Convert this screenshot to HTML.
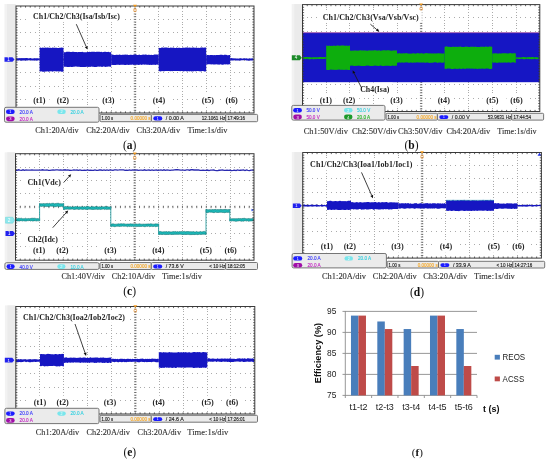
<!DOCTYPE html>
<html><head><meta charset="utf-8"><title>Figure</title>
<style>html,body{margin:0;padding:0;background:#fff;}svg{display:block;}</style></head>
<body><svg width="550" height="461" viewBox="0 0 550 461">
<defs><filter id="soft" x="0" y="0" width="550" height="461" filterUnits="userSpaceOnUse"><feGaussianBlur stdDeviation="0.35"/></filter></defs>
<rect width="550" height="461" fill="#fff"/>
<g filter="url(#soft)">
<rect width="550" height="461" fill="#fff"/>
<rect x="4.5" y="4" width="11.5" height="103.3" fill="#f2f2f2" />
<rect x="7" y="4" width="8.5" height="103.3" fill="#ebebeb" />
<rect x="16" y="6" width="238" height="107" fill="#ffffff" />
<path d="M39 8h1v1h-1zM39 11h1v1h-1zM39 14h1v1h-1zM39 16h1v1h-1zM39 19h1v1h-1zM39 22h1v1h-1zM39 24h1v1h-1zM39 27h1v1h-1zM39 30h1v1h-1zM39 32h1v1h-1zM39 35h1v1h-1zM39 38h1v1h-1zM39 40h1v1h-1zM39 43h1v1h-1zM39 46h1v1h-1zM39 48h1v1h-1zM39 51h1v1h-1zM39 54h1v1h-1zM39 56h1v1h-1zM39 59h1v1h-1zM39 62h1v1h-1zM39 64h1v1h-1zM39 67h1v1h-1zM39 70h1v1h-1zM39 72h1v1h-1zM39 75h1v1h-1zM39 78h1v1h-1zM39 80h1v1h-1zM39 83h1v1h-1zM39 86h1v1h-1zM39 88h1v1h-1zM39 91h1v1h-1zM39 94h1v1h-1zM39 96h1v1h-1zM39 99h1v1h-1zM39 102h1v1h-1zM39 104h1v1h-1zM39 107h1v1h-1zM39 110h1v1h-1zM63 8h1v1h-1zM63 11h1v1h-1zM63 14h1v1h-1zM63 16h1v1h-1zM63 19h1v1h-1zM63 22h1v1h-1zM63 24h1v1h-1zM63 27h1v1h-1zM63 30h1v1h-1zM63 32h1v1h-1zM63 35h1v1h-1zM63 38h1v1h-1zM63 40h1v1h-1zM63 43h1v1h-1zM63 46h1v1h-1zM63 48h1v1h-1zM63 51h1v1h-1zM63 54h1v1h-1zM63 56h1v1h-1zM63 59h1v1h-1zM63 62h1v1h-1zM63 64h1v1h-1zM63 67h1v1h-1zM63 70h1v1h-1zM63 72h1v1h-1zM63 75h1v1h-1zM63 78h1v1h-1zM63 80h1v1h-1zM63 83h1v1h-1zM63 86h1v1h-1zM63 88h1v1h-1zM63 91h1v1h-1zM63 94h1v1h-1zM63 96h1v1h-1zM63 99h1v1h-1zM63 102h1v1h-1zM63 104h1v1h-1zM63 107h1v1h-1zM63 110h1v1h-1zM87 8h1v1h-1zM87 11h1v1h-1zM87 14h1v1h-1zM87 16h1v1h-1zM87 19h1v1h-1zM87 22h1v1h-1zM87 24h1v1h-1zM87 27h1v1h-1zM87 30h1v1h-1zM87 32h1v1h-1zM87 35h1v1h-1zM87 38h1v1h-1zM87 40h1v1h-1zM87 43h1v1h-1zM87 46h1v1h-1zM87 48h1v1h-1zM87 51h1v1h-1zM87 54h1v1h-1zM87 56h1v1h-1zM87 59h1v1h-1zM87 62h1v1h-1zM87 64h1v1h-1zM87 67h1v1h-1zM87 70h1v1h-1zM87 72h1v1h-1zM87 75h1v1h-1zM87 78h1v1h-1zM87 80h1v1h-1zM87 83h1v1h-1zM87 86h1v1h-1zM87 88h1v1h-1zM87 91h1v1h-1zM87 94h1v1h-1zM87 96h1v1h-1zM87 99h1v1h-1zM87 102h1v1h-1zM87 104h1v1h-1zM87 107h1v1h-1zM87 110h1v1h-1zM111 8h1v1h-1zM111 11h1v1h-1zM111 14h1v1h-1zM111 16h1v1h-1zM111 19h1v1h-1zM111 22h1v1h-1zM111 24h1v1h-1zM111 27h1v1h-1zM111 30h1v1h-1zM111 32h1v1h-1zM111 35h1v1h-1zM111 38h1v1h-1zM111 40h1v1h-1zM111 43h1v1h-1zM111 46h1v1h-1zM111 48h1v1h-1zM111 51h1v1h-1zM111 54h1v1h-1zM111 56h1v1h-1zM111 59h1v1h-1zM111 62h1v1h-1zM111 64h1v1h-1zM111 67h1v1h-1zM111 70h1v1h-1zM111 72h1v1h-1zM111 75h1v1h-1zM111 78h1v1h-1zM111 80h1v1h-1zM111 83h1v1h-1zM111 86h1v1h-1zM111 88h1v1h-1zM111 91h1v1h-1zM111 94h1v1h-1zM111 96h1v1h-1zM111 99h1v1h-1zM111 102h1v1h-1zM111 104h1v1h-1zM111 107h1v1h-1zM111 110h1v1h-1zM135 8h1v1h-1zM135 11h1v1h-1zM135 14h1v1h-1zM135 16h1v1h-1zM135 19h1v1h-1zM135 22h1v1h-1zM135 24h1v1h-1zM135 27h1v1h-1zM135 30h1v1h-1zM135 32h1v1h-1zM135 35h1v1h-1zM135 38h1v1h-1zM135 40h1v1h-1zM135 43h1v1h-1zM135 46h1v1h-1zM135 48h1v1h-1zM135 51h1v1h-1zM135 54h1v1h-1zM135 56h1v1h-1zM135 59h1v1h-1zM135 62h1v1h-1zM135 64h1v1h-1zM135 67h1v1h-1zM135 70h1v1h-1zM135 72h1v1h-1zM135 75h1v1h-1zM135 78h1v1h-1zM135 80h1v1h-1zM135 83h1v1h-1zM135 86h1v1h-1zM135 88h1v1h-1zM135 91h1v1h-1zM135 94h1v1h-1zM135 96h1v1h-1zM135 99h1v1h-1zM135 102h1v1h-1zM135 104h1v1h-1zM135 107h1v1h-1zM135 110h1v1h-1zM158 8h1v1h-1zM158 11h1v1h-1zM158 14h1v1h-1zM158 16h1v1h-1zM158 19h1v1h-1zM158 22h1v1h-1zM158 24h1v1h-1zM158 27h1v1h-1zM158 30h1v1h-1zM158 32h1v1h-1zM158 35h1v1h-1zM158 38h1v1h-1zM158 40h1v1h-1zM158 43h1v1h-1zM158 46h1v1h-1zM158 48h1v1h-1zM158 51h1v1h-1zM158 54h1v1h-1zM158 56h1v1h-1zM158 59h1v1h-1zM158 62h1v1h-1zM158 64h1v1h-1zM158 67h1v1h-1zM158 70h1v1h-1zM158 72h1v1h-1zM158 75h1v1h-1zM158 78h1v1h-1zM158 80h1v1h-1zM158 83h1v1h-1zM158 86h1v1h-1zM158 88h1v1h-1zM158 91h1v1h-1zM158 94h1v1h-1zM158 96h1v1h-1zM158 99h1v1h-1zM158 102h1v1h-1zM158 104h1v1h-1zM158 107h1v1h-1zM158 110h1v1h-1zM182 8h1v1h-1zM182 11h1v1h-1zM182 14h1v1h-1zM182 16h1v1h-1zM182 19h1v1h-1zM182 22h1v1h-1zM182 24h1v1h-1zM182 27h1v1h-1zM182 30h1v1h-1zM182 32h1v1h-1zM182 35h1v1h-1zM182 38h1v1h-1zM182 40h1v1h-1zM182 43h1v1h-1zM182 46h1v1h-1zM182 48h1v1h-1zM182 51h1v1h-1zM182 54h1v1h-1zM182 56h1v1h-1zM182 59h1v1h-1zM182 62h1v1h-1zM182 64h1v1h-1zM182 67h1v1h-1zM182 70h1v1h-1zM182 72h1v1h-1zM182 75h1v1h-1zM182 78h1v1h-1zM182 80h1v1h-1zM182 83h1v1h-1zM182 86h1v1h-1zM182 88h1v1h-1zM182 91h1v1h-1zM182 94h1v1h-1zM182 96h1v1h-1zM182 99h1v1h-1zM182 102h1v1h-1zM182 104h1v1h-1zM182 107h1v1h-1zM182 110h1v1h-1zM206 8h1v1h-1zM206 11h1v1h-1zM206 14h1v1h-1zM206 16h1v1h-1zM206 19h1v1h-1zM206 22h1v1h-1zM206 24h1v1h-1zM206 27h1v1h-1zM206 30h1v1h-1zM206 32h1v1h-1zM206 35h1v1h-1zM206 38h1v1h-1zM206 40h1v1h-1zM206 43h1v1h-1zM206 46h1v1h-1zM206 48h1v1h-1zM206 51h1v1h-1zM206 54h1v1h-1zM206 56h1v1h-1zM206 59h1v1h-1zM206 62h1v1h-1zM206 64h1v1h-1zM206 67h1v1h-1zM206 70h1v1h-1zM206 72h1v1h-1zM206 75h1v1h-1zM206 78h1v1h-1zM206 80h1v1h-1zM206 83h1v1h-1zM206 86h1v1h-1zM206 88h1v1h-1zM206 91h1v1h-1zM206 94h1v1h-1zM206 96h1v1h-1zM206 99h1v1h-1zM206 102h1v1h-1zM206 104h1v1h-1zM206 107h1v1h-1zM206 110h1v1h-1zM230 8h1v1h-1zM230 11h1v1h-1zM230 14h1v1h-1zM230 16h1v1h-1zM230 19h1v1h-1zM230 22h1v1h-1zM230 24h1v1h-1zM230 27h1v1h-1zM230 30h1v1h-1zM230 32h1v1h-1zM230 35h1v1h-1zM230 38h1v1h-1zM230 40h1v1h-1zM230 43h1v1h-1zM230 46h1v1h-1zM230 48h1v1h-1zM230 51h1v1h-1zM230 54h1v1h-1zM230 56h1v1h-1zM230 59h1v1h-1zM230 62h1v1h-1zM230 64h1v1h-1zM230 67h1v1h-1zM230 70h1v1h-1zM230 72h1v1h-1zM230 75h1v1h-1zM230 78h1v1h-1zM230 80h1v1h-1zM230 83h1v1h-1zM230 86h1v1h-1zM230 88h1v1h-1zM230 91h1v1h-1zM230 94h1v1h-1zM230 96h1v1h-1zM230 99h1v1h-1zM230 102h1v1h-1zM230 104h1v1h-1zM230 107h1v1h-1zM230 110h1v1h-1zM20 19h1v1h-1zM25 19h1v1h-1zM30 19h1v1h-1zM35 19h1v1h-1zM39 19h1v1h-1zM44 19h1v1h-1zM49 19h1v1h-1zM54 19h1v1h-1zM58 19h1v1h-1zM63 19h1v1h-1zM68 19h1v1h-1zM73 19h1v1h-1zM77 19h1v1h-1zM82 19h1v1h-1zM87 19h1v1h-1zM92 19h1v1h-1zM96 19h1v1h-1zM101 19h1v1h-1zM106 19h1v1h-1zM111 19h1v1h-1zM115 19h1v1h-1zM120 19h1v1h-1zM125 19h1v1h-1zM130 19h1v1h-1zM135 19h1v1h-1zM139 19h1v1h-1zM144 19h1v1h-1zM149 19h1v1h-1zM154 19h1v1h-1zM158 19h1v1h-1zM163 19h1v1h-1zM168 19h1v1h-1zM173 19h1v1h-1zM177 19h1v1h-1zM182 19h1v1h-1zM187 19h1v1h-1zM192 19h1v1h-1zM196 19h1v1h-1zM201 19h1v1h-1zM206 19h1v1h-1zM211 19h1v1h-1zM215 19h1v1h-1zM220 19h1v1h-1zM225 19h1v1h-1zM230 19h1v1h-1zM234 19h1v1h-1zM239 19h1v1h-1zM244 19h1v1h-1zM249 19h1v1h-1zM20 32h1v1h-1zM25 32h1v1h-1zM30 32h1v1h-1zM35 32h1v1h-1zM39 32h1v1h-1zM44 32h1v1h-1zM49 32h1v1h-1zM54 32h1v1h-1zM58 32h1v1h-1zM63 32h1v1h-1zM68 32h1v1h-1zM73 32h1v1h-1zM77 32h1v1h-1zM82 32h1v1h-1zM87 32h1v1h-1zM92 32h1v1h-1zM96 32h1v1h-1zM101 32h1v1h-1zM106 32h1v1h-1zM111 32h1v1h-1zM115 32h1v1h-1zM120 32h1v1h-1zM125 32h1v1h-1zM130 32h1v1h-1zM135 32h1v1h-1zM139 32h1v1h-1zM144 32h1v1h-1zM149 32h1v1h-1zM154 32h1v1h-1zM158 32h1v1h-1zM163 32h1v1h-1zM168 32h1v1h-1zM173 32h1v1h-1zM177 32h1v1h-1zM182 32h1v1h-1zM187 32h1v1h-1zM192 32h1v1h-1zM196 32h1v1h-1zM201 32h1v1h-1zM206 32h1v1h-1zM211 32h1v1h-1zM215 32h1v1h-1zM220 32h1v1h-1zM225 32h1v1h-1zM230 32h1v1h-1zM234 32h1v1h-1zM239 32h1v1h-1zM244 32h1v1h-1zM249 32h1v1h-1zM20 46h1v1h-1zM25 46h1v1h-1zM30 46h1v1h-1zM35 46h1v1h-1zM39 46h1v1h-1zM44 46h1v1h-1zM49 46h1v1h-1zM54 46h1v1h-1zM58 46h1v1h-1zM63 46h1v1h-1zM68 46h1v1h-1zM73 46h1v1h-1zM77 46h1v1h-1zM82 46h1v1h-1zM87 46h1v1h-1zM92 46h1v1h-1zM96 46h1v1h-1zM101 46h1v1h-1zM106 46h1v1h-1zM111 46h1v1h-1zM115 46h1v1h-1zM120 46h1v1h-1zM125 46h1v1h-1zM130 46h1v1h-1zM135 46h1v1h-1zM139 46h1v1h-1zM144 46h1v1h-1zM149 46h1v1h-1zM154 46h1v1h-1zM158 46h1v1h-1zM163 46h1v1h-1zM168 46h1v1h-1zM173 46h1v1h-1zM177 46h1v1h-1zM182 46h1v1h-1zM187 46h1v1h-1zM192 46h1v1h-1zM196 46h1v1h-1zM201 46h1v1h-1zM206 46h1v1h-1zM211 46h1v1h-1zM215 46h1v1h-1zM220 46h1v1h-1zM225 46h1v1h-1zM230 46h1v1h-1zM234 46h1v1h-1zM239 46h1v1h-1zM244 46h1v1h-1zM249 46h1v1h-1zM20 59h1v1h-1zM25 59h1v1h-1zM30 59h1v1h-1zM35 59h1v1h-1zM39 59h1v1h-1zM44 59h1v1h-1zM49 59h1v1h-1zM54 59h1v1h-1zM58 59h1v1h-1zM63 59h1v1h-1zM68 59h1v1h-1zM73 59h1v1h-1zM77 59h1v1h-1zM82 59h1v1h-1zM87 59h1v1h-1zM92 59h1v1h-1zM96 59h1v1h-1zM101 59h1v1h-1zM106 59h1v1h-1zM111 59h1v1h-1zM115 59h1v1h-1zM120 59h1v1h-1zM125 59h1v1h-1zM130 59h1v1h-1zM135 59h1v1h-1zM139 59h1v1h-1zM144 59h1v1h-1zM149 59h1v1h-1zM154 59h1v1h-1zM158 59h1v1h-1zM163 59h1v1h-1zM168 59h1v1h-1zM173 59h1v1h-1zM177 59h1v1h-1zM182 59h1v1h-1zM187 59h1v1h-1zM192 59h1v1h-1zM196 59h1v1h-1zM201 59h1v1h-1zM206 59h1v1h-1zM211 59h1v1h-1zM215 59h1v1h-1zM220 59h1v1h-1zM225 59h1v1h-1zM230 59h1v1h-1zM234 59h1v1h-1zM239 59h1v1h-1zM244 59h1v1h-1zM249 59h1v1h-1zM20 72h1v1h-1zM25 72h1v1h-1zM30 72h1v1h-1zM35 72h1v1h-1zM39 72h1v1h-1zM44 72h1v1h-1zM49 72h1v1h-1zM54 72h1v1h-1zM58 72h1v1h-1zM63 72h1v1h-1zM68 72h1v1h-1zM73 72h1v1h-1zM77 72h1v1h-1zM82 72h1v1h-1zM87 72h1v1h-1zM92 72h1v1h-1zM96 72h1v1h-1zM101 72h1v1h-1zM106 72h1v1h-1zM111 72h1v1h-1zM115 72h1v1h-1zM120 72h1v1h-1zM125 72h1v1h-1zM130 72h1v1h-1zM135 72h1v1h-1zM139 72h1v1h-1zM144 72h1v1h-1zM149 72h1v1h-1zM154 72h1v1h-1zM158 72h1v1h-1zM163 72h1v1h-1zM168 72h1v1h-1zM173 72h1v1h-1zM177 72h1v1h-1zM182 72h1v1h-1zM187 72h1v1h-1zM192 72h1v1h-1zM196 72h1v1h-1zM201 72h1v1h-1zM206 72h1v1h-1zM211 72h1v1h-1zM215 72h1v1h-1zM220 72h1v1h-1zM225 72h1v1h-1zM230 72h1v1h-1zM234 72h1v1h-1zM239 72h1v1h-1zM244 72h1v1h-1zM249 72h1v1h-1zM20 86h1v1h-1zM25 86h1v1h-1zM30 86h1v1h-1zM35 86h1v1h-1zM39 86h1v1h-1zM44 86h1v1h-1zM49 86h1v1h-1zM54 86h1v1h-1zM58 86h1v1h-1zM63 86h1v1h-1zM68 86h1v1h-1zM73 86h1v1h-1zM77 86h1v1h-1zM82 86h1v1h-1zM87 86h1v1h-1zM92 86h1v1h-1zM96 86h1v1h-1zM101 86h1v1h-1zM106 86h1v1h-1zM111 86h1v1h-1zM115 86h1v1h-1zM120 86h1v1h-1zM125 86h1v1h-1zM130 86h1v1h-1zM135 86h1v1h-1zM139 86h1v1h-1zM144 86h1v1h-1zM149 86h1v1h-1zM154 86h1v1h-1zM158 86h1v1h-1zM163 86h1v1h-1zM168 86h1v1h-1zM173 86h1v1h-1zM177 86h1v1h-1zM182 86h1v1h-1zM187 86h1v1h-1zM192 86h1v1h-1zM196 86h1v1h-1zM201 86h1v1h-1zM206 86h1v1h-1zM211 86h1v1h-1zM215 86h1v1h-1zM220 86h1v1h-1zM225 86h1v1h-1zM230 86h1v1h-1zM234 86h1v1h-1zM239 86h1v1h-1zM244 86h1v1h-1zM249 86h1v1h-1zM20 99h1v1h-1zM25 99h1v1h-1zM30 99h1v1h-1zM35 99h1v1h-1zM39 99h1v1h-1zM44 99h1v1h-1zM49 99h1v1h-1zM54 99h1v1h-1zM58 99h1v1h-1zM63 99h1v1h-1zM68 99h1v1h-1zM73 99h1v1h-1zM77 99h1v1h-1zM82 99h1v1h-1zM87 99h1v1h-1zM92 99h1v1h-1zM96 99h1v1h-1zM101 99h1v1h-1zM106 99h1v1h-1zM111 99h1v1h-1zM115 99h1v1h-1zM120 99h1v1h-1zM125 99h1v1h-1zM130 99h1v1h-1zM135 99h1v1h-1zM139 99h1v1h-1zM144 99h1v1h-1zM149 99h1v1h-1zM154 99h1v1h-1zM158 99h1v1h-1zM163 99h1v1h-1zM168 99h1v1h-1zM173 99h1v1h-1zM177 99h1v1h-1zM182 99h1v1h-1zM187 99h1v1h-1zM192 99h1v1h-1zM196 99h1v1h-1zM201 99h1v1h-1zM206 99h1v1h-1zM211 99h1v1h-1zM215 99h1v1h-1zM220 99h1v1h-1zM225 99h1v1h-1zM230 99h1v1h-1zM234 99h1v1h-1zM239 99h1v1h-1zM244 99h1v1h-1zM249 99h1v1h-1z" fill="#ababab"/>
<path d="M20.76 58.3v2.4M25.52 58.3v2.4M30.28 58.3v2.4M35.04 58.3v2.4M39.8 58.3v2.4M44.56 58.3v2.4M49.32 58.3v2.4M54.08 58.3v2.4M58.84 58.3v2.4M63.6 58.3v2.4M68.36 58.3v2.4M73.12 58.3v2.4M77.88 58.3v2.4M82.64 58.3v2.4M87.4 58.3v2.4M92.16 58.3v2.4M96.92 58.3v2.4M101.68 58.3v2.4M106.44 58.3v2.4M111.2 58.3v2.4M115.96 58.3v2.4M120.72 58.3v2.4M125.48 58.3v2.4M130.24 58.3v2.4M135 58.3v2.4M139.76 58.3v2.4M144.52 58.3v2.4M149.28 58.3v2.4M154.04 58.3v2.4M158.8 58.3v2.4M163.56 58.3v2.4M168.32 58.3v2.4M173.08 58.3v2.4M177.84 58.3v2.4M182.6 58.3v2.4M187.36 58.3v2.4M192.12 58.3v2.4M196.88 58.3v2.4M201.64 58.3v2.4M206.4 58.3v2.4M211.16 58.3v2.4M215.92 58.3v2.4M220.68 58.3v2.4M225.44 58.3v2.4M230.2 58.3v2.4M234.96 58.3v2.4M239.72 58.3v2.4M244.48 58.3v2.4M249.24 58.3v2.4M133.8 8.68h2.4M133.8 11.35h2.4M133.8 14.03h2.4M133.8 16.7h2.4M133.8 19.38h2.4M133.8 22.05h2.4M133.8 24.73h2.4M133.8 27.4h2.4M133.8 30.07h2.4M133.8 32.75h2.4M133.8 35.42h2.4M133.8 38.1h2.4M133.8 40.77h2.4M133.8 43.45h2.4M133.8 46.12h2.4M133.8 48.8h2.4M133.8 51.48h2.4M133.8 54.15h2.4M133.8 56.83h2.4M133.8 59.5h2.4M133.8 62.17h2.4M133.8 64.85h2.4M133.8 67.53h2.4M133.8 70.2h2.4M133.8 72.88h2.4M133.8 75.55h2.4M133.8 78.22h2.4M133.8 80.9h2.4M133.8 83.58h2.4M133.8 86.25h2.4M133.8 88.92h2.4M133.8 91.6h2.4M133.8 94.28h2.4M133.8 96.95h2.4M133.8 99.62h2.4M133.8 102.3h2.4M133.8 104.97h2.4M133.8 107.65h2.4M133.8 110.33h2.4" stroke="#666" stroke-width="0.9" fill="none"/>
<path d="M16 58.19 L17 58.09 L18 58.39 L19 58.04 L20 58.32 L21 58.22 L22 58.03 L23 58.3 L24 58.02 L25 58.26 L26 58.04 L27 58.05 L28 58.25 L29 58.5 L30 58.07 L31 58.13 L32 58.38 L33 58.57 L34 58.35 L35 58.24 L36 58.59 L37 58.03 L38 58.52 L39 58.17 L39.6 58.3 L39.6 60.29 L38.6 60.27 L37.6 60.39 L36.6 60.69 L35.6 60.31 L34.6 60.55 L33.6 60.58 L32.6 60.42 L31.6 60.53 L30.6 60.24 L29.6 60.24 L28.6 60.32 L27.6 60.61 L26.6 60.46 L25.6 60.39 L24.6 60.55 L23.6 60.47 L22.6 60.38 L21.6 60.68 L20.6 60.62 L19.6 60.35 L18.6 60.54 L17.6 60.52 L16.6 60.73 L16 60.5Z" fill="#1414c2"/>
<path d="M39.6 47.84 L40.6 47.57 L41.6 47.99 L42.6 47.47 L43.6 47.65 L44.6 47.85 L45.6 47.49 L46.6 47.69 L47.6 47.42 L48.6 47.8 L49.6 47.86 L50.6 47.74 L51.6 47.93 L52.6 47.59 L53.6 47.82 L54.6 47.76 L55.6 47.75 L56.6 47.67 L57.6 47.9 L58.6 47.97 L59.6 47.68 L60.6 47.8 L61.6 47.44 L62.6 47.82 L63.5 47.7 L63.5 71.59 L62.5 71.8 L61.5 71.69 L60.5 71.37 L59.5 71.43 L58.5 71.6 L57.5 71.21 L56.5 71.48 L55.5 71.3 L54.5 71.27 L53.5 71.24 L52.5 71.66 L51.5 71.28 L50.5 71.35 L49.5 71.43 L48.5 71.72 L47.5 71.25 L46.5 71.47 L45.5 71.53 L44.5 71.73 L43.5 71.69 L42.5 71.72 L41.5 71.37 L40.5 71.45 L39.6 71.5Z" fill="#1414c2"/>
<path d="M63.5 51.92 L64.5 52.23 L65.5 52.27 L66.5 51.79 L67.5 51.81 L68.5 51.84 L69.5 51.84 L70.5 51.99 L71.5 52.05 L72.5 51.86 L73.5 51.7 L74.5 51.95 L75.5 51.92 L76.5 52.04 L77.5 52.27 L78.5 52.11 L79.5 52.01 L80.5 52.07 L81.5 52.11 L82.5 51.73 L83.5 52.24 L84.5 52.17 L85.5 52.22 L86.5 52.18 L87.5 51.94 L88.5 51.94 L89.5 51.76 L90.5 52.08 L91.5 51.74 L92.5 51.74 L93.5 51.83 L94.5 51.8 L95.5 51.9 L96.5 51.73 L97.5 51.7 L98.5 51.79 L99.5 51.76 L100.5 51.92 L101.5 51.72 L102.5 52.22 L103.5 52.07 L104.5 51.79 L105.5 51.85 L106.5 51.91 L107.5 51.92 L108.5 51.77 L109.5 52.21 L110.5 52.3 L111.2 52 L111.2 66.78 L110.2 66.79 L109.2 66.55 L108.2 66.56 L107.2 66.71 L106.2 66.66 L105.2 67 L104.2 66.6 L103.2 66.51 L102.2 67.07 L101.2 66.82 L100.2 66.59 L99.2 66.83 L98.2 66.52 L97.2 66.82 L96.2 67.09 L95.2 67.02 L94.2 66.92 L93.2 66.66 L92.2 66.72 L91.2 66.6 L90.2 66.96 L89.2 66.82 L88.2 66.97 L87.2 66.7 L86.2 66.63 L85.2 66.99 L84.2 67.09 L83.2 67.01 L82.2 66.98 L81.2 66.99 L80.2 66.94 L79.2 66.64 L78.2 66.81 L77.2 66.71 L76.2 66.52 L75.2 66.52 L74.2 66.67 L73.2 66.66 L72.2 66.92 L71.2 67.07 L70.2 66.77 L69.2 67.06 L68.2 67.09 L67.2 67.07 L66.2 66.72 L65.2 66.63 L64.2 66.64 L63.5 66.8Z" fill="#1414c2"/>
<path d="M111.2 54.52 L112.2 54.52 L113.2 54.77 L114.2 54.94 L115.2 54.9 L116.2 54.69 L117.2 54.79 L118.2 54.88 L119.2 54.45 L120.2 54.8 L121.2 54.95 L122.2 54.87 L123.2 54.85 L124.2 54.69 L125.2 54.51 L126.2 54.87 L127.2 54.6 L128.2 54.88 L129.2 54.98 L130.2 54.64 L131.2 54.64 L132.2 54.97 L133.2 54.83 L134.2 54.5 L135.2 54.48 L136.2 54.49 L137.2 54.94 L138.2 54.88 L139.2 54.49 L140.2 54.9 L141.2 54.99 L142.2 54.79 L143.2 54.61 L144.2 54.73 L145.2 54.48 L146.2 54.41 L147.2 54.98 L148.2 54.79 L149.2 54.72 L150.2 54.96 L151.2 54.66 L152.2 54.92 L153.2 54.9 L154.2 54.53 L155.2 54.55 L156.2 54.58 L157.2 54.54 L158.2 54.75 L158.7 54.7 L158.7 64.66 L157.7 64.75 L156.7 64.58 L155.7 65.05 L154.7 64.71 L153.7 64.77 L152.7 64.85 L151.7 65.04 L150.7 64.75 L149.7 65.05 L148.7 64.8 L147.7 64.82 L146.7 64.81 L145.7 64.51 L144.7 64.76 L143.7 64.61 L142.7 64.5 L141.7 64.98 L140.7 64.6 L139.7 64.78 L138.7 64.94 L137.7 64.83 L136.7 64.7 L135.7 64.81 L134.7 64.83 L133.7 64.97 L132.7 64.56 L131.7 64.84 L130.7 64.65 L129.7 64.67 L128.7 64.96 L127.7 64.8 L126.7 64.84 L125.7 64.96 L124.7 65.05 L123.7 64.77 L122.7 64.87 L121.7 64.8 L120.7 64.81 L119.7 64.92 L118.7 64.77 L117.7 64.82 L116.7 64.79 L115.7 65.06 L114.7 64.92 L113.7 65.03 L112.7 65.07 L111.7 64.66 L111.2 64.8Z" fill="#1414c2"/>
<path d="M158.7 47.74 L159.7 47.97 L160.7 47.9 L161.7 47.48 L162.7 47.47 L163.7 47.67 L164.7 47.44 L165.7 47.54 L166.7 47.44 L167.7 47.8 L168.7 47.87 L169.7 47.94 L170.7 47.49 L171.7 47.83 L172.7 47.8 L173.7 47.49 L174.7 47.93 L175.7 47.98 L176.7 47.53 L177.7 47.97 L178.7 47.64 L179.7 47.69 L180.7 47.99 L181.7 47.9 L182.7 47.5 L183.7 47.66 L184.7 47.71 L185.7 47.6 L186.7 47.52 L187.7 47.59 L188.7 47.83 L189.7 47.41 L190.7 47.73 L191.7 47.66 L192.7 47.41 L193.7 47.6 L194.7 47.77 L195.7 47.71 L196.7 47.44 L197.7 47.99 L198.7 47.87 L199.7 47.98 L200.7 47.46 L201.7 47.56 L202.7 47.42 L203.7 47.87 L204.7 47.56 L205.7 47.48 L206.2 47.7 L206.2 71.15 L205.2 71.45 L204.2 71.39 L203.2 71.06 L202.2 70.99 L201.2 71.45 L200.2 71.24 L199.2 71.32 L198.2 70.95 L197.2 70.93 L196.2 71.31 L195.2 71.16 L194.2 70.94 L193.2 71.46 L192.2 71.28 L191.2 71.38 L190.2 70.95 L189.2 71.41 L188.2 70.94 L187.2 71.42 L186.2 71.17 L185.2 71.1 L184.2 71.23 L183.2 71.46 L182.2 71.06 L181.2 70.98 L180.2 71.22 L179.2 71.04 L178.2 70.97 L177.2 71 L176.2 70.93 L175.2 71.02 L174.2 71.09 L173.2 71.08 L172.2 71.36 L171.2 71.07 L170.2 71.2 L169.2 71.01 L168.2 71.11 L167.2 70.91 L166.2 71.05 L165.2 70.91 L164.2 71.34 L163.2 71.23 L162.2 71.01 L161.2 71.18 L160.2 71.46 L159.2 70.96 L158.7 71.2Z" fill="#1414c2"/>
<path d="M206.2 55.19 L207.2 54.96 L208.2 55 L209.2 55.2 L210.2 54.94 L211.2 55 L212.2 55.11 L213.2 55.29 L214.2 54.91 L215.2 55.2 L216.2 55.12 L217.2 55.08 L218.2 54.94 L219.2 54.91 L220.2 54.73 L221.2 54.78 L222.2 54.74 L223.2 55.14 L224.2 54.85 L225.2 54.8 L226.2 54.75 L227.2 55.2 L228.2 55.22 L229.2 55.1 L230.2 55 L230.2 64.37 L229.2 64.35 L228.2 64.38 L227.2 64.48 L226.2 64.29 L225.2 64.47 L224.2 64.36 L223.2 64.78 L222.2 64.78 L221.2 64.53 L220.2 64.35 L219.2 64.78 L218.2 64.39 L217.2 64.41 L216.2 64.2 L215.2 64.43 L214.2 64.48 L213.2 64.5 L212.2 64.32 L211.2 64.5 L210.2 64.2 L209.2 64.36 L208.2 64.25 L207.2 64.44 L206.2 64.5Z" fill="#1414c2"/>
<path d="M230.2 58.13 L231.2 58.11 L232.2 58.28 L233.2 58.24 L234.2 58.45 L235.2 58.42 L236.2 58.55 L237.2 58.49 L238.2 58.53 L239.2 58.63 L240.2 58.33 L241.2 58.3 L242.2 58.69 L243.2 58.19 L244.2 58.53 L245.2 58.49 L246.2 58.13 L247.2 58.6 L248.2 58.64 L249.2 58.48 L250.2 58.54 L251.2 58.59 L252.2 58.18 L253.2 58.41 L253.5 58.4 L253.5 60.4 L252.5 60.6 L251.5 60.58 L250.5 60.6 L249.5 60.45 L248.5 60.64 L247.5 60.51 L246.5 60.52 L245.5 60.24 L244.5 60.12 L243.5 60.18 L242.5 60.32 L241.5 60.16 L240.5 60.6 L239.5 60.44 L238.5 60.48 L237.5 60.48 L236.5 60.51 L235.5 60.39 L234.5 60.1 L233.5 60.58 L232.5 60.55 L231.5 60.4 L230.5 60.42 L230.2 60.4Z" fill="#1414c2"/>
<path d="M4.5 57.3h8l2 2.2-2 2.2h-8z" fill="#2222ee"/>
<text x="8.5" y="61.3" font-family="'Liberation Sans', sans-serif" font-size="4.5" fill="#fff" text-anchor="middle" >1</text>
<rect x="16" y="6" width="238" height="107" fill="none" stroke="#3a3a3a" stroke-width="1"/>
<path d="M20.76 6v1.6M20.76 113v-1.6M25.52 6v1.6M25.52 113v-1.6M30.28 6v1.6M30.28 113v-1.6M35.04 6v1.6M35.04 113v-1.6M39.8 6v1.6M39.8 113v-1.6M44.56 6v1.6M44.56 113v-1.6M49.32 6v1.6M49.32 113v-1.6M54.08 6v1.6M54.08 113v-1.6M58.84 6v1.6M58.84 113v-1.6M63.6 6v1.6M63.6 113v-1.6M68.36 6v1.6M68.36 113v-1.6M73.12 6v1.6M73.12 113v-1.6M77.88 6v1.6M77.88 113v-1.6M82.64 6v1.6M82.64 113v-1.6M87.4 6v1.6M87.4 113v-1.6M92.16 6v1.6M92.16 113v-1.6M96.92 6v1.6M96.92 113v-1.6M101.68 6v1.6M101.68 113v-1.6M106.44 6v1.6M106.44 113v-1.6M111.2 6v1.6M111.2 113v-1.6M115.96 6v1.6M115.96 113v-1.6M120.72 6v1.6M120.72 113v-1.6M125.48 6v1.6M125.48 113v-1.6M130.24 6v1.6M130.24 113v-1.6M135 6v1.6M135 113v-1.6M139.76 6v1.6M139.76 113v-1.6M144.52 6v1.6M144.52 113v-1.6M149.28 6v1.6M149.28 113v-1.6M154.04 6v1.6M154.04 113v-1.6M158.8 6v1.6M158.8 113v-1.6M163.56 6v1.6M163.56 113v-1.6M168.32 6v1.6M168.32 113v-1.6M173.08 6v1.6M173.08 113v-1.6M177.84 6v1.6M177.84 113v-1.6M182.6 6v1.6M182.6 113v-1.6M187.36 6v1.6M187.36 113v-1.6M192.12 6v1.6M192.12 113v-1.6M196.88 6v1.6M196.88 113v-1.6M201.64 6v1.6M201.64 113v-1.6M206.4 6v1.6M206.4 113v-1.6M211.16 6v1.6M211.16 113v-1.6M215.92 6v1.6M215.92 113v-1.6M220.68 6v1.6M220.68 113v-1.6M225.44 6v1.6M225.44 113v-1.6M230.2 6v1.6M230.2 113v-1.6M234.96 6v1.6M234.96 113v-1.6M239.72 6v1.6M239.72 113v-1.6M244.48 6v1.6M244.48 113v-1.6M249.24 6v1.6M249.24 113v-1.6M16 8.68h1.6M254 8.68h-1.6M16 11.35h1.6M254 11.35h-1.6M16 14.03h1.6M254 14.03h-1.6M16 16.7h1.6M254 16.7h-1.6M16 19.38h1.6M254 19.38h-1.6M16 22.05h1.6M254 22.05h-1.6M16 24.73h1.6M254 24.73h-1.6M16 27.4h1.6M254 27.4h-1.6M16 30.07h1.6M254 30.07h-1.6M16 32.75h1.6M254 32.75h-1.6M16 35.42h1.6M254 35.42h-1.6M16 38.1h1.6M254 38.1h-1.6M16 40.77h1.6M254 40.77h-1.6M16 43.45h1.6M254 43.45h-1.6M16 46.12h1.6M254 46.12h-1.6M16 48.8h1.6M254 48.8h-1.6M16 51.48h1.6M254 51.48h-1.6M16 54.15h1.6M254 54.15h-1.6M16 56.83h1.6M254 56.83h-1.6M16 59.5h1.6M254 59.5h-1.6M16 62.17h1.6M254 62.17h-1.6M16 64.85h1.6M254 64.85h-1.6M16 67.53h1.6M254 67.53h-1.6M16 70.2h1.6M254 70.2h-1.6M16 72.88h1.6M254 72.88h-1.6M16 75.55h1.6M254 75.55h-1.6M16 78.22h1.6M254 78.22h-1.6M16 80.9h1.6M254 80.9h-1.6M16 83.58h1.6M254 83.58h-1.6M16 86.25h1.6M254 86.25h-1.6M16 88.92h1.6M254 88.92h-1.6M16 91.6h1.6M254 91.6h-1.6M16 94.28h1.6M254 94.28h-1.6M16 96.95h1.6M254 96.95h-1.6M16 99.62h1.6M254 99.62h-1.6M16 102.3h1.6M254 102.3h-1.6M16 104.97h1.6M254 104.97h-1.6M16 107.65h1.6M254 107.65h-1.6M16 110.33h1.6M254 110.33h-1.6" stroke="#333" stroke-width="0.75" fill="none"/>
<path d="M133 4.8h4l-2 2.4z" fill="#f39a1e"/>
<ellipse cx="135" cy="10.2" rx="1.3" ry="1.6" fill="none" stroke="#f5a040" stroke-width="0.8"/>
<rect x="29.4" y="93.7" width="20" height="13" fill="#fff" />
<rect x="52.9" y="93.7" width="20" height="13" fill="#fff" />
<rect x="98.4" y="93.7" width="20" height="13" fill="#fff" />
<rect x="149" y="93.7" width="20" height="13" fill="#fff" />
<rect x="197.9" y="93.7" width="20" height="13" fill="#fff" />
<rect x="221.6" y="93.7" width="20" height="13" fill="#fff" />
<text x="39.4" y="103.2" font-family="'Liberation Serif', serif" font-size="8.2" fill="#262626" font-weight="bold" text-anchor="middle" textLength="12.3" lengthAdjust="spacingAndGlyphs" >(t1)</text>
<text x="62.9" y="103.2" font-family="'Liberation Serif', serif" font-size="8.2" fill="#262626" font-weight="bold" text-anchor="middle" textLength="12.3" lengthAdjust="spacingAndGlyphs" >(t2)</text>
<text x="108.4" y="103.2" font-family="'Liberation Serif', serif" font-size="8.2" fill="#262626" font-weight="bold" text-anchor="middle" textLength="12.3" lengthAdjust="spacingAndGlyphs" >(t3)</text>
<text x="159" y="103.2" font-family="'Liberation Serif', serif" font-size="8.2" fill="#262626" font-weight="bold" text-anchor="middle" textLength="12.3" lengthAdjust="spacingAndGlyphs" >(t4)</text>
<text x="207.9" y="103.2" font-family="'Liberation Serif', serif" font-size="8.2" fill="#262626" font-weight="bold" text-anchor="middle" textLength="12.3" lengthAdjust="spacingAndGlyphs" >(t5)</text>
<text x="231.6" y="103.2" font-family="'Liberation Serif', serif" font-size="8.2" fill="#262626" font-weight="bold" text-anchor="middle" textLength="12.3" lengthAdjust="spacingAndGlyphs" >(t6)</text>
<rect x="30" y="10.2" width="93" height="12" fill="#fff" />
<text x="33" y="19.2" font-family="'Liberation Serif', serif" font-size="8.5" fill="#262626" font-weight="bold" textLength="87" lengthAdjust="spacingAndGlyphs" >Ch1/Ch2/Ch3(Isa/Isb/Isc)</text>
<line x1="76.3" y1="24.2" x2="86.21" y2="46.67" stroke="#111" stroke-width="0.8" />
<polygon points="87.5,49.6 84.84,47.28 87.58,46.07" fill="#111"/>
<rect x="4.5" y="107.3" width="94.5" height="14.9" rx="1.5" fill="#ebebeb" stroke="#666" stroke-width="0.9"/>
<rect x="6" y="109.6" width="8.7" height="4.5" rx="2.25" fill="#1a1aff"/>
<text x="10.35" y="113.2" font-family="'Liberation Sans', sans-serif" font-size="3.82" fill="#fff" text-anchor="middle" >1</text>
<text x="19.6" y="113.7" font-family="'Liberation Sans', sans-serif" font-size="5.9" fill="#3434ff" stroke="#3434ff" stroke-width="0.15" textLength="13.2" lengthAdjust="spacingAndGlyphs" >20.0 A</text>
<rect x="6" y="116.4" width="8.7" height="4.8" rx="2.4" fill="#a010a8"/>
<text x="10.35" y="120.3" font-family="'Liberation Sans', sans-serif" font-size="4.08" fill="#fff" text-anchor="middle" >3</text>
<text x="19.6" y="120.8" font-family="'Liberation Sans', sans-serif" font-size="5.9" fill="#c020c0" stroke="#c020c0" stroke-width="0.15" textLength="13.2" lengthAdjust="spacingAndGlyphs" >20.0 A</text>
<rect x="57.3" y="109.6" width="8.5" height="4.5" rx="2.25" fill="#7ae6ec"/>
<text x="61.55" y="113.2" font-family="'Liberation Sans', sans-serif" font-size="3.82" fill="#fff" text-anchor="middle" >2</text>
<text x="70.5" y="113.7" font-family="'Liberation Sans', sans-serif" font-size="5.9" fill="#30d0e0" stroke="#30d0e0" stroke-width="0.15" textLength="13.2" lengthAdjust="spacingAndGlyphs" >20.0 A</text>
<rect x="100.1" y="114.4" width="51.3" height="7.3" rx="1" fill="#ebebeb" stroke="#666" stroke-width="0.9"/>
<rect x="151.4" y="114.4" width="74.3" height="7.3" rx="1" fill="#ebebeb" stroke="#666" stroke-width="0.9"/>
<rect x="225.7" y="114.4" width="31.9" height="7.3" rx="1" fill="#ebebeb" stroke="#666" stroke-width="0.9"/>
<text x="101.5" y="120.4" font-family="'Liberation Sans', sans-serif" font-size="6" fill="#1a1a1a" stroke="#1a1a1a" stroke-width="0.15" textLength="11.7" lengthAdjust="spacingAndGlyphs" >1.00 s</text>
<text x="150.6" y="120.4" font-family="'Liberation Sans', sans-serif" font-size="6" fill="#f5a623" stroke="#f5a623" stroke-width="0.15" text-anchor="end" textLength="20" lengthAdjust="spacingAndGlyphs" >0.00000 s</text>
<text x="165.8" y="120.4" font-family="'Liberation Sans', sans-serif" font-size="6" fill="#1a1a1a" stroke="#1a1a1a" stroke-width="0.15" textLength="18" lengthAdjust="spacingAndGlyphs" >/ 0.00 A</text>
<text x="225.3" y="120.4" font-family="'Liberation Sans', sans-serif" font-size="6" fill="#1a1a1a" stroke="#1a1a1a" stroke-width="0.15" text-anchor="end" textLength="23.5" lengthAdjust="spacingAndGlyphs" >12.1061 Hz</text>
<text x="227.5" y="120.4" font-family="'Liberation Sans', sans-serif" font-size="6" fill="#1a1a1a" stroke="#1a1a1a" stroke-width="0.15" textLength="17.6" lengthAdjust="spacingAndGlyphs" >17:49:16</text>
<rect x="153.3" y="116.3" width="9" height="4.3" rx="2.15" fill="#1a1aff"/>
<text x="157.8" y="119.7" font-family="'Liberation Sans', sans-serif" font-size="3.65" fill="#fff" text-anchor="middle" >1</text>
<text x="35.2" y="133" font-family="'Liberation Serif', serif" font-size="8.4" fill="#333" stroke="#333" stroke-width="0.12" textLength="43.5" lengthAdjust="spacingAndGlyphs" >Ch1:20A/div</text>
<text x="86.3" y="133" font-family="'Liberation Serif', serif" font-size="8.4" fill="#333" stroke="#333" stroke-width="0.12" textLength="43.5" lengthAdjust="spacingAndGlyphs" >Ch2:20A/div</text>
<text x="136.6" y="133" font-family="'Liberation Serif', serif" font-size="8.4" fill="#333" stroke="#333" stroke-width="0.12" textLength="43.5" lengthAdjust="spacingAndGlyphs" >Ch3:20A/div</text>
<text x="187.5" y="133" font-family="'Liberation Serif', serif" font-size="8.4" fill="#333" stroke="#333" stroke-width="0.12" textLength="40" lengthAdjust="spacingAndGlyphs" >Time:1s/div</text>
<text x="129.6" y="149" font-family="'Liberation Serif', serif" font-size="11.5" fill="#111" text-anchor="middle">(<tspan font-weight="bold">a</tspan>)</text>
<rect x="291.7" y="4" width="10.8" height="101.4" fill="#f2f2f2" />
<rect x="294.2" y="4" width="7.8" height="101.4" fill="#ebebeb" />
<rect x="302.5" y="4.6" width="237.3" height="106.9" fill="#ffffff" />
<path d="M326 7h1v1h-1zM326 9h1v1h-1zM326 12h1v1h-1zM326 15h1v1h-1zM326 17h1v1h-1zM326 20h1v1h-1zM326 23h1v1h-1zM326 25h1v1h-1zM326 28h1v1h-1zM326 31h1v1h-1zM326 33h1v1h-1zM326 36h1v1h-1zM326 39h1v1h-1zM326 42h1v1h-1zM326 44h1v1h-1zM326 47h1v1h-1zM326 50h1v1h-1zM326 52h1v1h-1zM326 55h1v1h-1zM326 58h1v1h-1zM326 60h1v1h-1zM326 63h1v1h-1zM326 66h1v1h-1zM326 68h1v1h-1zM326 71h1v1h-1zM326 74h1v1h-1zM326 76h1v1h-1zM326 79h1v1h-1zM326 82h1v1h-1zM326 84h1v1h-1zM326 87h1v1h-1zM326 90h1v1h-1zM326 92h1v1h-1zM326 95h1v1h-1zM326 98h1v1h-1zM326 100h1v1h-1zM326 103h1v1h-1zM326 106h1v1h-1zM326 108h1v1h-1zM349 7h1v1h-1zM349 9h1v1h-1zM349 12h1v1h-1zM349 15h1v1h-1zM349 17h1v1h-1zM349 20h1v1h-1zM349 23h1v1h-1zM349 25h1v1h-1zM349 28h1v1h-1zM349 31h1v1h-1zM349 33h1v1h-1zM349 36h1v1h-1zM349 39h1v1h-1zM349 42h1v1h-1zM349 44h1v1h-1zM349 47h1v1h-1zM349 50h1v1h-1zM349 52h1v1h-1zM349 55h1v1h-1zM349 58h1v1h-1zM349 60h1v1h-1zM349 63h1v1h-1zM349 66h1v1h-1zM349 68h1v1h-1zM349 71h1v1h-1zM349 74h1v1h-1zM349 76h1v1h-1zM349 79h1v1h-1zM349 82h1v1h-1zM349 84h1v1h-1zM349 87h1v1h-1zM349 90h1v1h-1zM349 92h1v1h-1zM349 95h1v1h-1zM349 98h1v1h-1zM349 100h1v1h-1zM349 103h1v1h-1zM349 106h1v1h-1zM349 108h1v1h-1zM373 7h1v1h-1zM373 9h1v1h-1zM373 12h1v1h-1zM373 15h1v1h-1zM373 17h1v1h-1zM373 20h1v1h-1zM373 23h1v1h-1zM373 25h1v1h-1zM373 28h1v1h-1zM373 31h1v1h-1zM373 33h1v1h-1zM373 36h1v1h-1zM373 39h1v1h-1zM373 42h1v1h-1zM373 44h1v1h-1zM373 47h1v1h-1zM373 50h1v1h-1zM373 52h1v1h-1zM373 55h1v1h-1zM373 58h1v1h-1zM373 60h1v1h-1zM373 63h1v1h-1zM373 66h1v1h-1zM373 68h1v1h-1zM373 71h1v1h-1zM373 74h1v1h-1zM373 76h1v1h-1zM373 79h1v1h-1zM373 82h1v1h-1zM373 84h1v1h-1zM373 87h1v1h-1zM373 90h1v1h-1zM373 92h1v1h-1zM373 95h1v1h-1zM373 98h1v1h-1zM373 100h1v1h-1zM373 103h1v1h-1zM373 106h1v1h-1zM373 108h1v1h-1zM397 7h1v1h-1zM397 9h1v1h-1zM397 12h1v1h-1zM397 15h1v1h-1zM397 17h1v1h-1zM397 20h1v1h-1zM397 23h1v1h-1zM397 25h1v1h-1zM397 28h1v1h-1zM397 31h1v1h-1zM397 33h1v1h-1zM397 36h1v1h-1zM397 39h1v1h-1zM397 42h1v1h-1zM397 44h1v1h-1zM397 47h1v1h-1zM397 50h1v1h-1zM397 52h1v1h-1zM397 55h1v1h-1zM397 58h1v1h-1zM397 60h1v1h-1zM397 63h1v1h-1zM397 66h1v1h-1zM397 68h1v1h-1zM397 71h1v1h-1zM397 74h1v1h-1zM397 76h1v1h-1zM397 79h1v1h-1zM397 82h1v1h-1zM397 84h1v1h-1zM397 87h1v1h-1zM397 90h1v1h-1zM397 92h1v1h-1zM397 95h1v1h-1zM397 98h1v1h-1zM397 100h1v1h-1zM397 103h1v1h-1zM397 106h1v1h-1zM397 108h1v1h-1zM421 7h1v1h-1zM421 9h1v1h-1zM421 12h1v1h-1zM421 15h1v1h-1zM421 17h1v1h-1zM421 20h1v1h-1zM421 23h1v1h-1zM421 25h1v1h-1zM421 28h1v1h-1zM421 31h1v1h-1zM421 33h1v1h-1zM421 36h1v1h-1zM421 39h1v1h-1zM421 42h1v1h-1zM421 44h1v1h-1zM421 47h1v1h-1zM421 50h1v1h-1zM421 52h1v1h-1zM421 55h1v1h-1zM421 58h1v1h-1zM421 60h1v1h-1zM421 63h1v1h-1zM421 66h1v1h-1zM421 68h1v1h-1zM421 71h1v1h-1zM421 74h1v1h-1zM421 76h1v1h-1zM421 79h1v1h-1zM421 82h1v1h-1zM421 84h1v1h-1zM421 87h1v1h-1zM421 90h1v1h-1zM421 92h1v1h-1zM421 95h1v1h-1zM421 98h1v1h-1zM421 100h1v1h-1zM421 103h1v1h-1zM421 106h1v1h-1zM421 108h1v1h-1zM444 7h1v1h-1zM444 9h1v1h-1zM444 12h1v1h-1zM444 15h1v1h-1zM444 17h1v1h-1zM444 20h1v1h-1zM444 23h1v1h-1zM444 25h1v1h-1zM444 28h1v1h-1zM444 31h1v1h-1zM444 33h1v1h-1zM444 36h1v1h-1zM444 39h1v1h-1zM444 42h1v1h-1zM444 44h1v1h-1zM444 47h1v1h-1zM444 50h1v1h-1zM444 52h1v1h-1zM444 55h1v1h-1zM444 58h1v1h-1zM444 60h1v1h-1zM444 63h1v1h-1zM444 66h1v1h-1zM444 68h1v1h-1zM444 71h1v1h-1zM444 74h1v1h-1zM444 76h1v1h-1zM444 79h1v1h-1zM444 82h1v1h-1zM444 84h1v1h-1zM444 87h1v1h-1zM444 90h1v1h-1zM444 92h1v1h-1zM444 95h1v1h-1zM444 98h1v1h-1zM444 100h1v1h-1zM444 103h1v1h-1zM444 106h1v1h-1zM444 108h1v1h-1zM468 7h1v1h-1zM468 9h1v1h-1zM468 12h1v1h-1zM468 15h1v1h-1zM468 17h1v1h-1zM468 20h1v1h-1zM468 23h1v1h-1zM468 25h1v1h-1zM468 28h1v1h-1zM468 31h1v1h-1zM468 33h1v1h-1zM468 36h1v1h-1zM468 39h1v1h-1zM468 42h1v1h-1zM468 44h1v1h-1zM468 47h1v1h-1zM468 50h1v1h-1zM468 52h1v1h-1zM468 55h1v1h-1zM468 58h1v1h-1zM468 60h1v1h-1zM468 63h1v1h-1zM468 66h1v1h-1zM468 68h1v1h-1zM468 71h1v1h-1zM468 74h1v1h-1zM468 76h1v1h-1zM468 79h1v1h-1zM468 82h1v1h-1zM468 84h1v1h-1zM468 87h1v1h-1zM468 90h1v1h-1zM468 92h1v1h-1zM468 95h1v1h-1zM468 98h1v1h-1zM468 100h1v1h-1zM468 103h1v1h-1zM468 106h1v1h-1zM468 108h1v1h-1zM492 7h1v1h-1zM492 9h1v1h-1zM492 12h1v1h-1zM492 15h1v1h-1zM492 17h1v1h-1zM492 20h1v1h-1zM492 23h1v1h-1zM492 25h1v1h-1zM492 28h1v1h-1zM492 31h1v1h-1zM492 33h1v1h-1zM492 36h1v1h-1zM492 39h1v1h-1zM492 42h1v1h-1zM492 44h1v1h-1zM492 47h1v1h-1zM492 50h1v1h-1zM492 52h1v1h-1zM492 55h1v1h-1zM492 58h1v1h-1zM492 60h1v1h-1zM492 63h1v1h-1zM492 66h1v1h-1zM492 68h1v1h-1zM492 71h1v1h-1zM492 74h1v1h-1zM492 76h1v1h-1zM492 79h1v1h-1zM492 82h1v1h-1zM492 84h1v1h-1zM492 87h1v1h-1zM492 90h1v1h-1zM492 92h1v1h-1zM492 95h1v1h-1zM492 98h1v1h-1zM492 100h1v1h-1zM492 103h1v1h-1zM492 106h1v1h-1zM492 108h1v1h-1zM516 7h1v1h-1zM516 9h1v1h-1zM516 12h1v1h-1zM516 15h1v1h-1zM516 17h1v1h-1zM516 20h1v1h-1zM516 23h1v1h-1zM516 25h1v1h-1zM516 28h1v1h-1zM516 31h1v1h-1zM516 33h1v1h-1zM516 36h1v1h-1zM516 39h1v1h-1zM516 42h1v1h-1zM516 44h1v1h-1zM516 47h1v1h-1zM516 50h1v1h-1zM516 52h1v1h-1zM516 55h1v1h-1zM516 58h1v1h-1zM516 60h1v1h-1zM516 63h1v1h-1zM516 66h1v1h-1zM516 68h1v1h-1zM516 71h1v1h-1zM516 74h1v1h-1zM516 76h1v1h-1zM516 79h1v1h-1zM516 82h1v1h-1zM516 84h1v1h-1zM516 87h1v1h-1zM516 90h1v1h-1zM516 92h1v1h-1zM516 95h1v1h-1zM516 98h1v1h-1zM516 100h1v1h-1zM516 103h1v1h-1zM516 106h1v1h-1zM516 108h1v1h-1zM307 17h1v1h-1zM311 17h1v1h-1zM316 17h1v1h-1zM321 17h1v1h-1zM326 17h1v1h-1zM330 17h1v1h-1zM335 17h1v1h-1zM340 17h1v1h-1zM345 17h1v1h-1zM349 17h1v1h-1zM354 17h1v1h-1zM359 17h1v1h-1zM364 17h1v1h-1zM368 17h1v1h-1zM373 17h1v1h-1zM378 17h1v1h-1zM383 17h1v1h-1zM387 17h1v1h-1zM392 17h1v1h-1zM397 17h1v1h-1zM402 17h1v1h-1zM406 17h1v1h-1zM411 17h1v1h-1zM416 17h1v1h-1zM421 17h1v1h-1zM425 17h1v1h-1zM430 17h1v1h-1zM435 17h1v1h-1zM440 17h1v1h-1zM444 17h1v1h-1zM449 17h1v1h-1zM454 17h1v1h-1zM459 17h1v1h-1zM463 17h1v1h-1zM468 17h1v1h-1zM473 17h1v1h-1zM478 17h1v1h-1zM482 17h1v1h-1zM487 17h1v1h-1zM492 17h1v1h-1zM497 17h1v1h-1zM501 17h1v1h-1zM506 17h1v1h-1zM511 17h1v1h-1zM516 17h1v1h-1zM520 17h1v1h-1zM525 17h1v1h-1zM530 17h1v1h-1zM535 17h1v1h-1zM307 31h1v1h-1zM311 31h1v1h-1zM316 31h1v1h-1zM321 31h1v1h-1zM326 31h1v1h-1zM330 31h1v1h-1zM335 31h1v1h-1zM340 31h1v1h-1zM345 31h1v1h-1zM349 31h1v1h-1zM354 31h1v1h-1zM359 31h1v1h-1zM364 31h1v1h-1zM368 31h1v1h-1zM373 31h1v1h-1zM378 31h1v1h-1zM383 31h1v1h-1zM387 31h1v1h-1zM392 31h1v1h-1zM397 31h1v1h-1zM402 31h1v1h-1zM406 31h1v1h-1zM411 31h1v1h-1zM416 31h1v1h-1zM421 31h1v1h-1zM425 31h1v1h-1zM430 31h1v1h-1zM435 31h1v1h-1zM440 31h1v1h-1zM444 31h1v1h-1zM449 31h1v1h-1zM454 31h1v1h-1zM459 31h1v1h-1zM463 31h1v1h-1zM468 31h1v1h-1zM473 31h1v1h-1zM478 31h1v1h-1zM482 31h1v1h-1zM487 31h1v1h-1zM492 31h1v1h-1zM497 31h1v1h-1zM501 31h1v1h-1zM506 31h1v1h-1zM511 31h1v1h-1zM516 31h1v1h-1zM520 31h1v1h-1zM525 31h1v1h-1zM530 31h1v1h-1zM535 31h1v1h-1zM307 44h1v1h-1zM311 44h1v1h-1zM316 44h1v1h-1zM321 44h1v1h-1zM326 44h1v1h-1zM330 44h1v1h-1zM335 44h1v1h-1zM340 44h1v1h-1zM345 44h1v1h-1zM349 44h1v1h-1zM354 44h1v1h-1zM359 44h1v1h-1zM364 44h1v1h-1zM368 44h1v1h-1zM373 44h1v1h-1zM378 44h1v1h-1zM383 44h1v1h-1zM387 44h1v1h-1zM392 44h1v1h-1zM397 44h1v1h-1zM402 44h1v1h-1zM406 44h1v1h-1zM411 44h1v1h-1zM416 44h1v1h-1zM421 44h1v1h-1zM425 44h1v1h-1zM430 44h1v1h-1zM435 44h1v1h-1zM440 44h1v1h-1zM444 44h1v1h-1zM449 44h1v1h-1zM454 44h1v1h-1zM459 44h1v1h-1zM463 44h1v1h-1zM468 44h1v1h-1zM473 44h1v1h-1zM478 44h1v1h-1zM482 44h1v1h-1zM487 44h1v1h-1zM492 44h1v1h-1zM497 44h1v1h-1zM501 44h1v1h-1zM506 44h1v1h-1zM511 44h1v1h-1zM516 44h1v1h-1zM520 44h1v1h-1zM525 44h1v1h-1zM530 44h1v1h-1zM535 44h1v1h-1zM307 58h1v1h-1zM311 58h1v1h-1zM316 58h1v1h-1zM321 58h1v1h-1zM326 58h1v1h-1zM330 58h1v1h-1zM335 58h1v1h-1zM340 58h1v1h-1zM345 58h1v1h-1zM349 58h1v1h-1zM354 58h1v1h-1zM359 58h1v1h-1zM364 58h1v1h-1zM368 58h1v1h-1zM373 58h1v1h-1zM378 58h1v1h-1zM383 58h1v1h-1zM387 58h1v1h-1zM392 58h1v1h-1zM397 58h1v1h-1zM402 58h1v1h-1zM406 58h1v1h-1zM411 58h1v1h-1zM416 58h1v1h-1zM421 58h1v1h-1zM425 58h1v1h-1zM430 58h1v1h-1zM435 58h1v1h-1zM440 58h1v1h-1zM444 58h1v1h-1zM449 58h1v1h-1zM454 58h1v1h-1zM459 58h1v1h-1zM463 58h1v1h-1zM468 58h1v1h-1zM473 58h1v1h-1zM478 58h1v1h-1zM482 58h1v1h-1zM487 58h1v1h-1zM492 58h1v1h-1zM497 58h1v1h-1zM501 58h1v1h-1zM506 58h1v1h-1zM511 58h1v1h-1zM516 58h1v1h-1zM520 58h1v1h-1zM525 58h1v1h-1zM530 58h1v1h-1zM535 58h1v1h-1zM307 71h1v1h-1zM311 71h1v1h-1zM316 71h1v1h-1zM321 71h1v1h-1zM326 71h1v1h-1zM330 71h1v1h-1zM335 71h1v1h-1zM340 71h1v1h-1zM345 71h1v1h-1zM349 71h1v1h-1zM354 71h1v1h-1zM359 71h1v1h-1zM364 71h1v1h-1zM368 71h1v1h-1zM373 71h1v1h-1zM378 71h1v1h-1zM383 71h1v1h-1zM387 71h1v1h-1zM392 71h1v1h-1zM397 71h1v1h-1zM402 71h1v1h-1zM406 71h1v1h-1zM411 71h1v1h-1zM416 71h1v1h-1zM421 71h1v1h-1zM425 71h1v1h-1zM430 71h1v1h-1zM435 71h1v1h-1zM440 71h1v1h-1zM444 71h1v1h-1zM449 71h1v1h-1zM454 71h1v1h-1zM459 71h1v1h-1zM463 71h1v1h-1zM468 71h1v1h-1zM473 71h1v1h-1zM478 71h1v1h-1zM482 71h1v1h-1zM487 71h1v1h-1zM492 71h1v1h-1zM497 71h1v1h-1zM501 71h1v1h-1zM506 71h1v1h-1zM511 71h1v1h-1zM516 71h1v1h-1zM520 71h1v1h-1zM525 71h1v1h-1zM530 71h1v1h-1zM535 71h1v1h-1zM307 84h1v1h-1zM311 84h1v1h-1zM316 84h1v1h-1zM321 84h1v1h-1zM326 84h1v1h-1zM330 84h1v1h-1zM335 84h1v1h-1zM340 84h1v1h-1zM345 84h1v1h-1zM349 84h1v1h-1zM354 84h1v1h-1zM359 84h1v1h-1zM364 84h1v1h-1zM368 84h1v1h-1zM373 84h1v1h-1zM378 84h1v1h-1zM383 84h1v1h-1zM387 84h1v1h-1zM392 84h1v1h-1zM397 84h1v1h-1zM402 84h1v1h-1zM406 84h1v1h-1zM411 84h1v1h-1zM416 84h1v1h-1zM421 84h1v1h-1zM425 84h1v1h-1zM430 84h1v1h-1zM435 84h1v1h-1zM440 84h1v1h-1zM444 84h1v1h-1zM449 84h1v1h-1zM454 84h1v1h-1zM459 84h1v1h-1zM463 84h1v1h-1zM468 84h1v1h-1zM473 84h1v1h-1zM478 84h1v1h-1zM482 84h1v1h-1zM487 84h1v1h-1zM492 84h1v1h-1zM497 84h1v1h-1zM501 84h1v1h-1zM506 84h1v1h-1zM511 84h1v1h-1zM516 84h1v1h-1zM520 84h1v1h-1zM525 84h1v1h-1zM530 84h1v1h-1zM535 84h1v1h-1zM307 98h1v1h-1zM311 98h1v1h-1zM316 98h1v1h-1zM321 98h1v1h-1zM326 98h1v1h-1zM330 98h1v1h-1zM335 98h1v1h-1zM340 98h1v1h-1zM345 98h1v1h-1zM349 98h1v1h-1zM354 98h1v1h-1zM359 98h1v1h-1zM364 98h1v1h-1zM368 98h1v1h-1zM373 98h1v1h-1zM378 98h1v1h-1zM383 98h1v1h-1zM387 98h1v1h-1zM392 98h1v1h-1zM397 98h1v1h-1zM402 98h1v1h-1zM406 98h1v1h-1zM411 98h1v1h-1zM416 98h1v1h-1zM421 98h1v1h-1zM425 98h1v1h-1zM430 98h1v1h-1zM435 98h1v1h-1zM440 98h1v1h-1zM444 98h1v1h-1zM449 98h1v1h-1zM454 98h1v1h-1zM459 98h1v1h-1zM463 98h1v1h-1zM468 98h1v1h-1zM473 98h1v1h-1zM478 98h1v1h-1zM482 98h1v1h-1zM487 98h1v1h-1zM492 98h1v1h-1zM497 98h1v1h-1zM501 98h1v1h-1zM506 98h1v1h-1zM511 98h1v1h-1zM516 98h1v1h-1zM520 98h1v1h-1zM525 98h1v1h-1zM530 98h1v1h-1zM535 98h1v1h-1z" fill="#ababab"/>
<path d="M307.25 56.85v2.4M311.99 56.85v2.4M316.74 56.85v2.4M321.48 56.85v2.4M326.23 56.85v2.4M330.98 56.85v2.4M335.72 56.85v2.4M340.47 56.85v2.4M345.21 56.85v2.4M349.96 56.85v2.4M354.71 56.85v2.4M359.45 56.85v2.4M364.2 56.85v2.4M368.94 56.85v2.4M373.69 56.85v2.4M378.44 56.85v2.4M383.18 56.85v2.4M387.93 56.85v2.4M392.67 56.85v2.4M397.42 56.85v2.4M402.17 56.85v2.4M406.91 56.85v2.4M411.66 56.85v2.4M416.4 56.85v2.4M421.15 56.85v2.4M425.9 56.85v2.4M430.64 56.85v2.4M435.39 56.85v2.4M440.13 56.85v2.4M444.88 56.85v2.4M449.63 56.85v2.4M454.37 56.85v2.4M459.12 56.85v2.4M463.86 56.85v2.4M468.61 56.85v2.4M473.36 56.85v2.4M478.1 56.85v2.4M482.85 56.85v2.4M487.59 56.85v2.4M492.34 56.85v2.4M497.09 56.85v2.4M501.83 56.85v2.4M506.58 56.85v2.4M511.32 56.85v2.4M516.07 56.85v2.4M520.82 56.85v2.4M525.56 56.85v2.4M530.31 56.85v2.4M535.05 56.85v2.4M419.95 7.27h2.4M419.95 9.95h2.4M419.95 12.62h2.4M419.95 15.29h2.4M419.95 17.96h2.4M419.95 20.64h2.4M419.95 23.31h2.4M419.95 25.98h2.4M419.95 28.65h2.4M419.95 31.33h2.4M419.95 34h2.4M419.95 36.67h2.4M419.95 39.34h2.4M419.95 42.02h2.4M419.95 44.69h2.4M419.95 47.36h2.4M419.95 50.03h2.4M419.95 52.71h2.4M419.95 55.38h2.4M419.95 58.05h2.4M419.95 60.72h2.4M419.95 63.4h2.4M419.95 66.07h2.4M419.95 68.74h2.4M419.95 71.41h2.4M419.95 74.08h2.4M419.95 76.76h2.4M419.95 79.43h2.4M419.95 82.1h2.4M419.95 84.77h2.4M419.95 87.45h2.4M419.95 90.12h2.4M419.95 92.79h2.4M419.95 95.47h2.4M419.95 98.14h2.4M419.95 100.81h2.4M419.95 103.48h2.4M419.95 106.16h2.4M419.95 108.83h2.4" stroke="#666" stroke-width="0.9" fill="none"/>
<rect x="302.5" y="32.6" width="237.2" height="49.6" fill="#1818c4" />
<line x1="302.5" y1="32.7" x2="539.7" y2="32.7" stroke="#b04090" stroke-width="0.6" />
<path d="M302.5 57.3 L303.5 56.94 L304.5 57.34 L305.5 57.05 L306.5 56.94 L307.5 57.06 L308.5 57.34 L309.5 57.02 L310.5 57.34 L311.5 57.49 L312.5 57.2 L313.5 57.13 L314.5 57.19 L315.5 57.31 L316.5 57.36 L317.5 57.27 L318.5 57.29 L319.5 56.95 L320.5 56.99 L321.5 57.05 L322.5 57.35 L323.5 57.08 L324.5 57.24 L325.5 56.91 L326.2 57.2 L326.2 58.74 L325.2 58.86 L324.2 59.1 L323.2 59.12 L322.2 59.11 L321.2 58.87 L320.2 59.01 L319.2 58.98 L318.2 58.98 L317.2 58.77 L316.2 59.24 L315.2 58.82 L314.2 59.29 L313.2 59.26 L312.2 58.71 L311.2 58.98 L310.2 59.19 L309.2 59.28 L308.2 58.97 L307.2 58.86 L306.2 58.83 L305.2 59.27 L304.2 58.83 L303.2 59.05 L302.5 59Z" fill="#0cae0c"/>
<path d="M326.2 45.49 L327.2 45.71 L328.2 45.97 L329.2 45.48 L330.2 45.89 L331.2 45.71 L332.2 45.93 L333.2 45.82 L334.2 45.54 L335.2 45.94 L336.2 45.69 L337.2 45.41 L338.2 45.4 L339.2 45.7 L340.2 45.67 L341.2 45.58 L342.2 45.48 L343.2 45.61 L344.2 45.59 L345.2 45.9 L346.2 45.4 L347.2 45.85 L348.2 45.9 L349.2 45.47 L350 45.7 L350 70.06 L349 69.93 L348 70.04 L347 69.67 L346 69.72 L345 69.74 L344 70.1 L343 69.85 L342 69.72 L341 69.76 L340 69.67 L339 69.53 L338 69.56 L337 70 L336 69.67 L335 70.06 L334 69.65 L333 69.66 L332 69.81 L331 69.61 L330 69.72 L329 70.07 L328 70.03 L327 69.99 L326.2 69.8Z" fill="#0cae0c"/>
<path d="M350 50.58 L351 50.75 L352 50.76 L353 50.53 L354 50.63 L355 50.23 L356 50.64 L357 50.47 L358 50.65 L359 50.59 L360 50.37 L361 50.23 L362 50.76 L363 50.28 L364 50.48 L365 50.41 L366 50.38 L367 50.64 L368 50.79 L369 50.36 L370 50.59 L371 50.38 L372 50.53 L373 50.44 L374 50.3 L375 50.3 L376 50.32 L377 50.74 L378 50.5 L379 50.33 L380 50.74 L381 50.8 L382 50.47 L383 50.28 L384 50.32 L385 50.25 L386 50.41 L387 50.25 L388 50.34 L389 50.36 L390 50.54 L391 50.73 L392 50.65 L393 50.45 L394 50.45 L395 50.51 L396 50.43 L397 50.5 L397 65.7 L396 65.54 L395 65.67 L394 66.08 L393 65.58 L392 65.8 L391 65.88 L390 66.02 L389 65.63 L388 65.66 L387 65.65 L386 65.74 L385 65.77 L384 66.07 L383 66.01 L382 66.02 L381 65.51 L380 65.52 L379 65.93 L378 66.04 L377 65.78 L376 65.85 L375 65.5 L374 65.73 L373 66.06 L372 66 L371 66.01 L370 66.08 L369 65.65 L368 65.57 L367 65.59 L366 65.81 L365 65.91 L364 66.06 L363 65.93 L362 65.89 L361 65.96 L360 65.77 L359 65.83 L358 65.52 L357 65.97 L356 65.64 L355 66.05 L354 65.89 L353 65.68 L352 65.58 L351 65.65 L350 65.8Z" fill="#0cae0c"/>
<path d="M397 53.48 L398 53.52 L399 53.17 L400 53.14 L401 53.41 L402 53.45 L403 53.33 L404 53.23 L405 53.46 L406 53.11 L407 53.28 L408 53.38 L409 53.68 L410 53.49 L411 53.63 L412 53.39 L413 53.24 L414 53.25 L415 53.68 L416 53.52 L417 53.28 L418 53.11 L419 53.4 L420 53.5 L421 53.35 L422 53.25 L423 53.5 L424 53.66 L425 53.24 L426 53.12 L427 53.3 L428 53.35 L429 53.51 L430 53.22 L431 53.58 L432 53.54 L433 53.4 L434 53.22 L435 53.68 L436 53.29 L437 53.59 L438 53.24 L439 53.23 L440 53.56 L441 53.28 L442 53.67 L443 53.4 L444 53.21 L444.6 53.4 L444.6 62.43 L443.6 62.55 L442.6 62.7 L441.6 62.87 L440.6 62.39 L439.6 62.54 L438.6 62.43 L437.6 62.88 L436.6 62.39 L435.6 62.33 L434.6 62.34 L433.6 62.54 L432.6 62.84 L431.6 62.83 L430.6 62.74 L429.6 62.9 L428.6 62.86 L427.6 62.5 L426.6 62.41 L425.6 62.86 L424.6 62.75 L423.6 62.32 L422.6 62.7 L421.6 62.53 L420.6 62.52 L419.6 62.5 L418.6 62.4 L417.6 62.3 L416.6 62.47 L415.6 62.51 L414.6 62.87 L413.6 62.37 L412.6 62.88 L411.6 62.42 L410.6 62.51 L409.6 62.79 L408.6 62.79 L407.6 62.56 L406.6 62.33 L405.6 62.58 L404.6 62.52 L403.6 62.85 L402.6 62.42 L401.6 62.52 L400.6 62.84 L399.6 62.32 L398.6 62.55 L397.6 62.79 L397 62.6Z" fill="#0cae0c"/>
<path d="M444.6 46.96 L445.6 46.52 L446.6 46.52 L447.6 46.54 L448.6 47.05 L449.6 46.65 L450.6 46.95 L451.6 47.04 L452.6 46.7 L453.6 46.66 L454.6 47.07 L455.6 46.87 L456.6 46.66 L457.6 46.93 L458.6 46.69 L459.6 46.67 L460.6 46.5 L461.6 46.95 L462.6 47.05 L463.6 46.88 L464.6 47.07 L465.6 46.51 L466.6 46.64 L467.6 46.79 L468.6 47.07 L469.6 47.07 L470.6 46.73 L471.6 46.65 L472.6 46.76 L473.6 46.8 L474.6 47.06 L475.6 46.61 L476.6 46.98 L477.6 46.94 L478.6 46.99 L479.6 46.96 L480.6 46.86 L481.6 46.7 L482.6 46.69 L483.6 46.72 L484.6 46.97 L485.6 46.55 L486.6 46.62 L487.6 46.95 L488.6 46.65 L489.6 46.54 L490.6 46.52 L491.6 46.83 L492.2 46.8 L492.2 68.6 L491.2 68.99 L490.2 68.93 L489.2 68.99 L488.2 68.56 L487.2 68.45 L486.2 68.46 L485.2 68.7 L484.2 68.83 L483.2 68.67 L482.2 68.54 L481.2 68.65 L480.2 68.77 L479.2 68.8 L478.2 68.85 L477.2 68.91 L476.2 68.8 L475.2 68.47 L474.2 68.9 L473.2 68.58 L472.2 68.74 L471.2 68.62 L470.2 68.84 L469.2 68.52 L468.2 68.55 L467.2 68.55 L466.2 68.49 L465.2 68.93 L464.2 68.75 L463.2 68.6 L462.2 68.64 L461.2 69 L460.2 68.7 L459.2 68.54 L458.2 68.89 L457.2 68.79 L456.2 68.99 L455.2 68.46 L454.2 68.68 L453.2 68.89 L452.2 68.9 L451.2 68.95 L450.2 68.42 L449.2 68.58 L448.2 68.47 L447.2 68.51 L446.2 68.98 L445.2 68.75 L444.6 68.7Z" fill="#0cae0c"/>
<path d="M492.2 53.66 L493.2 53.32 L494.2 53.62 L495.2 53.37 L496.2 53.26 L497.2 53.57 L498.2 53.67 L499.2 53.16 L500.2 53.46 L501.2 53.47 L502.2 53.23 L503.2 53.32 L504.2 53.18 L505.2 53.22 L506.2 53.25 L507.2 53.46 L508.2 53.49 L509.2 53.22 L510.2 53.11 L511.2 53.3 L512.2 53.51 L513.2 53.21 L514.2 53.29 L515.2 53.22 L515.8 53.4 L515.8 62.78 L514.8 62.63 L513.8 62.34 L512.8 62.36 L511.8 62.54 L510.8 62.63 L509.8 62.68 L508.8 62.35 L507.8 62.4 L506.8 62.72 L505.8 62.55 L504.8 62.47 L503.8 62.48 L502.8 62.87 L501.8 62.49 L500.8 62.64 L499.8 62.51 L498.8 62.55 L497.8 62.82 L496.8 62.9 L495.8 62.52 L494.8 62.42 L493.8 62.74 L492.8 62.42 L492.2 62.6Z" fill="#0cae0c"/>
<path d="M515.8 56.9 L516.8 57.44 L517.8 57.15 L518.8 57.39 L519.8 57.14 L520.8 57.43 L521.8 57.18 L522.8 57 L523.8 56.91 L524.8 57.23 L525.8 57.28 L526.8 57.45 L527.8 56.95 L528.8 57.27 L529.8 57.12 L530.8 57.2 L531.8 56.99 L532.8 57.07 L533.8 57.21 L534.8 57.46 L535.8 56.97 L536.8 57.19 L537.8 57.38 L538.8 57.48 L539.5 57.2 L539.5 58.82 L538.5 58.78 L537.5 59.27 L536.5 59.29 L535.5 58.99 L534.5 58.73 L533.5 59.26 L532.5 58.93 L531.5 59.24 L530.5 59.07 L529.5 59.19 L528.5 58.8 L527.5 59.17 L526.5 58.83 L525.5 58.94 L524.5 59.21 L523.5 59.2 L522.5 58.81 L521.5 58.83 L520.5 58.94 L519.5 59.01 L518.5 58.93 L517.5 58.77 L516.5 58.85 L515.8 59Z" fill="#0cae0c"/>
<path d="M291.8 55.3h8l2 2.5-2 2.5h-8z" fill="#1d8a2a"/>
<text x="296" y="59.3" font-family="'Liberation Sans', sans-serif" font-size="4.5" fill="#fff" text-anchor="middle" >4</text>
<rect x="302.5" y="4.6" width="237.3" height="106.9" fill="none" stroke="#3a3a3a" stroke-width="1"/>
<path d="M307.25 4.6v1.6M307.25 111.5v-1.6M311.99 4.6v1.6M311.99 111.5v-1.6M316.74 4.6v1.6M316.74 111.5v-1.6M321.48 4.6v1.6M321.48 111.5v-1.6M326.23 4.6v1.6M326.23 111.5v-1.6M330.98 4.6v1.6M330.98 111.5v-1.6M335.72 4.6v1.6M335.72 111.5v-1.6M340.47 4.6v1.6M340.47 111.5v-1.6M345.21 4.6v1.6M345.21 111.5v-1.6M349.96 4.6v1.6M349.96 111.5v-1.6M354.71 4.6v1.6M354.71 111.5v-1.6M359.45 4.6v1.6M359.45 111.5v-1.6M364.2 4.6v1.6M364.2 111.5v-1.6M368.94 4.6v1.6M368.94 111.5v-1.6M373.69 4.6v1.6M373.69 111.5v-1.6M378.44 4.6v1.6M378.44 111.5v-1.6M383.18 4.6v1.6M383.18 111.5v-1.6M387.93 4.6v1.6M387.93 111.5v-1.6M392.67 4.6v1.6M392.67 111.5v-1.6M397.42 4.6v1.6M397.42 111.5v-1.6M402.17 4.6v1.6M402.17 111.5v-1.6M406.91 4.6v1.6M406.91 111.5v-1.6M411.66 4.6v1.6M411.66 111.5v-1.6M416.4 4.6v1.6M416.4 111.5v-1.6M421.15 4.6v1.6M421.15 111.5v-1.6M425.9 4.6v1.6M425.9 111.5v-1.6M430.64 4.6v1.6M430.64 111.5v-1.6M435.39 4.6v1.6M435.39 111.5v-1.6M440.13 4.6v1.6M440.13 111.5v-1.6M444.88 4.6v1.6M444.88 111.5v-1.6M449.63 4.6v1.6M449.63 111.5v-1.6M454.37 4.6v1.6M454.37 111.5v-1.6M459.12 4.6v1.6M459.12 111.5v-1.6M463.86 4.6v1.6M463.86 111.5v-1.6M468.61 4.6v1.6M468.61 111.5v-1.6M473.36 4.6v1.6M473.36 111.5v-1.6M478.1 4.6v1.6M478.1 111.5v-1.6M482.85 4.6v1.6M482.85 111.5v-1.6M487.59 4.6v1.6M487.59 111.5v-1.6M492.34 4.6v1.6M492.34 111.5v-1.6M497.09 4.6v1.6M497.09 111.5v-1.6M501.83 4.6v1.6M501.83 111.5v-1.6M506.58 4.6v1.6M506.58 111.5v-1.6M511.32 4.6v1.6M511.32 111.5v-1.6M516.07 4.6v1.6M516.07 111.5v-1.6M520.82 4.6v1.6M520.82 111.5v-1.6M525.56 4.6v1.6M525.56 111.5v-1.6M530.31 4.6v1.6M530.31 111.5v-1.6M535.05 4.6v1.6M535.05 111.5v-1.6M302.5 7.27h1.6M539.8 7.27h-1.6M302.5 9.95h1.6M539.8 9.95h-1.6M302.5 12.62h1.6M539.8 12.62h-1.6M302.5 15.29h1.6M539.8 15.29h-1.6M302.5 17.96h1.6M539.8 17.96h-1.6M302.5 20.64h1.6M539.8 20.64h-1.6M302.5 23.31h1.6M539.8 23.31h-1.6M302.5 25.98h1.6M539.8 25.98h-1.6M302.5 28.65h1.6M539.8 28.65h-1.6M302.5 31.33h1.6M539.8 31.33h-1.6M302.5 34h1.6M539.8 34h-1.6M302.5 36.67h1.6M539.8 36.67h-1.6M302.5 39.34h1.6M539.8 39.34h-1.6M302.5 42.02h1.6M539.8 42.02h-1.6M302.5 44.69h1.6M539.8 44.69h-1.6M302.5 47.36h1.6M539.8 47.36h-1.6M302.5 50.03h1.6M539.8 50.03h-1.6M302.5 52.71h1.6M539.8 52.71h-1.6M302.5 55.38h1.6M539.8 55.38h-1.6M302.5 58.05h1.6M539.8 58.05h-1.6M302.5 60.72h1.6M539.8 60.72h-1.6M302.5 63.4h1.6M539.8 63.4h-1.6M302.5 66.07h1.6M539.8 66.07h-1.6M302.5 68.74h1.6M539.8 68.74h-1.6M302.5 71.41h1.6M539.8 71.41h-1.6M302.5 74.08h1.6M539.8 74.08h-1.6M302.5 76.76h1.6M539.8 76.76h-1.6M302.5 79.43h1.6M539.8 79.43h-1.6M302.5 82.1h1.6M539.8 82.1h-1.6M302.5 84.77h1.6M539.8 84.77h-1.6M302.5 87.45h1.6M539.8 87.45h-1.6M302.5 90.12h1.6M539.8 90.12h-1.6M302.5 92.79h1.6M539.8 92.79h-1.6M302.5 95.47h1.6M539.8 95.47h-1.6M302.5 98.14h1.6M539.8 98.14h-1.6M302.5 100.81h1.6M539.8 100.81h-1.6M302.5 103.48h1.6M539.8 103.48h-1.6M302.5 106.16h1.6M539.8 106.16h-1.6M302.5 108.83h1.6M539.8 108.83h-1.6" stroke="#333" stroke-width="0.75" fill="none"/>
<path d="M419.15 3.4h4l-2 2.4z" fill="#f39a1e"/>
<ellipse cx="421.15" cy="8.8" rx="1.3" ry="1.6" fill="none" stroke="#f5a040" stroke-width="0.8"/>
<rect x="315.9" y="93.7" width="20" height="13" fill="#fff" />
<rect x="339.2" y="93.7" width="20" height="13" fill="#fff" />
<rect x="386.5" y="93.7" width="20" height="13" fill="#fff" />
<rect x="433.8" y="93.7" width="20" height="13" fill="#fff" />
<rect x="482.4" y="93.7" width="20" height="13" fill="#fff" />
<rect x="506.5" y="93.7" width="20" height="13" fill="#fff" />
<text x="325.9" y="103.2" font-family="'Liberation Serif', serif" font-size="8.2" fill="#262626" font-weight="bold" text-anchor="middle" textLength="12.3" lengthAdjust="spacingAndGlyphs" >(t1)</text>
<text x="349.2" y="103.2" font-family="'Liberation Serif', serif" font-size="8.2" fill="#262626" font-weight="bold" text-anchor="middle" textLength="12.3" lengthAdjust="spacingAndGlyphs" >(t2)</text>
<text x="396.5" y="103.2" font-family="'Liberation Serif', serif" font-size="8.2" fill="#262626" font-weight="bold" text-anchor="middle" textLength="12.3" lengthAdjust="spacingAndGlyphs" >(t3)</text>
<text x="443.8" y="103.2" font-family="'Liberation Serif', serif" font-size="8.2" fill="#262626" font-weight="bold" text-anchor="middle" textLength="12.3" lengthAdjust="spacingAndGlyphs" >(t4)</text>
<text x="492.4" y="103.2" font-family="'Liberation Serif', serif" font-size="8.2" fill="#262626" font-weight="bold" text-anchor="middle" textLength="12.3" lengthAdjust="spacingAndGlyphs" >(t5)</text>
<text x="516.5" y="103.2" font-family="'Liberation Serif', serif" font-size="8.2" fill="#262626" font-weight="bold" text-anchor="middle" textLength="12.3" lengthAdjust="spacingAndGlyphs" >(t6)</text>
<rect x="319.8" y="10.5" width="102" height="12" fill="#fff" />
<rect x="357.2" y="82.6" width="35.3" height="12" fill="#fff" />
<text x="322.8" y="19.5" font-family="'Liberation Serif', serif" font-size="8.5" fill="#262626" font-weight="bold" textLength="96" lengthAdjust="spacingAndGlyphs" >Ch1/Ch2/Ch3(Vsa/Vsb/Vsc)</text>
<text x="360.2" y="91.6" font-family="'Liberation Serif', serif" font-size="8.5" fill="#262626" font-weight="bold" textLength="29.3" lengthAdjust="spacingAndGlyphs" >Ch4(Isa)</text>
<line x1="370.4" y1="24.2" x2="376.87" y2="29.72" stroke="#111" stroke-width="0.8" />
<polygon points="379.3,31.8 375.89,30.86 377.84,28.58" fill="#111"/>
<line x1="361.5" y1="87.8" x2="354.04" y2="73.06" stroke="#111" stroke-width="0.8" />
<polygon points="352.6,70.2 355.38,72.38 352.71,73.73" fill="#111"/>
<rect x="291.8" y="105.4" width="93.2" height="14.7" rx="1.5" fill="#ebebeb" stroke="#666" stroke-width="0.9"/>
<rect x="293.2" y="108" width="8.7" height="4.4" rx="2.2" fill="#1a1aff"/>
<text x="297.55" y="111.5" font-family="'Liberation Sans', sans-serif" font-size="3.74" fill="#fff" text-anchor="middle" >1</text>
<text x="306.5" y="112" font-family="'Liberation Sans', sans-serif" font-size="5.9" fill="#3434ff" stroke="#3434ff" stroke-width="0.15" textLength="13.2" lengthAdjust="spacingAndGlyphs" >50.0 V</text>
<rect x="293.2" y="114.6" width="8.7" height="4.9" rx="2.45" fill="#a010a8"/>
<text x="297.55" y="118.6" font-family="'Liberation Sans', sans-serif" font-size="4.17" fill="#fff" text-anchor="middle" >3</text>
<text x="306.5" y="119.1" font-family="'Liberation Sans', sans-serif" font-size="5.9" fill="#c020c0" stroke="#c020c0" stroke-width="0.15" textLength="13.2" lengthAdjust="spacingAndGlyphs" >50.0 V</text>
<rect x="344" y="108" width="8.5" height="4.4" rx="2.2" fill="#7ae6ec"/>
<text x="348.25" y="111.5" font-family="'Liberation Sans', sans-serif" font-size="3.74" fill="#fff" text-anchor="middle" >2</text>
<text x="357" y="112" font-family="'Liberation Sans', sans-serif" font-size="5.9" fill="#30d0e0" stroke="#30d0e0" stroke-width="0.15" textLength="13.2" lengthAdjust="spacingAndGlyphs" >50.0 V</text>
<rect x="344" y="114.6" width="8.5" height="4.9" rx="2.45" fill="#1d9a2a"/>
<text x="348.25" y="118.6" font-family="'Liberation Sans', sans-serif" font-size="4.17" fill="#fff" text-anchor="middle" >4</text>
<text x="357" y="119.1" font-family="'Liberation Sans', sans-serif" font-size="5.9" fill="#20b020" stroke="#20b020" stroke-width="0.15" textLength="13.2" lengthAdjust="spacingAndGlyphs" >20.0 A</text>
<rect x="386.1" y="113.3" width="51.3" height="6.8" rx="1" fill="#ebebeb" stroke="#666" stroke-width="0.9"/>
<rect x="437.4" y="113.3" width="74.3" height="6.8" rx="1" fill="#ebebeb" stroke="#666" stroke-width="0.9"/>
<rect x="511.7" y="113.3" width="31.9" height="6.8" rx="1" fill="#ebebeb" stroke="#666" stroke-width="0.9"/>
<text x="387.5" y="118.8" font-family="'Liberation Sans', sans-serif" font-size="6" fill="#1a1a1a" stroke="#1a1a1a" stroke-width="0.15" textLength="11.7" lengthAdjust="spacingAndGlyphs" >1.00 s</text>
<text x="436.6" y="118.8" font-family="'Liberation Sans', sans-serif" font-size="6" fill="#f5a623" stroke="#f5a623" stroke-width="0.15" text-anchor="end" textLength="20" lengthAdjust="spacingAndGlyphs" >0.00000 s</text>
<text x="451.8" y="118.8" font-family="'Liberation Sans', sans-serif" font-size="6" fill="#1a1a1a" stroke="#1a1a1a" stroke-width="0.15" textLength="18" lengthAdjust="spacingAndGlyphs" >/ 0.00 V</text>
<text x="511.3" y="118.8" font-family="'Liberation Sans', sans-serif" font-size="6" fill="#1a1a1a" stroke="#1a1a1a" stroke-width="0.15" text-anchor="end" textLength="23.5" lengthAdjust="spacingAndGlyphs" >53.9631 Hz</text>
<text x="513.5" y="118.8" font-family="'Liberation Sans', sans-serif" font-size="6" fill="#1a1a1a" stroke="#1a1a1a" stroke-width="0.15" textLength="17.6" lengthAdjust="spacingAndGlyphs" >17:44:54</text>
<rect x="439.3" y="115.2" width="9" height="3.8" rx="1.9" fill="#1a1aff"/>
<text x="443.8" y="118.1" font-family="'Liberation Sans', sans-serif" font-size="3.23" fill="#fff" text-anchor="middle" >1</text>
<text x="303.7" y="133.8" font-family="'Liberation Serif', serif" font-size="8.4" fill="#333" stroke="#333" stroke-width="0.12" textLength="44.2" lengthAdjust="spacingAndGlyphs" >Ch1:50V/div</text>
<text x="352" y="133.8" font-family="'Liberation Serif', serif" font-size="8.4" fill="#333" stroke="#333" stroke-width="0.12" textLength="44.9" lengthAdjust="spacingAndGlyphs" >Ch2:50V/div</text>
<text x="398" y="133.8" font-family="'Liberation Serif', serif" font-size="8.4" fill="#333" stroke="#333" stroke-width="0.12" textLength="44.5" lengthAdjust="spacingAndGlyphs" >Ch3:50V/div</text>
<text x="446.4" y="133.8" font-family="'Liberation Serif', serif" font-size="8.4" fill="#333" stroke="#333" stroke-width="0.12" textLength="43.8" lengthAdjust="spacingAndGlyphs" >Ch4:20A/div</text>
<text x="497.3" y="133.8" font-family="'Liberation Serif', serif" font-size="8.4" fill="#333" stroke="#333" stroke-width="0.12" textLength="39.2" lengthAdjust="spacingAndGlyphs" >Time:1s/div</text>
<text x="411.5" y="149" font-family="'Liberation Serif', serif" font-size="11.5" fill="#111" text-anchor="middle">(<tspan font-weight="bold">b</tspan>)</text>
<rect x="4.7" y="152.3" width="10.8" height="109.5" fill="#f2f2f2" />
<rect x="7.2" y="152.3" width="7.8" height="109.5" fill="#ebebeb" />
<rect x="15.5" y="153.7" width="238.5" height="106.5" fill="#ffffff" />
<path d="M39 156h1v1h-1zM39 159h1v1h-1zM39 161h1v1h-1zM39 164h1v1h-1zM39 167h1v1h-1zM39 169h1v1h-1zM39 172h1v1h-1zM39 175h1v1h-1zM39 177h1v1h-1zM39 180h1v1h-1zM39 182h1v1h-1zM39 185h1v1h-1zM39 188h1v1h-1zM39 190h1v1h-1zM39 193h1v1h-1zM39 196h1v1h-1zM39 198h1v1h-1zM39 201h1v1h-1zM39 204h1v1h-1zM39 206h1v1h-1zM39 209h1v1h-1zM39 212h1v1h-1zM39 214h1v1h-1zM39 217h1v1h-1zM39 220h1v1h-1zM39 222h1v1h-1zM39 225h1v1h-1zM39 228h1v1h-1zM39 230h1v1h-1zM39 233h1v1h-1zM39 236h1v1h-1zM39 238h1v1h-1zM39 241h1v1h-1zM39 244h1v1h-1zM39 246h1v1h-1zM39 249h1v1h-1zM39 252h1v1h-1zM39 254h1v1h-1zM39 257h1v1h-1zM63 156h1v1h-1zM63 159h1v1h-1zM63 161h1v1h-1zM63 164h1v1h-1zM63 167h1v1h-1zM63 169h1v1h-1zM63 172h1v1h-1zM63 175h1v1h-1zM63 177h1v1h-1zM63 180h1v1h-1zM63 182h1v1h-1zM63 185h1v1h-1zM63 188h1v1h-1zM63 190h1v1h-1zM63 193h1v1h-1zM63 196h1v1h-1zM63 198h1v1h-1zM63 201h1v1h-1zM63 204h1v1h-1zM63 206h1v1h-1zM63 209h1v1h-1zM63 212h1v1h-1zM63 214h1v1h-1zM63 217h1v1h-1zM63 220h1v1h-1zM63 222h1v1h-1zM63 225h1v1h-1zM63 228h1v1h-1zM63 230h1v1h-1zM63 233h1v1h-1zM63 236h1v1h-1zM63 238h1v1h-1zM63 241h1v1h-1zM63 244h1v1h-1zM63 246h1v1h-1zM63 249h1v1h-1zM63 252h1v1h-1zM63 254h1v1h-1zM63 257h1v1h-1zM87 156h1v1h-1zM87 159h1v1h-1zM87 161h1v1h-1zM87 164h1v1h-1zM87 167h1v1h-1zM87 169h1v1h-1zM87 172h1v1h-1zM87 175h1v1h-1zM87 177h1v1h-1zM87 180h1v1h-1zM87 182h1v1h-1zM87 185h1v1h-1zM87 188h1v1h-1zM87 190h1v1h-1zM87 193h1v1h-1zM87 196h1v1h-1zM87 198h1v1h-1zM87 201h1v1h-1zM87 204h1v1h-1zM87 206h1v1h-1zM87 209h1v1h-1zM87 212h1v1h-1zM87 214h1v1h-1zM87 217h1v1h-1zM87 220h1v1h-1zM87 222h1v1h-1zM87 225h1v1h-1zM87 228h1v1h-1zM87 230h1v1h-1zM87 233h1v1h-1zM87 236h1v1h-1zM87 238h1v1h-1zM87 241h1v1h-1zM87 244h1v1h-1zM87 246h1v1h-1zM87 249h1v1h-1zM87 252h1v1h-1zM87 254h1v1h-1zM87 257h1v1h-1zM110 156h1v1h-1zM110 159h1v1h-1zM110 161h1v1h-1zM110 164h1v1h-1zM110 167h1v1h-1zM110 169h1v1h-1zM110 172h1v1h-1zM110 175h1v1h-1zM110 177h1v1h-1zM110 180h1v1h-1zM110 182h1v1h-1zM110 185h1v1h-1zM110 188h1v1h-1zM110 190h1v1h-1zM110 193h1v1h-1zM110 196h1v1h-1zM110 198h1v1h-1zM110 201h1v1h-1zM110 204h1v1h-1zM110 206h1v1h-1zM110 209h1v1h-1zM110 212h1v1h-1zM110 214h1v1h-1zM110 217h1v1h-1zM110 220h1v1h-1zM110 222h1v1h-1zM110 225h1v1h-1zM110 228h1v1h-1zM110 230h1v1h-1zM110 233h1v1h-1zM110 236h1v1h-1zM110 238h1v1h-1zM110 241h1v1h-1zM110 244h1v1h-1zM110 246h1v1h-1zM110 249h1v1h-1zM110 252h1v1h-1zM110 254h1v1h-1zM110 257h1v1h-1zM134 156h1v1h-1zM134 159h1v1h-1zM134 161h1v1h-1zM134 164h1v1h-1zM134 167h1v1h-1zM134 169h1v1h-1zM134 172h1v1h-1zM134 175h1v1h-1zM134 177h1v1h-1zM134 180h1v1h-1zM134 182h1v1h-1zM134 185h1v1h-1zM134 188h1v1h-1zM134 190h1v1h-1zM134 193h1v1h-1zM134 196h1v1h-1zM134 198h1v1h-1zM134 201h1v1h-1zM134 204h1v1h-1zM134 206h1v1h-1zM134 209h1v1h-1zM134 212h1v1h-1zM134 214h1v1h-1zM134 217h1v1h-1zM134 220h1v1h-1zM134 222h1v1h-1zM134 225h1v1h-1zM134 228h1v1h-1zM134 230h1v1h-1zM134 233h1v1h-1zM134 236h1v1h-1zM134 238h1v1h-1zM134 241h1v1h-1zM134 244h1v1h-1zM134 246h1v1h-1zM134 249h1v1h-1zM134 252h1v1h-1zM134 254h1v1h-1zM134 257h1v1h-1zM158 156h1v1h-1zM158 159h1v1h-1zM158 161h1v1h-1zM158 164h1v1h-1zM158 167h1v1h-1zM158 169h1v1h-1zM158 172h1v1h-1zM158 175h1v1h-1zM158 177h1v1h-1zM158 180h1v1h-1zM158 182h1v1h-1zM158 185h1v1h-1zM158 188h1v1h-1zM158 190h1v1h-1zM158 193h1v1h-1zM158 196h1v1h-1zM158 198h1v1h-1zM158 201h1v1h-1zM158 204h1v1h-1zM158 206h1v1h-1zM158 209h1v1h-1zM158 212h1v1h-1zM158 214h1v1h-1zM158 217h1v1h-1zM158 220h1v1h-1zM158 222h1v1h-1zM158 225h1v1h-1zM158 228h1v1h-1zM158 230h1v1h-1zM158 233h1v1h-1zM158 236h1v1h-1zM158 238h1v1h-1zM158 241h1v1h-1zM158 244h1v1h-1zM158 246h1v1h-1zM158 249h1v1h-1zM158 252h1v1h-1zM158 254h1v1h-1zM158 257h1v1h-1zM182 156h1v1h-1zM182 159h1v1h-1zM182 161h1v1h-1zM182 164h1v1h-1zM182 167h1v1h-1zM182 169h1v1h-1zM182 172h1v1h-1zM182 175h1v1h-1zM182 177h1v1h-1zM182 180h1v1h-1zM182 182h1v1h-1zM182 185h1v1h-1zM182 188h1v1h-1zM182 190h1v1h-1zM182 193h1v1h-1zM182 196h1v1h-1zM182 198h1v1h-1zM182 201h1v1h-1zM182 204h1v1h-1zM182 206h1v1h-1zM182 209h1v1h-1zM182 212h1v1h-1zM182 214h1v1h-1zM182 217h1v1h-1zM182 220h1v1h-1zM182 222h1v1h-1zM182 225h1v1h-1zM182 228h1v1h-1zM182 230h1v1h-1zM182 233h1v1h-1zM182 236h1v1h-1zM182 238h1v1h-1zM182 241h1v1h-1zM182 244h1v1h-1zM182 246h1v1h-1zM182 249h1v1h-1zM182 252h1v1h-1zM182 254h1v1h-1zM182 257h1v1h-1zM206 156h1v1h-1zM206 159h1v1h-1zM206 161h1v1h-1zM206 164h1v1h-1zM206 167h1v1h-1zM206 169h1v1h-1zM206 172h1v1h-1zM206 175h1v1h-1zM206 177h1v1h-1zM206 180h1v1h-1zM206 182h1v1h-1zM206 185h1v1h-1zM206 188h1v1h-1zM206 190h1v1h-1zM206 193h1v1h-1zM206 196h1v1h-1zM206 198h1v1h-1zM206 201h1v1h-1zM206 204h1v1h-1zM206 206h1v1h-1zM206 209h1v1h-1zM206 212h1v1h-1zM206 214h1v1h-1zM206 217h1v1h-1zM206 220h1v1h-1zM206 222h1v1h-1zM206 225h1v1h-1zM206 228h1v1h-1zM206 230h1v1h-1zM206 233h1v1h-1zM206 236h1v1h-1zM206 238h1v1h-1zM206 241h1v1h-1zM206 244h1v1h-1zM206 246h1v1h-1zM206 249h1v1h-1zM206 252h1v1h-1zM206 254h1v1h-1zM206 257h1v1h-1zM230 156h1v1h-1zM230 159h1v1h-1zM230 161h1v1h-1zM230 164h1v1h-1zM230 167h1v1h-1zM230 169h1v1h-1zM230 172h1v1h-1zM230 175h1v1h-1zM230 177h1v1h-1zM230 180h1v1h-1zM230 182h1v1h-1zM230 185h1v1h-1zM230 188h1v1h-1zM230 190h1v1h-1zM230 193h1v1h-1zM230 196h1v1h-1zM230 198h1v1h-1zM230 201h1v1h-1zM230 204h1v1h-1zM230 206h1v1h-1zM230 209h1v1h-1zM230 212h1v1h-1zM230 214h1v1h-1zM230 217h1v1h-1zM230 220h1v1h-1zM230 222h1v1h-1zM230 225h1v1h-1zM230 228h1v1h-1zM230 230h1v1h-1zM230 233h1v1h-1zM230 236h1v1h-1zM230 238h1v1h-1zM230 241h1v1h-1zM230 244h1v1h-1zM230 246h1v1h-1zM230 249h1v1h-1zM230 252h1v1h-1zM230 254h1v1h-1zM230 257h1v1h-1zM20 167h1v1h-1zM25 167h1v1h-1zM29 167h1v1h-1zM34 167h1v1h-1zM39 167h1v1h-1zM44 167h1v1h-1zM48 167h1v1h-1zM53 167h1v1h-1zM58 167h1v1h-1zM63 167h1v1h-1zM67 167h1v1h-1zM72 167h1v1h-1zM77 167h1v1h-1zM82 167h1v1h-1zM87 167h1v1h-1zM91 167h1v1h-1zM96 167h1v1h-1zM101 167h1v1h-1zM106 167h1v1h-1zM110 167h1v1h-1zM115 167h1v1h-1zM120 167h1v1h-1zM125 167h1v1h-1zM129 167h1v1h-1zM134 167h1v1h-1zM139 167h1v1h-1zM144 167h1v1h-1zM149 167h1v1h-1zM153 167h1v1h-1zM158 167h1v1h-1zM163 167h1v1h-1zM168 167h1v1h-1zM172 167h1v1h-1zM177 167h1v1h-1zM182 167h1v1h-1zM187 167h1v1h-1zM191 167h1v1h-1zM196 167h1v1h-1zM201 167h1v1h-1zM206 167h1v1h-1zM211 167h1v1h-1zM215 167h1v1h-1zM220 167h1v1h-1zM225 167h1v1h-1zM230 167h1v1h-1zM234 167h1v1h-1zM239 167h1v1h-1zM244 167h1v1h-1zM249 167h1v1h-1zM20 180h1v1h-1zM25 180h1v1h-1zM29 180h1v1h-1zM34 180h1v1h-1zM39 180h1v1h-1zM44 180h1v1h-1zM48 180h1v1h-1zM53 180h1v1h-1zM58 180h1v1h-1zM63 180h1v1h-1zM67 180h1v1h-1zM72 180h1v1h-1zM77 180h1v1h-1zM82 180h1v1h-1zM87 180h1v1h-1zM91 180h1v1h-1zM96 180h1v1h-1zM101 180h1v1h-1zM106 180h1v1h-1zM110 180h1v1h-1zM115 180h1v1h-1zM120 180h1v1h-1zM125 180h1v1h-1zM129 180h1v1h-1zM134 180h1v1h-1zM139 180h1v1h-1zM144 180h1v1h-1zM149 180h1v1h-1zM153 180h1v1h-1zM158 180h1v1h-1zM163 180h1v1h-1zM168 180h1v1h-1zM172 180h1v1h-1zM177 180h1v1h-1zM182 180h1v1h-1zM187 180h1v1h-1zM191 180h1v1h-1zM196 180h1v1h-1zM201 180h1v1h-1zM206 180h1v1h-1zM211 180h1v1h-1zM215 180h1v1h-1zM220 180h1v1h-1zM225 180h1v1h-1zM230 180h1v1h-1zM234 180h1v1h-1zM239 180h1v1h-1zM244 180h1v1h-1zM249 180h1v1h-1zM20 193h1v1h-1zM25 193h1v1h-1zM29 193h1v1h-1zM34 193h1v1h-1zM39 193h1v1h-1zM44 193h1v1h-1zM48 193h1v1h-1zM53 193h1v1h-1zM58 193h1v1h-1zM63 193h1v1h-1zM67 193h1v1h-1zM72 193h1v1h-1zM77 193h1v1h-1zM82 193h1v1h-1zM87 193h1v1h-1zM91 193h1v1h-1zM96 193h1v1h-1zM101 193h1v1h-1zM106 193h1v1h-1zM110 193h1v1h-1zM115 193h1v1h-1zM120 193h1v1h-1zM125 193h1v1h-1zM129 193h1v1h-1zM134 193h1v1h-1zM139 193h1v1h-1zM144 193h1v1h-1zM149 193h1v1h-1zM153 193h1v1h-1zM158 193h1v1h-1zM163 193h1v1h-1zM168 193h1v1h-1zM172 193h1v1h-1zM177 193h1v1h-1zM182 193h1v1h-1zM187 193h1v1h-1zM191 193h1v1h-1zM196 193h1v1h-1zM201 193h1v1h-1zM206 193h1v1h-1zM211 193h1v1h-1zM215 193h1v1h-1zM220 193h1v1h-1zM225 193h1v1h-1zM230 193h1v1h-1zM234 193h1v1h-1zM239 193h1v1h-1zM244 193h1v1h-1zM249 193h1v1h-1zM20 206h1v1h-1zM25 206h1v1h-1zM29 206h1v1h-1zM34 206h1v1h-1zM39 206h1v1h-1zM44 206h1v1h-1zM48 206h1v1h-1zM53 206h1v1h-1zM58 206h1v1h-1zM63 206h1v1h-1zM67 206h1v1h-1zM72 206h1v1h-1zM77 206h1v1h-1zM82 206h1v1h-1zM87 206h1v1h-1zM91 206h1v1h-1zM96 206h1v1h-1zM101 206h1v1h-1zM106 206h1v1h-1zM110 206h1v1h-1zM115 206h1v1h-1zM120 206h1v1h-1zM125 206h1v1h-1zM129 206h1v1h-1zM134 206h1v1h-1zM139 206h1v1h-1zM144 206h1v1h-1zM149 206h1v1h-1zM153 206h1v1h-1zM158 206h1v1h-1zM163 206h1v1h-1zM168 206h1v1h-1zM172 206h1v1h-1zM177 206h1v1h-1zM182 206h1v1h-1zM187 206h1v1h-1zM191 206h1v1h-1zM196 206h1v1h-1zM201 206h1v1h-1zM206 206h1v1h-1zM211 206h1v1h-1zM215 206h1v1h-1zM220 206h1v1h-1zM225 206h1v1h-1zM230 206h1v1h-1zM234 206h1v1h-1zM239 206h1v1h-1zM244 206h1v1h-1zM249 206h1v1h-1zM20 220h1v1h-1zM25 220h1v1h-1zM29 220h1v1h-1zM34 220h1v1h-1zM39 220h1v1h-1zM44 220h1v1h-1zM48 220h1v1h-1zM53 220h1v1h-1zM58 220h1v1h-1zM63 220h1v1h-1zM67 220h1v1h-1zM72 220h1v1h-1zM77 220h1v1h-1zM82 220h1v1h-1zM87 220h1v1h-1zM91 220h1v1h-1zM96 220h1v1h-1zM101 220h1v1h-1zM106 220h1v1h-1zM110 220h1v1h-1zM115 220h1v1h-1zM120 220h1v1h-1zM125 220h1v1h-1zM129 220h1v1h-1zM134 220h1v1h-1zM139 220h1v1h-1zM144 220h1v1h-1zM149 220h1v1h-1zM153 220h1v1h-1zM158 220h1v1h-1zM163 220h1v1h-1zM168 220h1v1h-1zM172 220h1v1h-1zM177 220h1v1h-1zM182 220h1v1h-1zM187 220h1v1h-1zM191 220h1v1h-1zM196 220h1v1h-1zM201 220h1v1h-1zM206 220h1v1h-1zM211 220h1v1h-1zM215 220h1v1h-1zM220 220h1v1h-1zM225 220h1v1h-1zM230 220h1v1h-1zM234 220h1v1h-1zM239 220h1v1h-1zM244 220h1v1h-1zM249 220h1v1h-1zM20 233h1v1h-1zM25 233h1v1h-1zM29 233h1v1h-1zM34 233h1v1h-1zM39 233h1v1h-1zM44 233h1v1h-1zM48 233h1v1h-1zM53 233h1v1h-1zM58 233h1v1h-1zM63 233h1v1h-1zM67 233h1v1h-1zM72 233h1v1h-1zM77 233h1v1h-1zM82 233h1v1h-1zM87 233h1v1h-1zM91 233h1v1h-1zM96 233h1v1h-1zM101 233h1v1h-1zM106 233h1v1h-1zM110 233h1v1h-1zM115 233h1v1h-1zM120 233h1v1h-1zM125 233h1v1h-1zM129 233h1v1h-1zM134 233h1v1h-1zM139 233h1v1h-1zM144 233h1v1h-1zM149 233h1v1h-1zM153 233h1v1h-1zM158 233h1v1h-1zM163 233h1v1h-1zM168 233h1v1h-1zM172 233h1v1h-1zM177 233h1v1h-1zM182 233h1v1h-1zM187 233h1v1h-1zM191 233h1v1h-1zM196 233h1v1h-1zM201 233h1v1h-1zM206 233h1v1h-1zM211 233h1v1h-1zM215 233h1v1h-1zM220 233h1v1h-1zM225 233h1v1h-1zM230 233h1v1h-1zM234 233h1v1h-1zM239 233h1v1h-1zM244 233h1v1h-1zM249 233h1v1h-1zM20 246h1v1h-1zM25 246h1v1h-1zM29 246h1v1h-1zM34 246h1v1h-1zM39 246h1v1h-1zM44 246h1v1h-1zM48 246h1v1h-1zM53 246h1v1h-1zM58 246h1v1h-1zM63 246h1v1h-1zM67 246h1v1h-1zM72 246h1v1h-1zM77 246h1v1h-1zM82 246h1v1h-1zM87 246h1v1h-1zM91 246h1v1h-1zM96 246h1v1h-1zM101 246h1v1h-1zM106 246h1v1h-1zM110 246h1v1h-1zM115 246h1v1h-1zM120 246h1v1h-1zM125 246h1v1h-1zM129 246h1v1h-1zM134 246h1v1h-1zM139 246h1v1h-1zM144 246h1v1h-1zM149 246h1v1h-1zM153 246h1v1h-1zM158 246h1v1h-1zM163 246h1v1h-1zM168 246h1v1h-1zM172 246h1v1h-1zM177 246h1v1h-1zM182 246h1v1h-1zM187 246h1v1h-1zM191 246h1v1h-1zM196 246h1v1h-1zM201 246h1v1h-1zM206 246h1v1h-1zM211 246h1v1h-1zM215 246h1v1h-1zM220 246h1v1h-1zM225 246h1v1h-1zM230 246h1v1h-1zM234 246h1v1h-1zM239 246h1v1h-1zM244 246h1v1h-1zM249 246h1v1h-1z" fill="#ababab"/>
<path d="M20.27 205.75v2.4M25.04 205.75v2.4M29.81 205.75v2.4M34.58 205.75v2.4M39.35 205.75v2.4M44.12 205.75v2.4M48.89 205.75v2.4M53.66 205.75v2.4M58.43 205.75v2.4M63.2 205.75v2.4M67.97 205.75v2.4M72.74 205.75v2.4M77.51 205.75v2.4M82.28 205.75v2.4M87.05 205.75v2.4M91.82 205.75v2.4M96.59 205.75v2.4M101.36 205.75v2.4M106.13 205.75v2.4M110.9 205.75v2.4M115.67 205.75v2.4M120.44 205.75v2.4M125.21 205.75v2.4M129.98 205.75v2.4M134.75 205.75v2.4M139.52 205.75v2.4M144.29 205.75v2.4M149.06 205.75v2.4M153.83 205.75v2.4M158.6 205.75v2.4M163.37 205.75v2.4M168.14 205.75v2.4M172.91 205.75v2.4M177.68 205.75v2.4M182.45 205.75v2.4M187.22 205.75v2.4M191.99 205.75v2.4M196.76 205.75v2.4M201.53 205.75v2.4M206.3 205.75v2.4M211.07 205.75v2.4M215.84 205.75v2.4M220.61 205.75v2.4M225.38 205.75v2.4M230.15 205.75v2.4M234.92 205.75v2.4M239.69 205.75v2.4M244.46 205.75v2.4M249.23 205.75v2.4M133.55 156.36h2.4M133.55 159.02h2.4M133.55 161.69h2.4M133.55 164.35h2.4M133.55 167.01h2.4M133.55 169.67h2.4M133.55 172.34h2.4M133.55 175h2.4M133.55 177.66h2.4M133.55 180.32h2.4M133.55 182.99h2.4M133.55 185.65h2.4M133.55 188.31h2.4M133.55 190.97h2.4M133.55 193.64h2.4M133.55 196.3h2.4M133.55 198.96h2.4M133.55 201.62h2.4M133.55 204.29h2.4M133.55 206.95h2.4M133.55 209.61h2.4M133.55 212.27h2.4M133.55 214.94h2.4M133.55 217.6h2.4M133.55 220.26h2.4M133.55 222.92h2.4M133.55 225.59h2.4M133.55 228.25h2.4M133.55 230.91h2.4M133.55 233.57h2.4M133.55 236.24h2.4M133.55 238.9h2.4M133.55 241.56h2.4M133.55 244.22h2.4M133.55 246.89h2.4M133.55 249.55h2.4M133.55 252.21h2.4M133.55 254.88h2.4M133.55 257.54h2.4" stroke="#666" stroke-width="0.9" fill="none"/>
<polyline points="15.5,170.26 17,170.38 18.5,169.78 20,170.14 21.5,170.28 23,169.78 24.5,170.34 26,169.83 27.5,170.17 29,170.14 30.5,170.19 32,169.96 33.5,170.04 35,170.16 36.5,170.05 38,170.21 39.5,170.06 41,170.06 42.5,169.77 44,170.18 45.5,170.09 47,169.91 48.5,170.28 50,170.3 51.5,170.07 53,169.88 54.5,170.08 56,169.82 57.5,169.84 59,170.05 60.5,169.81 62,170.06 63.5,170.11 65,169.78 66.5,170.2 68,169.81 69.5,170.26 71,170.29 72.5,170.11 74,169.79 75.5,170.1 77,170.01 78.5,170.42 80,169.85 81.5,170.35 83,170.45 84.5,170.26 86,170.32 87.5,169.89 89,170.44 90.5,170.09 92,170.42 93.5,170.39 95,169.87 96.5,170.3 98,170.4 99.5,169.8 101,170 102.5,170.28 104,169.86 105.5,170.38 107,169.94 108.5,170.32 110,169.85 111.5,170.1 113,170.39 114.5,169.9 116,169.93 117.5,170.1 119,169.97 120.5,169.78 122,169.88 123.5,169.86 125,170.41 126.5,170.23 128,170.38 129.5,169.87 131,170.3 132.5,169.83 134,170.12 135.5,170.2 137,170 138.5,170.36 140,170.14 141.5,170.16 143,170.37 144.5,169.82 146,170.45 147.5,170.19 149,170.03 150.5,170.31 152,169.94 153.5,170.44 155,170.15 156.5,170 158,170.29 159.5,170.06 161,169.87 162.5,170.27 164,169.78 165.5,170.32 167,169.93 168.5,170.2 170,170.44 171.5,170.16 173,170.21 174.5,169.97 176,169.75 177.5,169.77 179,169.85 180.5,170.18 182,170.05 183.5,170.11 185,170.38 186.5,169.84 188,169.91 189.5,170.21 191,169.77 192.5,169.75 194,170 195.5,169.82 197,170 198.5,169.91 200,170.36 201.5,170.36 203,170.09 204.5,170.39 206,170.28 207.5,170.04 209,170.61 210.5,170.12 212,170.05 213.5,170.02 215,170.4 216.5,170.56 218,170.5 219.5,170.23 221,170.13 222.5,169.96 224,170.4 225.5,170.34 227,170.2 228.5,170.4 230,170.26 231.5,170.61 233,170.46 234.5,170.12 236,170.58 237.5,169.98 239,170.32 240.5,170.23 242,170.12 243.5,169.99 245,170.5 246.5,169.96 248,170.34 249.5,170.61 251,170.05 252.5,170.09 254,170.38" fill="none" stroke="#2a2ab0" stroke-width="1.3"/>
<path d="M15.5 218.5 L16.5 218.58 L17.5 218.69 L18.5 218.3 L19.5 218.39 L20.5 218.38 L21.5 218.23 L22.5 218.73 L23.5 218.67 L24.5 218.63 L25.5 218.2 L26.5 218.71 L27.5 218.65 L28.5 218.48 L29.5 218.65 L30.5 218.47 L31.5 218.34 L32.5 218.26 L33.5 218.34 L34.5 218.22 L35.5 218.4 L36.5 218.65 L37.5 218.62 L38.5 218.71 L39.5 218.63 L39.6 218.5 L39.6 220.66 L38.6 220.83 L37.6 220.76 L36.6 220.97 L35.6 220.81 L34.6 220.66 L33.6 220.89 L32.6 221.08 L31.6 220.63 L30.6 221.03 L29.6 220.51 L28.6 220.66 L27.6 220.64 L26.6 220.95 L25.6 221.07 L24.6 220.95 L23.6 220.7 L22.6 221.03 L21.6 220.7 L20.6 220.64 L19.6 221.04 L18.6 220.88 L17.6 220.92 L16.6 220.9 L15.6 221.09 L15.5 220.8Z" fill="#1cb6b6" stroke="#0e7070" stroke-width="0.6"/>
<path d="M39.6 203.58 L40.6 203.8 L41.6 203.72 L42.6 203.81 L43.6 203.56 L44.6 203.73 L45.6 203.64 L46.6 203.48 L47.6 203.43 L48.6 203.67 L49.6 203.35 L50.6 203.85 L51.6 203.39 L52.6 203.32 L53.6 203.36 L54.6 203.86 L55.6 203.51 L56.6 203.39 L57.6 203.32 L58.6 203.32 L59.6 203.72 L60.6 203.68 L61.6 203.72 L62.6 203.74 L63.6 203.6 L63.6 206.14 L62.6 206.45 L61.6 206.32 L60.6 206.59 L59.6 206.59 L58.6 206.63 L57.6 206.14 L56.6 206.62 L55.6 206.65 L54.6 206.67 L53.6 206.16 L52.6 206.22 L51.6 206.17 L50.6 206.12 L49.6 206.61 L48.6 206.59 L47.6 206.48 L46.6 206.6 L45.6 206.48 L44.6 206.27 L43.6 206.16 L42.6 206.16 L41.6 206.55 L40.6 206.22 L39.6 206.4Z" fill="#1cb6b6" stroke="#0e7070" stroke-width="0.6"/>
<path d="M63.6 206.69 L64.6 206.75 L65.6 206.51 L66.6 206.65 L67.6 206.67 L68.6 206.93 L69.6 206.72 L70.6 206.69 L71.6 207.08 L72.6 206.8 L73.6 207.01 L74.6 206.87 L75.6 206.52 L76.6 206.75 L77.6 206.76 L78.6 206.96 L79.6 206.71 L80.6 206.92 L81.6 206.82 L82.6 206.63 L83.6 207.02 L84.6 206.55 L85.6 206.99 L86.6 206.6 L87.6 206.5 L88.6 206.62 L89.6 206.96 L90.6 207.09 L91.6 206.5 L92.6 206.79 L93.6 206.79 L94.6 206.98 L95.6 206.61 L96.6 206.8 L97.6 206.71 L98.6 207 L99.6 206.66 L100.6 207.07 L101.6 206.67 L102.6 206.63 L103.6 206.92 L104.6 206.8 L105.6 206.57 L106.6 206.88 L107.6 206.55 L108.6 206.97 L109.6 206.92 L110.6 206.97 L110.8 206.8 L110.8 209.38 L109.8 209.21 L108.8 209.24 L107.8 209.24 L106.8 209.53 L105.8 209.05 L104.8 209.53 L103.8 209.02 L102.8 209.12 L101.8 209.16 L100.8 209.54 L99.8 209.3 L98.8 209.23 L97.8 209.53 L96.8 209.14 L95.8 209.28 L94.8 209.32 L93.8 209.45 L92.8 209.45 L91.8 209.39 L90.8 209.21 L89.8 209.2 L88.8 209.09 L87.8 209.51 L86.8 209.4 L85.8 209.45 L84.8 209.1 L83.8 209.26 L82.8 209.46 L81.8 209.35 L80.8 209.08 L79.8 209.28 L78.8 209.53 L77.8 209.14 L76.8 209.11 L75.8 209.18 L74.8 209.42 L73.8 209.51 L72.8 209.09 L71.8 209.09 L70.8 209.15 L69.8 209.2 L68.8 209.31 L67.8 209.1 L66.8 209.2 L65.8 209.11 L64.8 209.59 L63.8 209.44 L63.6 209.3Z" fill="#1cb6b6" stroke="#0e7070" stroke-width="0.6"/>
<path d="M110.8 223.76 L111.8 224.28 L112.8 223.76 L113.8 223.93 L114.8 224.29 L115.8 224.18 L116.8 224.14 L117.8 223.96 L118.8 223.82 L119.8 224.08 L120.8 223.76 L121.8 223.82 L122.8 223.93 L123.8 223.72 L124.8 223.94 L125.8 224.17 L126.8 224.12 L127.8 224 L128.8 224.08 L129.8 223.98 L130.8 223.79 L131.8 224.06 L132.8 223.94 L133.8 224.14 L134.8 224.24 L135.8 223.96 L136.8 224.04 L137.8 224.15 L138.8 223.95 L139.8 223.84 L140.8 224.13 L141.8 224.23 L142.8 224.16 L143.8 224.12 L144.8 224.21 L145.8 224.11 L146.8 224.08 L147.8 223.97 L148.8 223.89 L149.8 224.08 L150.8 223.76 L151.8 223.95 L152.8 224.17 L153.8 224.13 L154.8 224.08 L155.8 223.85 L156.8 223.95 L157.8 223.97 L158.6 224 L158.6 226.47 L157.6 226.35 L156.6 226.51 L155.6 226.66 L154.6 226.21 L153.6 226.49 L152.6 226.57 L151.6 226.33 L150.6 226.39 L149.6 226.68 L148.6 226.12 L147.6 226.43 L146.6 226.2 L145.6 226.57 L144.6 226.66 L143.6 226.41 L142.6 226.16 L141.6 226.44 L140.6 226.42 L139.6 226.53 L138.6 226.41 L137.6 226.48 L136.6 226.6 L135.6 226.41 L134.6 226.35 L133.6 226.67 L132.6 226.23 L131.6 226.51 L130.6 226.34 L129.6 226.56 L128.6 226.17 L127.6 226.69 L126.6 226.31 L125.6 226.13 L124.6 226.26 L123.6 226.34 L122.6 226.11 L121.6 226.35 L120.6 226.35 L119.6 226.52 L118.6 226.31 L117.6 226.26 L116.6 226.23 L115.6 226.54 L114.6 226.66 L113.6 226.42 L112.6 226.23 L111.6 226.58 L110.8 226.4Z" fill="#1cb6b6" stroke="#0e7070" stroke-width="0.6"/>
<path d="M158.6 231.64 L159.6 231.53 L160.6 231.48 L161.6 231.87 L162.6 231.89 L163.6 231.78 L164.6 231.68 L165.6 231.74 L166.6 231.54 L167.6 231.98 L168.6 231.61 L169.6 231.78 L170.6 231.89 L171.6 231.89 L172.6 231.68 L173.6 231.58 L174.6 231.73 L175.6 231.48 L176.6 231.9 L177.6 231.61 L178.6 231.91 L179.6 231.56 L180.6 231.63 L181.6 231.55 L182.6 231.66 L183.6 231.51 L184.6 231.4 L185.6 231.83 L186.6 231.57 L187.6 231.55 L188.6 231.58 L189.6 231.69 L190.6 231.66 L191.6 231.78 L192.6 231.8 L193.6 231.62 L194.6 231.96 L195.6 231.91 L196.6 231.43 L197.6 231.9 L198.6 231.94 L199.6 231.87 L200.6 231.48 L201.6 231.9 L202.6 231.78 L203.6 231.41 L204.6 231.41 L205.6 231.97 L206 231.7 L206 234.49 L205 234.25 L204 234.16 L203 234.19 L202 234.24 L201 234.57 L200 234.31 L199 234.19 L198 234.64 L197 234.58 L196 234.2 L195 234.63 L194 234.47 L193 234.57 L192 234.5 L191 234.64 L190 234.57 L189 234.6 L188 234.22 L187 234.52 L186 234.42 L185 234.55 L184 234.36 L183 234.63 L182 234.43 L181 234.26 L180 234.24 L179 234.18 L178 234.4 L177 234.14 L176 234.38 L175 234.19 L174 234.39 L173 234.4 L172 234.42 L171 234.62 L170 234.1 L169 234.6 L168 234.38 L167 234.44 L166 234.5 L165 234.6 L164 234.32 L163 234.35 L162 234.68 L161 234.15 L160 234.48 L159 234.48 L158.6 234.4Z" fill="#1cb6b6" stroke="#0e7070" stroke-width="0.6"/>
<path d="M206 209.32 L207 209.67 L208 209.71 L209 209.86 L210 209.5 L211 209.89 L212 209.61 L213 209.59 L214 209.84 L215 209.32 L216 209.73 L217 209.68 L218 209.5 L219 209.82 L220 209.52 L221 209.58 L222 209.62 L223 209.76 L224 209.43 L225 209.56 L226 209.55 L227 209.63 L228 209.8 L229 209.48 L229.8 209.6 L229.8 212.6 L228.8 212.34 L227.8 212.4 L226.8 212.26 L225.8 212.4 L224.8 212.68 L223.8 212.49 L222.8 212.58 L221.8 212.3 L220.8 212.29 L219.8 212.28 L218.8 212.45 L217.8 212.48 L216.8 212.57 L215.8 212.12 L214.8 212.53 L213.8 212.63 L212.8 212.43 L211.8 212.13 L210.8 212.28 L209.8 212.1 L208.8 212.21 L207.8 212.65 L206.8 212.47 L206 212.4Z" fill="#1cb6b6" stroke="#0e7070" stroke-width="0.6"/>
<path d="M229.8 218.69 L230.8 218.77 L231.8 218.85 L232.8 218.67 L233.8 218.67 L234.8 218.68 L235.8 218.72 L236.8 218.66 L237.8 218.71 L238.8 218.43 L239.8 218.7 L240.8 218.57 L241.8 218.76 L242.8 218.36 L243.8 218.41 L244.8 218.32 L245.8 218.76 L246.8 218.85 L247.8 218.69 L248.8 218.52 L249.8 218.79 L250.8 218.77 L251.8 218.64 L252.8 218.45 L253.5 218.6 L253.5 220.88 L252.5 220.95 L251.5 220.89 L250.5 220.96 L249.5 221.09 L248.5 221.26 L247.5 220.73 L246.5 221.04 L245.5 220.72 L244.5 220.77 L243.5 221.19 L242.5 221.05 L241.5 221.25 L240.5 220.97 L239.5 220.71 L238.5 220.93 L237.5 221.06 L236.5 221.26 L235.5 221.29 L234.5 220.99 L233.5 220.95 L232.5 220.76 L231.5 221.09 L230.5 220.83 L229.8 221Z" fill="#1cb6b6" stroke="#0e7070" stroke-width="0.6"/>
<line x1="39.6" y1="203.3" x2="39.6" y2="221.1" stroke="#2a9ea0" stroke-width="0.9" />
<line x1="63.6" y1="203.3" x2="63.6" y2="209.6" stroke="#2a9ea0" stroke-width="0.9" />
<line x1="110.8" y1="206.5" x2="110.8" y2="226.7" stroke="#2a9ea0" stroke-width="0.9" />
<line x1="158.6" y1="223.7" x2="158.6" y2="234.7" stroke="#2a9ea0" stroke-width="0.9" />
<line x1="206" y1="209.3" x2="206" y2="234.7" stroke="#2a9ea0" stroke-width="0.9" />
<line x1="229.8" y1="209.3" x2="229.8" y2="221.3" stroke="#2a9ea0" stroke-width="0.9" />
<path d="M5.5 217.2h7.2l2 3-2 3h-7.2z" fill="#8ee8ee" stroke="#5cc" stroke-width="0.4"/>
<text x="9.2" y="221.9" font-family="'Liberation Sans', sans-serif" font-size="4.8" fill="#fff" text-anchor="middle" >2</text>
<path d="M5.5 231h7.5l2 2.5-2 2.5h-7.5z" fill="#2222ee"/>
<text x="9.3" y="235.1" font-family="'Liberation Sans', sans-serif" font-size="4.5" fill="#fff" text-anchor="middle" >1</text>
<path d="M254 210l-2.5 -1.3v2.6z" fill="#2244ee"/>
<rect x="15.5" y="153.7" width="238.5" height="106.5" fill="none" stroke="#3a3a3a" stroke-width="1"/>
<path d="M20.27 153.7v1.6M20.27 260.2v-1.6M25.04 153.7v1.6M25.04 260.2v-1.6M29.81 153.7v1.6M29.81 260.2v-1.6M34.58 153.7v1.6M34.58 260.2v-1.6M39.35 153.7v1.6M39.35 260.2v-1.6M44.12 153.7v1.6M44.12 260.2v-1.6M48.89 153.7v1.6M48.89 260.2v-1.6M53.66 153.7v1.6M53.66 260.2v-1.6M58.43 153.7v1.6M58.43 260.2v-1.6M63.2 153.7v1.6M63.2 260.2v-1.6M67.97 153.7v1.6M67.97 260.2v-1.6M72.74 153.7v1.6M72.74 260.2v-1.6M77.51 153.7v1.6M77.51 260.2v-1.6M82.28 153.7v1.6M82.28 260.2v-1.6M87.05 153.7v1.6M87.05 260.2v-1.6M91.82 153.7v1.6M91.82 260.2v-1.6M96.59 153.7v1.6M96.59 260.2v-1.6M101.36 153.7v1.6M101.36 260.2v-1.6M106.13 153.7v1.6M106.13 260.2v-1.6M110.9 153.7v1.6M110.9 260.2v-1.6M115.67 153.7v1.6M115.67 260.2v-1.6M120.44 153.7v1.6M120.44 260.2v-1.6M125.21 153.7v1.6M125.21 260.2v-1.6M129.98 153.7v1.6M129.98 260.2v-1.6M134.75 153.7v1.6M134.75 260.2v-1.6M139.52 153.7v1.6M139.52 260.2v-1.6M144.29 153.7v1.6M144.29 260.2v-1.6M149.06 153.7v1.6M149.06 260.2v-1.6M153.83 153.7v1.6M153.83 260.2v-1.6M158.6 153.7v1.6M158.6 260.2v-1.6M163.37 153.7v1.6M163.37 260.2v-1.6M168.14 153.7v1.6M168.14 260.2v-1.6M172.91 153.7v1.6M172.91 260.2v-1.6M177.68 153.7v1.6M177.68 260.2v-1.6M182.45 153.7v1.6M182.45 260.2v-1.6M187.22 153.7v1.6M187.22 260.2v-1.6M191.99 153.7v1.6M191.99 260.2v-1.6M196.76 153.7v1.6M196.76 260.2v-1.6M201.53 153.7v1.6M201.53 260.2v-1.6M206.3 153.7v1.6M206.3 260.2v-1.6M211.07 153.7v1.6M211.07 260.2v-1.6M215.84 153.7v1.6M215.84 260.2v-1.6M220.61 153.7v1.6M220.61 260.2v-1.6M225.38 153.7v1.6M225.38 260.2v-1.6M230.15 153.7v1.6M230.15 260.2v-1.6M234.92 153.7v1.6M234.92 260.2v-1.6M239.69 153.7v1.6M239.69 260.2v-1.6M244.46 153.7v1.6M244.46 260.2v-1.6M249.23 153.7v1.6M249.23 260.2v-1.6M15.5 156.36h1.6M254 156.36h-1.6M15.5 159.02h1.6M254 159.02h-1.6M15.5 161.69h1.6M254 161.69h-1.6M15.5 164.35h1.6M254 164.35h-1.6M15.5 167.01h1.6M254 167.01h-1.6M15.5 169.67h1.6M254 169.67h-1.6M15.5 172.34h1.6M254 172.34h-1.6M15.5 175h1.6M254 175h-1.6M15.5 177.66h1.6M254 177.66h-1.6M15.5 180.32h1.6M254 180.32h-1.6M15.5 182.99h1.6M254 182.99h-1.6M15.5 185.65h1.6M254 185.65h-1.6M15.5 188.31h1.6M254 188.31h-1.6M15.5 190.97h1.6M254 190.97h-1.6M15.5 193.64h1.6M254 193.64h-1.6M15.5 196.3h1.6M254 196.3h-1.6M15.5 198.96h1.6M254 198.96h-1.6M15.5 201.62h1.6M254 201.62h-1.6M15.5 204.29h1.6M254 204.29h-1.6M15.5 206.95h1.6M254 206.95h-1.6M15.5 209.61h1.6M254 209.61h-1.6M15.5 212.27h1.6M254 212.27h-1.6M15.5 214.94h1.6M254 214.94h-1.6M15.5 217.6h1.6M254 217.6h-1.6M15.5 220.26h1.6M254 220.26h-1.6M15.5 222.92h1.6M254 222.92h-1.6M15.5 225.59h1.6M254 225.59h-1.6M15.5 228.25h1.6M254 228.25h-1.6M15.5 230.91h1.6M254 230.91h-1.6M15.5 233.57h1.6M254 233.57h-1.6M15.5 236.24h1.6M254 236.24h-1.6M15.5 238.9h1.6M254 238.9h-1.6M15.5 241.56h1.6M254 241.56h-1.6M15.5 244.22h1.6M254 244.22h-1.6M15.5 246.89h1.6M254 246.89h-1.6M15.5 249.55h1.6M254 249.55h-1.6M15.5 252.21h1.6M254 252.21h-1.6M15.5 254.88h1.6M254 254.88h-1.6M15.5 257.54h1.6M254 257.54h-1.6" stroke="#333" stroke-width="0.75" fill="none"/>
<path d="M132.75 152.5h4l-2 2.4z" fill="#f39a1e"/>
<ellipse cx="134.75" cy="157.9" rx="1.3" ry="1.6" fill="none" stroke="#f5a040" stroke-width="0.8"/>
<rect x="29.2" y="243.1" width="20" height="13" fill="#fff" />
<rect x="52.4" y="243.1" width="20" height="13" fill="#fff" />
<rect x="100.4" y="243.1" width="20" height="13" fill="#fff" />
<rect x="148.3" y="243.1" width="20" height="13" fill="#fff" />
<rect x="195.9" y="243.1" width="20" height="13" fill="#fff" />
<rect x="220.7" y="243.1" width="20" height="13" fill="#fff" />
<text x="39.2" y="252.6" font-family="'Liberation Serif', serif" font-size="8.2" fill="#262626" font-weight="bold" text-anchor="middle" textLength="12.3" lengthAdjust="spacingAndGlyphs" >(t1)</text>
<text x="62.4" y="252.6" font-family="'Liberation Serif', serif" font-size="8.2" fill="#262626" font-weight="bold" text-anchor="middle" textLength="12.3" lengthAdjust="spacingAndGlyphs" >(t2)</text>
<text x="110.4" y="252.6" font-family="'Liberation Serif', serif" font-size="8.2" fill="#262626" font-weight="bold" text-anchor="middle" textLength="12.3" lengthAdjust="spacingAndGlyphs" >(t3)</text>
<text x="158.3" y="252.6" font-family="'Liberation Serif', serif" font-size="8.2" fill="#262626" font-weight="bold" text-anchor="middle" textLength="12.3" lengthAdjust="spacingAndGlyphs" >(t4)</text>
<text x="205.9" y="252.6" font-family="'Liberation Serif', serif" font-size="8.2" fill="#262626" font-weight="bold" text-anchor="middle" textLength="12.3" lengthAdjust="spacingAndGlyphs" >(t5)</text>
<text x="230.7" y="252.6" font-family="'Liberation Serif', serif" font-size="8.2" fill="#262626" font-weight="bold" text-anchor="middle" textLength="12.3" lengthAdjust="spacingAndGlyphs" >(t6)</text>
<rect x="24.5" y="176.1" width="39.5" height="12" fill="#fff" />
<rect x="24.5" y="232.6" width="36.5" height="12" fill="#fff" />
<text x="27.5" y="185.1" font-family="'Liberation Serif', serif" font-size="8.5" fill="#262626" font-weight="bold" textLength="33.5" lengthAdjust="spacingAndGlyphs" >Ch1(Vdc)</text>
<text x="27.5" y="241.6" font-family="'Liberation Serif', serif" font-size="8.5" fill="#262626" font-weight="bold" textLength="30.5" lengthAdjust="spacingAndGlyphs" >Ch2(Idc)</text>
<line x1="63.6" y1="182.6" x2="69.05" y2="176.57" stroke="#111" stroke-width="0.8" />
<polygon points="71.2,174.2 70.17,177.58 67.94,175.57" fill="#111"/>
<line x1="52.7" y1="227.7" x2="66.06" y2="212.88" stroke="#111" stroke-width="0.8" />
<polygon points="68.2,210.5 67.17,213.88 64.94,211.87" fill="#111"/>
<rect x="4.9" y="262.7" width="94.2" height="6.7" rx="1.5" fill="#ebebeb" stroke="#666" stroke-width="0.9"/>
<rect x="6.5" y="264.2" width="8.2" height="4.7" rx="2.35" fill="#1a1aff"/>
<text x="10.6" y="268" font-family="'Liberation Sans', sans-serif" font-size="4" fill="#fff" text-anchor="middle" >1</text>
<text x="19.6" y="268.5" font-family="'Liberation Sans', sans-serif" font-size="5.9" fill="#3434ff" stroke="#3434ff" stroke-width="0.15" textLength="13.2" lengthAdjust="spacingAndGlyphs" >40.0 V</text>
<rect x="57.3" y="264.2" width="8.2" height="4.7" rx="2.35" fill="#7ae6ec"/>
<text x="61.4" y="268" font-family="'Liberation Sans', sans-serif" font-size="4" fill="#fff" text-anchor="middle" >2</text>
<text x="70.5" y="268.5" font-family="'Liberation Sans', sans-serif" font-size="5.9" fill="#30d0e0" stroke="#30d0e0" stroke-width="0.15" textLength="13.2" lengthAdjust="spacingAndGlyphs" >10.0 A</text>
<rect x="100" y="262.5" width="51.3" height="7" rx="1" fill="#ebebeb" stroke="#666" stroke-width="0.9"/>
<rect x="151.3" y="262.5" width="74.3" height="7" rx="1" fill="#ebebeb" stroke="#666" stroke-width="0.9"/>
<rect x="225.6" y="262.5" width="31.9" height="7" rx="1" fill="#ebebeb" stroke="#666" stroke-width="0.9"/>
<text x="101.4" y="268.2" font-family="'Liberation Sans', sans-serif" font-size="6" fill="#1a1a1a" stroke="#1a1a1a" stroke-width="0.15" textLength="11.7" lengthAdjust="spacingAndGlyphs" >1.00 s</text>
<text x="150.5" y="268.2" font-family="'Liberation Sans', sans-serif" font-size="6" fill="#f5a623" stroke="#f5a623" stroke-width="0.15" text-anchor="end" textLength="20" lengthAdjust="spacingAndGlyphs" >0.00000 s</text>
<text x="165.7" y="268.2" font-family="'Liberation Sans', sans-serif" font-size="6" fill="#1a1a1a" stroke="#1a1a1a" stroke-width="0.15" textLength="18" lengthAdjust="spacingAndGlyphs" >/ 73.6 V</text>
<text x="225.2" y="268.2" font-family="'Liberation Sans', sans-serif" font-size="6" fill="#1a1a1a" stroke="#1a1a1a" stroke-width="0.15" text-anchor="end" textLength="16" lengthAdjust="spacingAndGlyphs" >&lt; 10 Hz</text>
<text x="227.4" y="268.2" font-family="'Liberation Sans', sans-serif" font-size="6" fill="#1a1a1a" stroke="#1a1a1a" stroke-width="0.15" textLength="17.6" lengthAdjust="spacingAndGlyphs" >18:12:05</text>
<rect x="153.2" y="264.4" width="9" height="4" rx="2" fill="#1a1aff"/>
<text x="157.7" y="267.5" font-family="'Liberation Sans', sans-serif" font-size="3.4" fill="#fff" text-anchor="middle" >1</text>
<text x="61.4" y="279.4" font-family="'Liberation Serif', serif" font-size="8.4" fill="#333" stroke="#333" stroke-width="0.12" textLength="43.5" lengthAdjust="spacingAndGlyphs" >Ch1:40V/div</text>
<text x="111.7" y="279.4" font-family="'Liberation Serif', serif" font-size="8.4" fill="#333" stroke="#333" stroke-width="0.12" textLength="43.5" lengthAdjust="spacingAndGlyphs" >Ch2:10A/div</text>
<text x="162" y="279.4" font-family="'Liberation Serif', serif" font-size="8.4" fill="#333" stroke="#333" stroke-width="0.12" textLength="39.8" lengthAdjust="spacingAndGlyphs" >Time:1s/div</text>
<text x="129.6" y="294.8" font-family="'Liberation Serif', serif" font-size="11.5" fill="#111" text-anchor="middle">(<tspan font-weight="bold">c</tspan>)</text>
<rect x="291.8" y="152" width="10.9" height="101.5" fill="#f2f2f2" />
<rect x="294.3" y="152" width="7.9" height="101.5" fill="#ebebeb" />
<rect x="302.7" y="152.5" width="238.7" height="105.6" fill="#ffffff" />
<path d="M326 155h1v1h-1zM326 157h1v1h-1zM326 160h1v1h-1zM326 163h1v1h-1zM326 165h1v1h-1zM326 168h1v1h-1zM326 170h1v1h-1zM326 173h1v1h-1zM326 176h1v1h-1zM326 178h1v1h-1zM326 181h1v1h-1zM326 184h1v1h-1zM326 186h1v1h-1zM326 189h1v1h-1zM326 192h1v1h-1zM326 194h1v1h-1zM326 197h1v1h-1zM326 200h1v1h-1zM326 202h1v1h-1zM326 205h1v1h-1zM326 207h1v1h-1zM326 210h1v1h-1zM326 213h1v1h-1zM326 215h1v1h-1zM326 218h1v1h-1zM326 221h1v1h-1zM326 223h1v1h-1zM326 226h1v1h-1zM326 229h1v1h-1zM326 231h1v1h-1zM326 234h1v1h-1zM326 236h1v1h-1zM326 239h1v1h-1zM326 242h1v1h-1zM326 244h1v1h-1zM326 247h1v1h-1zM326 250h1v1h-1zM326 252h1v1h-1zM326 255h1v1h-1zM350 155h1v1h-1zM350 157h1v1h-1zM350 160h1v1h-1zM350 163h1v1h-1zM350 165h1v1h-1zM350 168h1v1h-1zM350 170h1v1h-1zM350 173h1v1h-1zM350 176h1v1h-1zM350 178h1v1h-1zM350 181h1v1h-1zM350 184h1v1h-1zM350 186h1v1h-1zM350 189h1v1h-1zM350 192h1v1h-1zM350 194h1v1h-1zM350 197h1v1h-1zM350 200h1v1h-1zM350 202h1v1h-1zM350 205h1v1h-1zM350 207h1v1h-1zM350 210h1v1h-1zM350 213h1v1h-1zM350 215h1v1h-1zM350 218h1v1h-1zM350 221h1v1h-1zM350 223h1v1h-1zM350 226h1v1h-1zM350 229h1v1h-1zM350 231h1v1h-1zM350 234h1v1h-1zM350 236h1v1h-1zM350 239h1v1h-1zM350 242h1v1h-1zM350 244h1v1h-1zM350 247h1v1h-1zM350 250h1v1h-1zM350 252h1v1h-1zM350 255h1v1h-1zM374 155h1v1h-1zM374 157h1v1h-1zM374 160h1v1h-1zM374 163h1v1h-1zM374 165h1v1h-1zM374 168h1v1h-1zM374 170h1v1h-1zM374 173h1v1h-1zM374 176h1v1h-1zM374 178h1v1h-1zM374 181h1v1h-1zM374 184h1v1h-1zM374 186h1v1h-1zM374 189h1v1h-1zM374 192h1v1h-1zM374 194h1v1h-1zM374 197h1v1h-1zM374 200h1v1h-1zM374 202h1v1h-1zM374 205h1v1h-1zM374 207h1v1h-1zM374 210h1v1h-1zM374 213h1v1h-1zM374 215h1v1h-1zM374 218h1v1h-1zM374 221h1v1h-1zM374 223h1v1h-1zM374 226h1v1h-1zM374 229h1v1h-1zM374 231h1v1h-1zM374 234h1v1h-1zM374 236h1v1h-1zM374 239h1v1h-1zM374 242h1v1h-1zM374 244h1v1h-1zM374 247h1v1h-1zM374 250h1v1h-1zM374 252h1v1h-1zM374 255h1v1h-1zM398 155h1v1h-1zM398 157h1v1h-1zM398 160h1v1h-1zM398 163h1v1h-1zM398 165h1v1h-1zM398 168h1v1h-1zM398 170h1v1h-1zM398 173h1v1h-1zM398 176h1v1h-1zM398 178h1v1h-1zM398 181h1v1h-1zM398 184h1v1h-1zM398 186h1v1h-1zM398 189h1v1h-1zM398 192h1v1h-1zM398 194h1v1h-1zM398 197h1v1h-1zM398 200h1v1h-1zM398 202h1v1h-1zM398 205h1v1h-1zM398 207h1v1h-1zM398 210h1v1h-1zM398 213h1v1h-1zM398 215h1v1h-1zM398 218h1v1h-1zM398 221h1v1h-1zM398 223h1v1h-1zM398 226h1v1h-1zM398 229h1v1h-1zM398 231h1v1h-1zM398 234h1v1h-1zM398 236h1v1h-1zM398 239h1v1h-1zM398 242h1v1h-1zM398 244h1v1h-1zM398 247h1v1h-1zM398 250h1v1h-1zM398 252h1v1h-1zM398 255h1v1h-1zM422 155h1v1h-1zM422 157h1v1h-1zM422 160h1v1h-1zM422 163h1v1h-1zM422 165h1v1h-1zM422 168h1v1h-1zM422 170h1v1h-1zM422 173h1v1h-1zM422 176h1v1h-1zM422 178h1v1h-1zM422 181h1v1h-1zM422 184h1v1h-1zM422 186h1v1h-1zM422 189h1v1h-1zM422 192h1v1h-1zM422 194h1v1h-1zM422 197h1v1h-1zM422 200h1v1h-1zM422 202h1v1h-1zM422 205h1v1h-1zM422 207h1v1h-1zM422 210h1v1h-1zM422 213h1v1h-1zM422 215h1v1h-1zM422 218h1v1h-1zM422 221h1v1h-1zM422 223h1v1h-1zM422 226h1v1h-1zM422 229h1v1h-1zM422 231h1v1h-1zM422 234h1v1h-1zM422 236h1v1h-1zM422 239h1v1h-1zM422 242h1v1h-1zM422 244h1v1h-1zM422 247h1v1h-1zM422 250h1v1h-1zM422 252h1v1h-1zM422 255h1v1h-1zM445 155h1v1h-1zM445 157h1v1h-1zM445 160h1v1h-1zM445 163h1v1h-1zM445 165h1v1h-1zM445 168h1v1h-1zM445 170h1v1h-1zM445 173h1v1h-1zM445 176h1v1h-1zM445 178h1v1h-1zM445 181h1v1h-1zM445 184h1v1h-1zM445 186h1v1h-1zM445 189h1v1h-1zM445 192h1v1h-1zM445 194h1v1h-1zM445 197h1v1h-1zM445 200h1v1h-1zM445 202h1v1h-1zM445 205h1v1h-1zM445 207h1v1h-1zM445 210h1v1h-1zM445 213h1v1h-1zM445 215h1v1h-1zM445 218h1v1h-1zM445 221h1v1h-1zM445 223h1v1h-1zM445 226h1v1h-1zM445 229h1v1h-1zM445 231h1v1h-1zM445 234h1v1h-1zM445 236h1v1h-1zM445 239h1v1h-1zM445 242h1v1h-1zM445 244h1v1h-1zM445 247h1v1h-1zM445 250h1v1h-1zM445 252h1v1h-1zM445 255h1v1h-1zM469 155h1v1h-1zM469 157h1v1h-1zM469 160h1v1h-1zM469 163h1v1h-1zM469 165h1v1h-1zM469 168h1v1h-1zM469 170h1v1h-1zM469 173h1v1h-1zM469 176h1v1h-1zM469 178h1v1h-1zM469 181h1v1h-1zM469 184h1v1h-1zM469 186h1v1h-1zM469 189h1v1h-1zM469 192h1v1h-1zM469 194h1v1h-1zM469 197h1v1h-1zM469 200h1v1h-1zM469 202h1v1h-1zM469 205h1v1h-1zM469 207h1v1h-1zM469 210h1v1h-1zM469 213h1v1h-1zM469 215h1v1h-1zM469 218h1v1h-1zM469 221h1v1h-1zM469 223h1v1h-1zM469 226h1v1h-1zM469 229h1v1h-1zM469 231h1v1h-1zM469 234h1v1h-1zM469 236h1v1h-1zM469 239h1v1h-1zM469 242h1v1h-1zM469 244h1v1h-1zM469 247h1v1h-1zM469 250h1v1h-1zM469 252h1v1h-1zM469 255h1v1h-1zM493 155h1v1h-1zM493 157h1v1h-1zM493 160h1v1h-1zM493 163h1v1h-1zM493 165h1v1h-1zM493 168h1v1h-1zM493 170h1v1h-1zM493 173h1v1h-1zM493 176h1v1h-1zM493 178h1v1h-1zM493 181h1v1h-1zM493 184h1v1h-1zM493 186h1v1h-1zM493 189h1v1h-1zM493 192h1v1h-1zM493 194h1v1h-1zM493 197h1v1h-1zM493 200h1v1h-1zM493 202h1v1h-1zM493 205h1v1h-1zM493 207h1v1h-1zM493 210h1v1h-1zM493 213h1v1h-1zM493 215h1v1h-1zM493 218h1v1h-1zM493 221h1v1h-1zM493 223h1v1h-1zM493 226h1v1h-1zM493 229h1v1h-1zM493 231h1v1h-1zM493 234h1v1h-1zM493 236h1v1h-1zM493 239h1v1h-1zM493 242h1v1h-1zM493 244h1v1h-1zM493 247h1v1h-1zM493 250h1v1h-1zM493 252h1v1h-1zM493 255h1v1h-1zM517 155h1v1h-1zM517 157h1v1h-1zM517 160h1v1h-1zM517 163h1v1h-1zM517 165h1v1h-1zM517 168h1v1h-1zM517 170h1v1h-1zM517 173h1v1h-1zM517 176h1v1h-1zM517 178h1v1h-1zM517 181h1v1h-1zM517 184h1v1h-1zM517 186h1v1h-1zM517 189h1v1h-1zM517 192h1v1h-1zM517 194h1v1h-1zM517 197h1v1h-1zM517 200h1v1h-1zM517 202h1v1h-1zM517 205h1v1h-1zM517 207h1v1h-1zM517 210h1v1h-1zM517 213h1v1h-1zM517 215h1v1h-1zM517 218h1v1h-1zM517 221h1v1h-1zM517 223h1v1h-1zM517 226h1v1h-1zM517 229h1v1h-1zM517 231h1v1h-1zM517 234h1v1h-1zM517 236h1v1h-1zM517 239h1v1h-1zM517 242h1v1h-1zM517 244h1v1h-1zM517 247h1v1h-1zM517 250h1v1h-1zM517 252h1v1h-1zM517 255h1v1h-1zM307 165h1v1h-1zM312 165h1v1h-1zM317 165h1v1h-1zM321 165h1v1h-1zM326 165h1v1h-1zM331 165h1v1h-1zM336 165h1v1h-1zM340 165h1v1h-1zM345 165h1v1h-1zM350 165h1v1h-1zM355 165h1v1h-1zM359 165h1v1h-1zM364 165h1v1h-1zM369 165h1v1h-1zM374 165h1v1h-1zM379 165h1v1h-1zM383 165h1v1h-1zM388 165h1v1h-1zM393 165h1v1h-1zM398 165h1v1h-1zM402 165h1v1h-1zM407 165h1v1h-1zM412 165h1v1h-1zM417 165h1v1h-1zM422 165h1v1h-1zM426 165h1v1h-1zM431 165h1v1h-1zM436 165h1v1h-1zM441 165h1v1h-1zM445 165h1v1h-1zM450 165h1v1h-1zM455 165h1v1h-1zM460 165h1v1h-1zM465 165h1v1h-1zM469 165h1v1h-1zM474 165h1v1h-1zM479 165h1v1h-1zM484 165h1v1h-1zM488 165h1v1h-1zM493 165h1v1h-1zM498 165h1v1h-1zM503 165h1v1h-1zM507 165h1v1h-1zM512 165h1v1h-1zM517 165h1v1h-1zM522 165h1v1h-1zM527 165h1v1h-1zM531 165h1v1h-1zM536 165h1v1h-1zM307 178h1v1h-1zM312 178h1v1h-1zM317 178h1v1h-1zM321 178h1v1h-1zM326 178h1v1h-1zM331 178h1v1h-1zM336 178h1v1h-1zM340 178h1v1h-1zM345 178h1v1h-1zM350 178h1v1h-1zM355 178h1v1h-1zM359 178h1v1h-1zM364 178h1v1h-1zM369 178h1v1h-1zM374 178h1v1h-1zM379 178h1v1h-1zM383 178h1v1h-1zM388 178h1v1h-1zM393 178h1v1h-1zM398 178h1v1h-1zM402 178h1v1h-1zM407 178h1v1h-1zM412 178h1v1h-1zM417 178h1v1h-1zM422 178h1v1h-1zM426 178h1v1h-1zM431 178h1v1h-1zM436 178h1v1h-1zM441 178h1v1h-1zM445 178h1v1h-1zM450 178h1v1h-1zM455 178h1v1h-1zM460 178h1v1h-1zM465 178h1v1h-1zM469 178h1v1h-1zM474 178h1v1h-1zM479 178h1v1h-1zM484 178h1v1h-1zM488 178h1v1h-1zM493 178h1v1h-1zM498 178h1v1h-1zM503 178h1v1h-1zM507 178h1v1h-1zM512 178h1v1h-1zM517 178h1v1h-1zM522 178h1v1h-1zM527 178h1v1h-1zM531 178h1v1h-1zM536 178h1v1h-1zM307 192h1v1h-1zM312 192h1v1h-1zM317 192h1v1h-1zM321 192h1v1h-1zM326 192h1v1h-1zM331 192h1v1h-1zM336 192h1v1h-1zM340 192h1v1h-1zM345 192h1v1h-1zM350 192h1v1h-1zM355 192h1v1h-1zM359 192h1v1h-1zM364 192h1v1h-1zM369 192h1v1h-1zM374 192h1v1h-1zM379 192h1v1h-1zM383 192h1v1h-1zM388 192h1v1h-1zM393 192h1v1h-1zM398 192h1v1h-1zM402 192h1v1h-1zM407 192h1v1h-1zM412 192h1v1h-1zM417 192h1v1h-1zM422 192h1v1h-1zM426 192h1v1h-1zM431 192h1v1h-1zM436 192h1v1h-1zM441 192h1v1h-1zM445 192h1v1h-1zM450 192h1v1h-1zM455 192h1v1h-1zM460 192h1v1h-1zM465 192h1v1h-1zM469 192h1v1h-1zM474 192h1v1h-1zM479 192h1v1h-1zM484 192h1v1h-1zM488 192h1v1h-1zM493 192h1v1h-1zM498 192h1v1h-1zM503 192h1v1h-1zM507 192h1v1h-1zM512 192h1v1h-1zM517 192h1v1h-1zM522 192h1v1h-1zM527 192h1v1h-1zM531 192h1v1h-1zM536 192h1v1h-1zM307 205h1v1h-1zM312 205h1v1h-1zM317 205h1v1h-1zM321 205h1v1h-1zM326 205h1v1h-1zM331 205h1v1h-1zM336 205h1v1h-1zM340 205h1v1h-1zM345 205h1v1h-1zM350 205h1v1h-1zM355 205h1v1h-1zM359 205h1v1h-1zM364 205h1v1h-1zM369 205h1v1h-1zM374 205h1v1h-1zM379 205h1v1h-1zM383 205h1v1h-1zM388 205h1v1h-1zM393 205h1v1h-1zM398 205h1v1h-1zM402 205h1v1h-1zM407 205h1v1h-1zM412 205h1v1h-1zM417 205h1v1h-1zM422 205h1v1h-1zM426 205h1v1h-1zM431 205h1v1h-1zM436 205h1v1h-1zM441 205h1v1h-1zM445 205h1v1h-1zM450 205h1v1h-1zM455 205h1v1h-1zM460 205h1v1h-1zM465 205h1v1h-1zM469 205h1v1h-1zM474 205h1v1h-1zM479 205h1v1h-1zM484 205h1v1h-1zM488 205h1v1h-1zM493 205h1v1h-1zM498 205h1v1h-1zM503 205h1v1h-1zM507 205h1v1h-1zM512 205h1v1h-1zM517 205h1v1h-1zM522 205h1v1h-1zM527 205h1v1h-1zM531 205h1v1h-1zM536 205h1v1h-1zM307 218h1v1h-1zM312 218h1v1h-1zM317 218h1v1h-1zM321 218h1v1h-1zM326 218h1v1h-1zM331 218h1v1h-1zM336 218h1v1h-1zM340 218h1v1h-1zM345 218h1v1h-1zM350 218h1v1h-1zM355 218h1v1h-1zM359 218h1v1h-1zM364 218h1v1h-1zM369 218h1v1h-1zM374 218h1v1h-1zM379 218h1v1h-1zM383 218h1v1h-1zM388 218h1v1h-1zM393 218h1v1h-1zM398 218h1v1h-1zM402 218h1v1h-1zM407 218h1v1h-1zM412 218h1v1h-1zM417 218h1v1h-1zM422 218h1v1h-1zM426 218h1v1h-1zM431 218h1v1h-1zM436 218h1v1h-1zM441 218h1v1h-1zM445 218h1v1h-1zM450 218h1v1h-1zM455 218h1v1h-1zM460 218h1v1h-1zM465 218h1v1h-1zM469 218h1v1h-1zM474 218h1v1h-1zM479 218h1v1h-1zM484 218h1v1h-1zM488 218h1v1h-1zM493 218h1v1h-1zM498 218h1v1h-1zM503 218h1v1h-1zM507 218h1v1h-1zM512 218h1v1h-1zM517 218h1v1h-1zM522 218h1v1h-1zM527 218h1v1h-1zM531 218h1v1h-1zM536 218h1v1h-1zM307 231h1v1h-1zM312 231h1v1h-1zM317 231h1v1h-1zM321 231h1v1h-1zM326 231h1v1h-1zM331 231h1v1h-1zM336 231h1v1h-1zM340 231h1v1h-1zM345 231h1v1h-1zM350 231h1v1h-1zM355 231h1v1h-1zM359 231h1v1h-1zM364 231h1v1h-1zM369 231h1v1h-1zM374 231h1v1h-1zM379 231h1v1h-1zM383 231h1v1h-1zM388 231h1v1h-1zM393 231h1v1h-1zM398 231h1v1h-1zM402 231h1v1h-1zM407 231h1v1h-1zM412 231h1v1h-1zM417 231h1v1h-1zM422 231h1v1h-1zM426 231h1v1h-1zM431 231h1v1h-1zM436 231h1v1h-1zM441 231h1v1h-1zM445 231h1v1h-1zM450 231h1v1h-1zM455 231h1v1h-1zM460 231h1v1h-1zM465 231h1v1h-1zM469 231h1v1h-1zM474 231h1v1h-1zM479 231h1v1h-1zM484 231h1v1h-1zM488 231h1v1h-1zM493 231h1v1h-1zM498 231h1v1h-1zM503 231h1v1h-1zM507 231h1v1h-1zM512 231h1v1h-1zM517 231h1v1h-1zM522 231h1v1h-1zM527 231h1v1h-1zM531 231h1v1h-1zM536 231h1v1h-1zM307 244h1v1h-1zM312 244h1v1h-1zM317 244h1v1h-1zM321 244h1v1h-1zM326 244h1v1h-1zM331 244h1v1h-1zM336 244h1v1h-1zM340 244h1v1h-1zM345 244h1v1h-1zM350 244h1v1h-1zM355 244h1v1h-1zM359 244h1v1h-1zM364 244h1v1h-1zM369 244h1v1h-1zM374 244h1v1h-1zM379 244h1v1h-1zM383 244h1v1h-1zM388 244h1v1h-1zM393 244h1v1h-1zM398 244h1v1h-1zM402 244h1v1h-1zM407 244h1v1h-1zM412 244h1v1h-1zM417 244h1v1h-1zM422 244h1v1h-1zM426 244h1v1h-1zM431 244h1v1h-1zM436 244h1v1h-1zM441 244h1v1h-1zM445 244h1v1h-1zM450 244h1v1h-1zM455 244h1v1h-1zM460 244h1v1h-1zM465 244h1v1h-1zM469 244h1v1h-1zM474 244h1v1h-1zM479 244h1v1h-1zM484 244h1v1h-1zM488 244h1v1h-1zM493 244h1v1h-1zM498 244h1v1h-1zM503 244h1v1h-1zM507 244h1v1h-1zM512 244h1v1h-1zM517 244h1v1h-1zM522 244h1v1h-1zM527 244h1v1h-1zM531 244h1v1h-1zM536 244h1v1h-1z" fill="#ababab"/>
<path d="M307.47 204.1v2.4M312.25 204.1v2.4M317.02 204.1v2.4M321.8 204.1v2.4M326.57 204.1v2.4M331.34 204.1v2.4M336.12 204.1v2.4M340.89 204.1v2.4M345.67 204.1v2.4M350.44 204.1v2.4M355.21 204.1v2.4M359.99 204.1v2.4M364.76 204.1v2.4M369.54 204.1v2.4M374.31 204.1v2.4M379.08 204.1v2.4M383.86 204.1v2.4M388.63 204.1v2.4M393.41 204.1v2.4M398.18 204.1v2.4M402.95 204.1v2.4M407.73 204.1v2.4M412.5 204.1v2.4M417.28 204.1v2.4M422.05 204.1v2.4M426.82 204.1v2.4M431.6 204.1v2.4M436.37 204.1v2.4M441.15 204.1v2.4M445.92 204.1v2.4M450.69 204.1v2.4M455.47 204.1v2.4M460.24 204.1v2.4M465.02 204.1v2.4M469.79 204.1v2.4M474.56 204.1v2.4M479.34 204.1v2.4M484.11 204.1v2.4M488.89 204.1v2.4M493.66 204.1v2.4M498.43 204.1v2.4M503.21 204.1v2.4M507.98 204.1v2.4M512.76 204.1v2.4M517.53 204.1v2.4M522.3 204.1v2.4M527.08 204.1v2.4M531.85 204.1v2.4M536.63 204.1v2.4M420.85 155.14h2.4M420.85 157.78h2.4M420.85 160.42h2.4M420.85 163.06h2.4M420.85 165.7h2.4M420.85 168.34h2.4M420.85 170.98h2.4M420.85 173.62h2.4M420.85 176.26h2.4M420.85 178.9h2.4M420.85 181.54h2.4M420.85 184.18h2.4M420.85 186.82h2.4M420.85 189.46h2.4M420.85 192.1h2.4M420.85 194.74h2.4M420.85 197.38h2.4M420.85 200.02h2.4M420.85 202.66h2.4M420.85 205.3h2.4M420.85 207.94h2.4M420.85 210.58h2.4M420.85 213.22h2.4M420.85 215.86h2.4M420.85 218.5h2.4M420.85 221.14h2.4M420.85 223.78h2.4M420.85 226.42h2.4M420.85 229.06h2.4M420.85 231.7h2.4M420.85 234.34h2.4M420.85 236.98h2.4M420.85 239.62h2.4M420.85 242.26h2.4M420.85 244.9h2.4M420.85 247.54h2.4M420.85 250.18h2.4M420.85 252.82h2.4M420.85 255.46h2.4" stroke="#666" stroke-width="0.9" fill="none"/>
<path d="M302.7 204.66 L303.7 204.56 L304.7 204.55 L305.7 205.03 L306.7 204.64 L307.7 205.23 L308.7 204.61 L309.7 205.16 L310.7 204.64 L311.7 204.56 L312.7 205.05 L313.7 204.72 L314.7 205.06 L315.7 204.68 L316.7 204.59 L317.7 205.09 L318.7 205.05 L319.7 205.15 L320.7 205.06 L321.7 204.61 L322.7 204.99 L323.7 205.05 L324.7 204.87 L325.7 205.2 L326.7 204.73 L327 204.9 L327 206.83 L326 206.65 L325 206.16 L324 206.16 L323 206.61 L322 206.72 L321 206.21 L320 206.37 L319 206.66 L318 206.27 L317 206.75 L316 206.49 L315 206.19 L314 206.41 L313 206.55 L312 206.46 L311 206.62 L310 206.25 L309 206.71 L308 206.4 L307 206.6 L306 206.59 L305 206.44 L304 206.42 L303 206.7 L302.7 206.5Z" fill="#1414c2"/>
<path d="M327 201.31 L328 201.2 L329 201.05 L330 200.85 L331 200.69 L332 201.33 L333 201.14 L334 201.23 L335 200.88 L336 201.07 L337 201.33 L338 201.23 L339 201.07 L340 200.87 L341 200.95 L342 201.27 L343 200.91 L344 201.13 L345 201.07 L346 201.28 L347 201.22 L348 200.85 L349 200.65 L350 200.83 L351 201 L351 209.75 L350 209.86 L349 210.02 L348 210.07 L347 209.48 L346 210.03 L345 210.02 L344 210.06 L343 209.85 L342 209.64 L341 210.05 L340 210.01 L339 209.93 L338 210.09 L337 209.69 L336 209.51 L335 209.84 L334 210.01 L333 209.59 L332 209.98 L331 210.1 L330 209.61 L329 209.87 L328 209.92 L327 209.8Z" fill="#1414c2"/>
<path d="M351 202.28 L352 202.09 L353 202.13 L354 202.48 L355 202.5 L356 202.27 L357 202.01 L358 202.51 L359 202.49 L360 202.11 L361 202.36 L362 202.58 L363 202.57 L364 202.32 L365 202.28 L366 202.36 L367 202.08 L368 202.08 L369 202.08 L370 202.44 L371 202.2 L372 202.35 L373 202.23 L374 202.31 L375 202.05 L376 201.98 L377 202.65 L378 202.21 L379 202.02 L380 202.39 L381 202.5 L382 202.06 L383 202.37 L384 202.19 L385 202.31 L386 201.96 L387 201.97 L388 202.64 L389 202.56 L390 202.29 L391 202.35 L392 202.13 L393 202.5 L394 202.25 L395 202.61 L396 202.49 L397 202.52 L398 202.62 L398.3 202.3 L398.3 209.13 L397.3 208.98 L396.3 209.09 L395.3 209.08 L394.3 209.01 L393.3 208.99 L392.3 209.34 L391.3 209.56 L390.3 209.27 L389.3 209.61 L388.3 209.59 L387.3 208.99 L386.3 209.37 L385.3 209.23 L384.3 209.03 L383.3 209.62 L382.3 209.13 L381.3 209.35 L380.3 209.4 L379.3 209.62 L378.3 209.42 L377.3 209.23 L376.3 209.26 L375.3 209.06 L374.3 209.63 L373.3 209.64 L372.3 209.11 L371.3 208.98 L370.3 209.13 L369.3 209.2 L368.3 209.58 L367.3 209.58 L366.3 209.54 L365.3 208.98 L364.3 209.5 L363.3 209.45 L362.3 209.4 L361.3 209.64 L360.3 208.99 L359.3 209.05 L358.3 209.48 L357.3 209.61 L356.3 209.42 L355.3 209.16 L354.3 209.36 L353.3 209.48 L352.3 209.02 L351.3 209.18 L351 209.3Z" fill="#1414c2"/>
<path d="M398.3 203.23 L399.3 203.14 L400.3 203.39 L401.3 203.17 L402.3 203.22 L403.3 203.15 L404.3 203.52 L405.3 203.06 L406.3 203.55 L407.3 203.19 L408.3 203.08 L409.3 203.7 L410.3 203.2 L411.3 203.7 L412.3 203.66 L413.3 203.67 L414.3 203.15 L415.3 203.36 L416.3 203.12 L417.3 203.7 L418.3 203.64 L419.3 203.49 L420.3 203.37 L421.3 203.29 L422.3 203.63 L423.3 203.38 L424.3 203.49 L425.3 203.15 L426.3 203.21 L427.3 203.09 L428.3 203.55 L429.3 203.44 L430.3 203.15 L431.3 203.66 L432.3 203.24 L433.3 203.34 L434.3 203.16 L435.3 203.24 L436.3 203.64 L437.3 203.28 L438.3 203.17 L439.3 203.39 L440.3 203.27 L441.3 203.68 L442.3 203.13 L443.3 203.74 L444.3 203.09 L445.3 203.68 L446.1 203.4 L446.1 208.62 L445.1 208.3 L444.1 208.48 L443.1 208.35 L442.1 208.33 L441.1 208.29 L440.1 208.4 L439.1 208.84 L438.1 208.85 L437.1 208.8 L436.1 208.22 L435.1 208.35 L434.1 208.78 L433.1 208.19 L432.1 208.66 L431.1 208.36 L430.1 208.84 L429.1 208.16 L428.1 208.71 L427.1 208.39 L426.1 208.25 L425.1 208.15 L424.1 208.73 L423.1 208.52 L422.1 208.28 L421.1 208.45 L420.1 208.79 L419.1 208.3 L418.1 208.55 L417.1 208.25 L416.1 208.28 L415.1 208.69 L414.1 208.65 L413.1 208.29 L412.1 208.21 L411.1 208.21 L410.1 208.58 L409.1 208.5 L408.1 208.34 L407.1 208.29 L406.1 208.58 L405.1 208.65 L404.1 208.72 L403.1 208.56 L402.1 208.29 L401.1 208.2 L400.1 208.66 L399.1 208.44 L398.3 208.5Z" fill="#1414c2"/>
<path d="M446.1 200.36 L447.1 199.89 L448.1 200.42 L449.1 200.08 L450.1 200.44 L451.1 200.46 L452.1 200.2 L453.1 199.86 L454.1 200.49 L455.1 200.18 L456.1 200.46 L457.1 200.04 L458.1 199.98 L459.1 200.43 L460.1 200.11 L461.1 199.96 L462.1 200.11 L463.1 200.27 L464.1 199.85 L465.1 200.21 L466.1 200.16 L467.1 200.21 L468.1 199.93 L469.1 200.35 L470.1 200.42 L471.1 200.46 L472.1 200.07 L473.1 200.35 L474.1 200.12 L475.1 200.38 L476.1 199.89 L477.1 200.46 L478.1 200.52 L479.1 200.2 L480.1 200.21 L481.1 200.22 L482.1 200.23 L483.1 199.86 L484.1 200.53 L485.1 200.01 L486.1 199.98 L487.1 199.92 L488.1 200.03 L489.1 200.42 L490.1 199.87 L491.1 199.92 L492.1 200.34 L493.1 199.99 L494 200.2 L494 210.46 L493 210.87 L492 210.85 L491 210.82 L490 210.94 L489 210.52 L488 211.06 L487 210.95 L486 210.48 L485 210.54 L484 210.8 L483 210.8 L482 210.65 L481 210.54 L480 210.73 L479 210.55 L478 210.86 L477 211.05 L476 210.55 L475 210.85 L474 210.97 L473 210.57 L472 211.03 L471 211.11 L470 210.72 L469 210.74 L468 211.04 L467 210.82 L466 210.73 L465 211.11 L464 210.99 L463 210.69 L462 210.62 L461 210.68 L460 210.75 L459 211.14 L458 211.01 L457 211.09 L456 211.02 L455 211.04 L454 210.49 L453 210.81 L452 211.12 L451 211.1 L450 210.62 L449 210.75 L448 210.89 L447 210.71 L446.1 210.8Z" fill="#1414c2"/>
<path d="M494 203.42 L495 203.1 L496 203.35 L497 203.4 L498 203.06 L499 203.15 L500 203.73 L501 203.59 L502 203.71 L503 203.49 L504 203.62 L505 203.67 L506 203.67 L507 203.07 L508 203.5 L509 203.24 L510 203.52 L511 203.24 L512 203.43 L513 203.7 L514 203.48 L515 203.23 L516 203.41 L517 203.35 L517.4 203.4 L517.4 209.12 L516.4 208.65 L515.4 208.66 L514.4 208.9 L513.4 208.53 L512.4 208.87 L511.4 209.12 L510.4 208.81 L509.4 208.64 L508.4 208.78 L507.4 208.82 L506.4 208.55 L505.4 208.54 L504.4 208.54 L503.4 208.66 L502.4 208.73 L501.4 208.65 L500.4 208.62 L499.4 208.51 L498.4 208.83 L497.4 209.04 L496.4 208.88 L495.4 208.85 L494.4 208.91 L494 208.8Z" fill="#1414c2"/>
<path d="M517.4 204.69 L518.4 205.05 L519.4 204.87 L520.4 204.93 L521.4 204.98 L522.4 204.88 L523.4 204.77 L524.4 204.72 L525.4 204.71 L526.4 204.91 L527.4 204.82 L528.4 204.96 L529.4 204.56 L530.4 204.8 L531.4 205.15 L532.4 204.72 L533.4 204.94 L534.4 204.89 L535.4 204.75 L536.4 205.24 L537.4 204.76 L538.4 205.09 L539.4 204.66 L540.4 204.6 L541 204.9 L541 206.66 L540 206.36 L539 206.09 L538 206.32 L537 206.36 L536 206.56 L535 206.13 L534 206.21 L533 206.72 L532 206.57 L531 206.16 L530 206.29 L529 206.3 L528 206.52 L527 206.48 L526 206.64 L525 206.62 L524 206.41 L523 206.57 L522 206.57 L521 206.58 L520 206.38 L519 206.6 L518 206.55 L517.4 206.4Z" fill="#1414c2"/>
<line x1="446.1" y1="200.3" x2="494" y2="200.3" stroke="#30a0b0" stroke-width="0.6" />
<path d="M292.8 203.4h7l2 2.3-2 2.3h-7z" fill="#2222ee"/>
<text x="296.5" y="207.2" font-family="'Liberation Sans', sans-serif" font-size="4.2" fill="#fff" text-anchor="middle" >1</text>
<path d="M539.5 152.8l-2 3h4z" fill="#2233ee"/>
<rect x="302.7" y="152.5" width="238.7" height="105.6" fill="none" stroke="#3a3a3a" stroke-width="1"/>
<path d="M307.47 152.5v1.6M307.47 258.1v-1.6M312.25 152.5v1.6M312.25 258.1v-1.6M317.02 152.5v1.6M317.02 258.1v-1.6M321.8 152.5v1.6M321.8 258.1v-1.6M326.57 152.5v1.6M326.57 258.1v-1.6M331.34 152.5v1.6M331.34 258.1v-1.6M336.12 152.5v1.6M336.12 258.1v-1.6M340.89 152.5v1.6M340.89 258.1v-1.6M345.67 152.5v1.6M345.67 258.1v-1.6M350.44 152.5v1.6M350.44 258.1v-1.6M355.21 152.5v1.6M355.21 258.1v-1.6M359.99 152.5v1.6M359.99 258.1v-1.6M364.76 152.5v1.6M364.76 258.1v-1.6M369.54 152.5v1.6M369.54 258.1v-1.6M374.31 152.5v1.6M374.31 258.1v-1.6M379.08 152.5v1.6M379.08 258.1v-1.6M383.86 152.5v1.6M383.86 258.1v-1.6M388.63 152.5v1.6M388.63 258.1v-1.6M393.41 152.5v1.6M393.41 258.1v-1.6M398.18 152.5v1.6M398.18 258.1v-1.6M402.95 152.5v1.6M402.95 258.1v-1.6M407.73 152.5v1.6M407.73 258.1v-1.6M412.5 152.5v1.6M412.5 258.1v-1.6M417.28 152.5v1.6M417.28 258.1v-1.6M422.05 152.5v1.6M422.05 258.1v-1.6M426.82 152.5v1.6M426.82 258.1v-1.6M431.6 152.5v1.6M431.6 258.1v-1.6M436.37 152.5v1.6M436.37 258.1v-1.6M441.15 152.5v1.6M441.15 258.1v-1.6M445.92 152.5v1.6M445.92 258.1v-1.6M450.69 152.5v1.6M450.69 258.1v-1.6M455.47 152.5v1.6M455.47 258.1v-1.6M460.24 152.5v1.6M460.24 258.1v-1.6M465.02 152.5v1.6M465.02 258.1v-1.6M469.79 152.5v1.6M469.79 258.1v-1.6M474.56 152.5v1.6M474.56 258.1v-1.6M479.34 152.5v1.6M479.34 258.1v-1.6M484.11 152.5v1.6M484.11 258.1v-1.6M488.89 152.5v1.6M488.89 258.1v-1.6M493.66 152.5v1.6M493.66 258.1v-1.6M498.43 152.5v1.6M498.43 258.1v-1.6M503.21 152.5v1.6M503.21 258.1v-1.6M507.98 152.5v1.6M507.98 258.1v-1.6M512.76 152.5v1.6M512.76 258.1v-1.6M517.53 152.5v1.6M517.53 258.1v-1.6M522.3 152.5v1.6M522.3 258.1v-1.6M527.08 152.5v1.6M527.08 258.1v-1.6M531.85 152.5v1.6M531.85 258.1v-1.6M536.63 152.5v1.6M536.63 258.1v-1.6M302.7 155.14h1.6M541.4 155.14h-1.6M302.7 157.78h1.6M541.4 157.78h-1.6M302.7 160.42h1.6M541.4 160.42h-1.6M302.7 163.06h1.6M541.4 163.06h-1.6M302.7 165.7h1.6M541.4 165.7h-1.6M302.7 168.34h1.6M541.4 168.34h-1.6M302.7 170.98h1.6M541.4 170.98h-1.6M302.7 173.62h1.6M541.4 173.62h-1.6M302.7 176.26h1.6M541.4 176.26h-1.6M302.7 178.9h1.6M541.4 178.9h-1.6M302.7 181.54h1.6M541.4 181.54h-1.6M302.7 184.18h1.6M541.4 184.18h-1.6M302.7 186.82h1.6M541.4 186.82h-1.6M302.7 189.46h1.6M541.4 189.46h-1.6M302.7 192.1h1.6M541.4 192.1h-1.6M302.7 194.74h1.6M541.4 194.74h-1.6M302.7 197.38h1.6M541.4 197.38h-1.6M302.7 200.02h1.6M541.4 200.02h-1.6M302.7 202.66h1.6M541.4 202.66h-1.6M302.7 205.3h1.6M541.4 205.3h-1.6M302.7 207.94h1.6M541.4 207.94h-1.6M302.7 210.58h1.6M541.4 210.58h-1.6M302.7 213.22h1.6M541.4 213.22h-1.6M302.7 215.86h1.6M541.4 215.86h-1.6M302.7 218.5h1.6M541.4 218.5h-1.6M302.7 221.14h1.6M541.4 221.14h-1.6M302.7 223.78h1.6M541.4 223.78h-1.6M302.7 226.42h1.6M541.4 226.42h-1.6M302.7 229.06h1.6M541.4 229.06h-1.6M302.7 231.7h1.6M541.4 231.7h-1.6M302.7 234.34h1.6M541.4 234.34h-1.6M302.7 236.98h1.6M541.4 236.98h-1.6M302.7 239.62h1.6M541.4 239.62h-1.6M302.7 242.26h1.6M541.4 242.26h-1.6M302.7 244.9h1.6M541.4 244.9h-1.6M302.7 247.54h1.6M541.4 247.54h-1.6M302.7 250.18h1.6M541.4 250.18h-1.6M302.7 252.82h1.6M541.4 252.82h-1.6M302.7 255.46h1.6M541.4 255.46h-1.6" stroke="#333" stroke-width="0.75" fill="none"/>
<path d="M420.05 151.3h4l-2 2.4z" fill="#f39a1e"/>
<ellipse cx="422.05" cy="156.7" rx="1.3" ry="1.6" fill="none" stroke="#f5a040" stroke-width="0.8"/>
<rect x="316.9" y="239.8" width="20" height="13" fill="#fff" />
<rect x="339.8" y="239.8" width="20" height="13" fill="#fff" />
<rect x="387.5" y="239.8" width="20" height="13" fill="#fff" />
<rect x="436" y="239.8" width="20" height="13" fill="#fff" />
<rect x="483.9" y="239.8" width="20" height="13" fill="#fff" />
<rect x="508.4" y="239.8" width="20" height="13" fill="#fff" />
<text x="326.9" y="249.3" font-family="'Liberation Serif', serif" font-size="8.2" fill="#262626" font-weight="bold" text-anchor="middle" textLength="12.3" lengthAdjust="spacingAndGlyphs" >(t1)</text>
<text x="349.8" y="249.3" font-family="'Liberation Serif', serif" font-size="8.2" fill="#262626" font-weight="bold" text-anchor="middle" textLength="12.3" lengthAdjust="spacingAndGlyphs" >(t2)</text>
<text x="397.5" y="249.3" font-family="'Liberation Serif', serif" font-size="8.2" fill="#262626" font-weight="bold" text-anchor="middle" textLength="12.3" lengthAdjust="spacingAndGlyphs" >(t3)</text>
<text x="446" y="249.3" font-family="'Liberation Serif', serif" font-size="8.2" fill="#262626" font-weight="bold" text-anchor="middle" textLength="12.3" lengthAdjust="spacingAndGlyphs" >(t4)</text>
<text x="493.9" y="249.3" font-family="'Liberation Serif', serif" font-size="8.2" fill="#262626" font-weight="bold" text-anchor="middle" textLength="12.3" lengthAdjust="spacingAndGlyphs" >(t5)</text>
<text x="518.4" y="249.3" font-family="'Liberation Serif', serif" font-size="8.2" fill="#262626" font-weight="bold" text-anchor="middle" textLength="12.3" lengthAdjust="spacingAndGlyphs" >(t6)</text>
<rect x="307.1" y="158.3" width="108.4" height="12" fill="#fff" />
<text x="310.1" y="167.3" font-family="'Liberation Serif', serif" font-size="8.5" fill="#262626" font-weight="bold" textLength="102.4" lengthAdjust="spacingAndGlyphs" >Ch1/Ch2/Ch3(Ioa1/Iob1/Ioc1)</text>
<line x1="361.5" y1="172.4" x2="371.7" y2="195.38" stroke="#111" stroke-width="0.8" />
<polygon points="373,198.3 370.33,195.98 373.07,194.77" fill="#111"/>
<rect x="292.1" y="253.5" width="94.3" height="14.4" rx="1.5" fill="#ebebeb" stroke="#666" stroke-width="0.9"/>
<rect x="293.2" y="256.2" width="9" height="4.4" rx="2.2" fill="#1a1aff"/>
<text x="297.7" y="259.7" font-family="'Liberation Sans', sans-serif" font-size="3.74" fill="#fff" text-anchor="middle" >1</text>
<text x="307.5" y="260.2" font-family="'Liberation Sans', sans-serif" font-size="5.9" fill="#3434ff" stroke="#3434ff" stroke-width="0.15" textLength="13.2" lengthAdjust="spacingAndGlyphs" >20.0 A</text>
<rect x="293.2" y="263" width="9" height="4.4" rx="2.2" fill="#a010a8"/>
<text x="297.7" y="266.5" font-family="'Liberation Sans', sans-serif" font-size="3.74" fill="#fff" text-anchor="middle" >3</text>
<text x="307.5" y="267" font-family="'Liberation Sans', sans-serif" font-size="5.9" fill="#c020c0" stroke="#c020c0" stroke-width="0.15" textLength="13.2" lengthAdjust="spacingAndGlyphs" >20.0 A</text>
<rect x="344.5" y="256.2" width="8.5" height="4.4" rx="2.2" fill="#7ae6ec"/>
<text x="348.75" y="259.7" font-family="'Liberation Sans', sans-serif" font-size="3.74" fill="#fff" text-anchor="middle" >2</text>
<text x="358" y="260.2" font-family="'Liberation Sans', sans-serif" font-size="5.9" fill="#30d0e0" stroke="#30d0e0" stroke-width="0.15" textLength="13.2" lengthAdjust="spacingAndGlyphs" >20.0 A</text>
<rect x="387.2" y="261.3" width="51.3" height="6.7" rx="1" fill="#ebebeb" stroke="#666" stroke-width="0.9"/>
<rect x="438.5" y="261.3" width="74.3" height="6.7" rx="1" fill="#ebebeb" stroke="#666" stroke-width="0.9"/>
<rect x="512.8" y="261.3" width="31.9" height="6.7" rx="1" fill="#ebebeb" stroke="#666" stroke-width="0.9"/>
<text x="388.6" y="266.7" font-family="'Liberation Sans', sans-serif" font-size="6" fill="#1a1a1a" stroke="#1a1a1a" stroke-width="0.15" textLength="11.7" lengthAdjust="spacingAndGlyphs" >1.00 s</text>
<text x="437.7" y="266.7" font-family="'Liberation Sans', sans-serif" font-size="6" fill="#f5a623" stroke="#f5a623" stroke-width="0.15" text-anchor="end" textLength="20" lengthAdjust="spacingAndGlyphs" >0.00000 s</text>
<text x="452.9" y="266.7" font-family="'Liberation Sans', sans-serif" font-size="6" fill="#1a1a1a" stroke="#1a1a1a" stroke-width="0.15" textLength="18" lengthAdjust="spacingAndGlyphs" >/ 33.9 A</text>
<text x="512.4" y="266.7" font-family="'Liberation Sans', sans-serif" font-size="6" fill="#1a1a1a" stroke="#1a1a1a" stroke-width="0.15" text-anchor="end" textLength="16" lengthAdjust="spacingAndGlyphs" >&lt; 10 Hz</text>
<text x="514.6" y="266.7" font-family="'Liberation Sans', sans-serif" font-size="6" fill="#1a1a1a" stroke="#1a1a1a" stroke-width="0.15" textLength="17.6" lengthAdjust="spacingAndGlyphs" >14:27:16</text>
<rect x="440.4" y="263.2" width="9" height="3.7" rx="1.85" fill="#1a1aff"/>
<text x="444.9" y="266" font-family="'Liberation Sans', sans-serif" font-size="3.14" fill="#fff" text-anchor="middle" >1</text>
<text x="322" y="279" font-family="'Liberation Serif', serif" font-size="8.4" fill="#333" stroke="#333" stroke-width="0.12" textLength="44" lengthAdjust="spacingAndGlyphs" >Ch1:20A/div</text>
<text x="372.8" y="279" font-family="'Liberation Serif', serif" font-size="8.4" fill="#333" stroke="#333" stroke-width="0.12" textLength="44" lengthAdjust="spacingAndGlyphs" >Ch2:20A/div</text>
<text x="423.2" y="279" font-family="'Liberation Serif', serif" font-size="8.4" fill="#333" stroke="#333" stroke-width="0.12" textLength="44" lengthAdjust="spacingAndGlyphs" >Ch3:20A/div</text>
<text x="474" y="279" font-family="'Liberation Serif', serif" font-size="8.4" fill="#333" stroke="#333" stroke-width="0.12" textLength="40.8" lengthAdjust="spacingAndGlyphs" >Time:1s/div</text>
<text x="417" y="295.5" font-family="'Liberation Serif', serif" font-size="11.5" fill="#111" text-anchor="middle">(<tspan font-weight="bold">d</tspan>)</text>
<rect x="4.9" y="305.4" width="10.9" height="102.9" fill="#f2f2f2" />
<rect x="7.4" y="305.4" width="7.9" height="102.9" fill="#ebebeb" />
<rect x="15.8" y="306.5" width="239" height="107.5" fill="#ffffff" />
<path d="M39 309h1v1h-1zM39 311h1v1h-1zM39 314h1v1h-1zM39 317h1v1h-1zM39 319h1v1h-1zM39 322h1v1h-1zM39 325h1v1h-1zM39 328h1v1h-1zM39 330h1v1h-1zM39 333h1v1h-1zM39 336h1v1h-1zM39 338h1v1h-1zM39 341h1v1h-1zM39 344h1v1h-1zM39 346h1v1h-1zM39 349h1v1h-1zM39 352h1v1h-1zM39 354h1v1h-1zM39 357h1v1h-1zM39 360h1v1h-1zM39 362h1v1h-1zM39 365h1v1h-1zM39 368h1v1h-1zM39 371h1v1h-1zM39 373h1v1h-1zM39 376h1v1h-1zM39 379h1v1h-1zM39 381h1v1h-1zM39 384h1v1h-1zM39 387h1v1h-1zM39 389h1v1h-1zM39 392h1v1h-1zM39 395h1v1h-1zM39 397h1v1h-1zM39 400h1v1h-1zM39 403h1v1h-1zM39 405h1v1h-1zM39 408h1v1h-1zM39 411h1v1h-1zM63 309h1v1h-1zM63 311h1v1h-1zM63 314h1v1h-1zM63 317h1v1h-1zM63 319h1v1h-1zM63 322h1v1h-1zM63 325h1v1h-1zM63 328h1v1h-1zM63 330h1v1h-1zM63 333h1v1h-1zM63 336h1v1h-1zM63 338h1v1h-1zM63 341h1v1h-1zM63 344h1v1h-1zM63 346h1v1h-1zM63 349h1v1h-1zM63 352h1v1h-1zM63 354h1v1h-1zM63 357h1v1h-1zM63 360h1v1h-1zM63 362h1v1h-1zM63 365h1v1h-1zM63 368h1v1h-1zM63 371h1v1h-1zM63 373h1v1h-1zM63 376h1v1h-1zM63 379h1v1h-1zM63 381h1v1h-1zM63 384h1v1h-1zM63 387h1v1h-1zM63 389h1v1h-1zM63 392h1v1h-1zM63 395h1v1h-1zM63 397h1v1h-1zM63 400h1v1h-1zM63 403h1v1h-1zM63 405h1v1h-1zM63 408h1v1h-1zM63 411h1v1h-1zM87 309h1v1h-1zM87 311h1v1h-1zM87 314h1v1h-1zM87 317h1v1h-1zM87 319h1v1h-1zM87 322h1v1h-1zM87 325h1v1h-1zM87 328h1v1h-1zM87 330h1v1h-1zM87 333h1v1h-1zM87 336h1v1h-1zM87 338h1v1h-1zM87 341h1v1h-1zM87 344h1v1h-1zM87 346h1v1h-1zM87 349h1v1h-1zM87 352h1v1h-1zM87 354h1v1h-1zM87 357h1v1h-1zM87 360h1v1h-1zM87 362h1v1h-1zM87 365h1v1h-1zM87 368h1v1h-1zM87 371h1v1h-1zM87 373h1v1h-1zM87 376h1v1h-1zM87 379h1v1h-1zM87 381h1v1h-1zM87 384h1v1h-1zM87 387h1v1h-1zM87 389h1v1h-1zM87 392h1v1h-1zM87 395h1v1h-1zM87 397h1v1h-1zM87 400h1v1h-1zM87 403h1v1h-1zM87 405h1v1h-1zM87 408h1v1h-1zM87 411h1v1h-1zM111 309h1v1h-1zM111 311h1v1h-1zM111 314h1v1h-1zM111 317h1v1h-1zM111 319h1v1h-1zM111 322h1v1h-1zM111 325h1v1h-1zM111 328h1v1h-1zM111 330h1v1h-1zM111 333h1v1h-1zM111 336h1v1h-1zM111 338h1v1h-1zM111 341h1v1h-1zM111 344h1v1h-1zM111 346h1v1h-1zM111 349h1v1h-1zM111 352h1v1h-1zM111 354h1v1h-1zM111 357h1v1h-1zM111 360h1v1h-1zM111 362h1v1h-1zM111 365h1v1h-1zM111 368h1v1h-1zM111 371h1v1h-1zM111 373h1v1h-1zM111 376h1v1h-1zM111 379h1v1h-1zM111 381h1v1h-1zM111 384h1v1h-1zM111 387h1v1h-1zM111 389h1v1h-1zM111 392h1v1h-1zM111 395h1v1h-1zM111 397h1v1h-1zM111 400h1v1h-1zM111 403h1v1h-1zM111 405h1v1h-1zM111 408h1v1h-1zM111 411h1v1h-1zM135 309h1v1h-1zM135 311h1v1h-1zM135 314h1v1h-1zM135 317h1v1h-1zM135 319h1v1h-1zM135 322h1v1h-1zM135 325h1v1h-1zM135 328h1v1h-1zM135 330h1v1h-1zM135 333h1v1h-1zM135 336h1v1h-1zM135 338h1v1h-1zM135 341h1v1h-1zM135 344h1v1h-1zM135 346h1v1h-1zM135 349h1v1h-1zM135 352h1v1h-1zM135 354h1v1h-1zM135 357h1v1h-1zM135 360h1v1h-1zM135 362h1v1h-1zM135 365h1v1h-1zM135 368h1v1h-1zM135 371h1v1h-1zM135 373h1v1h-1zM135 376h1v1h-1zM135 379h1v1h-1zM135 381h1v1h-1zM135 384h1v1h-1zM135 387h1v1h-1zM135 389h1v1h-1zM135 392h1v1h-1zM135 395h1v1h-1zM135 397h1v1h-1zM135 400h1v1h-1zM135 403h1v1h-1zM135 405h1v1h-1zM135 408h1v1h-1zM135 411h1v1h-1zM159 309h1v1h-1zM159 311h1v1h-1zM159 314h1v1h-1zM159 317h1v1h-1zM159 319h1v1h-1zM159 322h1v1h-1zM159 325h1v1h-1zM159 328h1v1h-1zM159 330h1v1h-1zM159 333h1v1h-1zM159 336h1v1h-1zM159 338h1v1h-1zM159 341h1v1h-1zM159 344h1v1h-1zM159 346h1v1h-1zM159 349h1v1h-1zM159 352h1v1h-1zM159 354h1v1h-1zM159 357h1v1h-1zM159 360h1v1h-1zM159 362h1v1h-1zM159 365h1v1h-1zM159 368h1v1h-1zM159 371h1v1h-1zM159 373h1v1h-1zM159 376h1v1h-1zM159 379h1v1h-1zM159 381h1v1h-1zM159 384h1v1h-1zM159 387h1v1h-1zM159 389h1v1h-1zM159 392h1v1h-1zM159 395h1v1h-1zM159 397h1v1h-1zM159 400h1v1h-1zM159 403h1v1h-1zM159 405h1v1h-1zM159 408h1v1h-1zM159 411h1v1h-1zM183 309h1v1h-1zM183 311h1v1h-1zM183 314h1v1h-1zM183 317h1v1h-1zM183 319h1v1h-1zM183 322h1v1h-1zM183 325h1v1h-1zM183 328h1v1h-1zM183 330h1v1h-1zM183 333h1v1h-1zM183 336h1v1h-1zM183 338h1v1h-1zM183 341h1v1h-1zM183 344h1v1h-1zM183 346h1v1h-1zM183 349h1v1h-1zM183 352h1v1h-1zM183 354h1v1h-1zM183 357h1v1h-1zM183 360h1v1h-1zM183 362h1v1h-1zM183 365h1v1h-1zM183 368h1v1h-1zM183 371h1v1h-1zM183 373h1v1h-1zM183 376h1v1h-1zM183 379h1v1h-1zM183 381h1v1h-1zM183 384h1v1h-1zM183 387h1v1h-1zM183 389h1v1h-1zM183 392h1v1h-1zM183 395h1v1h-1zM183 397h1v1h-1zM183 400h1v1h-1zM183 403h1v1h-1zM183 405h1v1h-1zM183 408h1v1h-1zM183 411h1v1h-1zM207 309h1v1h-1zM207 311h1v1h-1zM207 314h1v1h-1zM207 317h1v1h-1zM207 319h1v1h-1zM207 322h1v1h-1zM207 325h1v1h-1zM207 328h1v1h-1zM207 330h1v1h-1zM207 333h1v1h-1zM207 336h1v1h-1zM207 338h1v1h-1zM207 341h1v1h-1zM207 344h1v1h-1zM207 346h1v1h-1zM207 349h1v1h-1zM207 352h1v1h-1zM207 354h1v1h-1zM207 357h1v1h-1zM207 360h1v1h-1zM207 362h1v1h-1zM207 365h1v1h-1zM207 368h1v1h-1zM207 371h1v1h-1zM207 373h1v1h-1zM207 376h1v1h-1zM207 379h1v1h-1zM207 381h1v1h-1zM207 384h1v1h-1zM207 387h1v1h-1zM207 389h1v1h-1zM207 392h1v1h-1zM207 395h1v1h-1zM207 397h1v1h-1zM207 400h1v1h-1zM207 403h1v1h-1zM207 405h1v1h-1zM207 408h1v1h-1zM207 411h1v1h-1zM230 309h1v1h-1zM230 311h1v1h-1zM230 314h1v1h-1zM230 317h1v1h-1zM230 319h1v1h-1zM230 322h1v1h-1zM230 325h1v1h-1zM230 328h1v1h-1zM230 330h1v1h-1zM230 333h1v1h-1zM230 336h1v1h-1zM230 338h1v1h-1zM230 341h1v1h-1zM230 344h1v1h-1zM230 346h1v1h-1zM230 349h1v1h-1zM230 352h1v1h-1zM230 354h1v1h-1zM230 357h1v1h-1zM230 360h1v1h-1zM230 362h1v1h-1zM230 365h1v1h-1zM230 368h1v1h-1zM230 371h1v1h-1zM230 373h1v1h-1zM230 376h1v1h-1zM230 379h1v1h-1zM230 381h1v1h-1zM230 384h1v1h-1zM230 387h1v1h-1zM230 389h1v1h-1zM230 392h1v1h-1zM230 395h1v1h-1zM230 397h1v1h-1zM230 400h1v1h-1zM230 403h1v1h-1zM230 405h1v1h-1zM230 408h1v1h-1zM230 411h1v1h-1zM20 319h1v1h-1zM25 319h1v1h-1zM30 319h1v1h-1zM34 319h1v1h-1zM39 319h1v1h-1zM44 319h1v1h-1zM49 319h1v1h-1zM54 319h1v1h-1zM58 319h1v1h-1zM63 319h1v1h-1zM68 319h1v1h-1zM73 319h1v1h-1zM77 319h1v1h-1zM82 319h1v1h-1zM87 319h1v1h-1zM92 319h1v1h-1zM97 319h1v1h-1zM101 319h1v1h-1zM106 319h1v1h-1zM111 319h1v1h-1zM116 319h1v1h-1zM120 319h1v1h-1zM125 319h1v1h-1zM130 319h1v1h-1zM135 319h1v1h-1zM140 319h1v1h-1zM144 319h1v1h-1zM149 319h1v1h-1zM154 319h1v1h-1zM159 319h1v1h-1zM163 319h1v1h-1zM168 319h1v1h-1zM173 319h1v1h-1zM178 319h1v1h-1zM183 319h1v1h-1zM187 319h1v1h-1zM192 319h1v1h-1zM197 319h1v1h-1zM202 319h1v1h-1zM207 319h1v1h-1zM211 319h1v1h-1zM216 319h1v1h-1zM221 319h1v1h-1zM226 319h1v1h-1zM230 319h1v1h-1zM235 319h1v1h-1zM240 319h1v1h-1zM245 319h1v1h-1zM250 319h1v1h-1zM20 333h1v1h-1zM25 333h1v1h-1zM30 333h1v1h-1zM34 333h1v1h-1zM39 333h1v1h-1zM44 333h1v1h-1zM49 333h1v1h-1zM54 333h1v1h-1zM58 333h1v1h-1zM63 333h1v1h-1zM68 333h1v1h-1zM73 333h1v1h-1zM77 333h1v1h-1zM82 333h1v1h-1zM87 333h1v1h-1zM92 333h1v1h-1zM97 333h1v1h-1zM101 333h1v1h-1zM106 333h1v1h-1zM111 333h1v1h-1zM116 333h1v1h-1zM120 333h1v1h-1zM125 333h1v1h-1zM130 333h1v1h-1zM135 333h1v1h-1zM140 333h1v1h-1zM144 333h1v1h-1zM149 333h1v1h-1zM154 333h1v1h-1zM159 333h1v1h-1zM163 333h1v1h-1zM168 333h1v1h-1zM173 333h1v1h-1zM178 333h1v1h-1zM183 333h1v1h-1zM187 333h1v1h-1zM192 333h1v1h-1zM197 333h1v1h-1zM202 333h1v1h-1zM207 333h1v1h-1zM211 333h1v1h-1zM216 333h1v1h-1zM221 333h1v1h-1zM226 333h1v1h-1zM230 333h1v1h-1zM235 333h1v1h-1zM240 333h1v1h-1zM245 333h1v1h-1zM250 333h1v1h-1zM20 346h1v1h-1zM25 346h1v1h-1zM30 346h1v1h-1zM34 346h1v1h-1zM39 346h1v1h-1zM44 346h1v1h-1zM49 346h1v1h-1zM54 346h1v1h-1zM58 346h1v1h-1zM63 346h1v1h-1zM68 346h1v1h-1zM73 346h1v1h-1zM77 346h1v1h-1zM82 346h1v1h-1zM87 346h1v1h-1zM92 346h1v1h-1zM97 346h1v1h-1zM101 346h1v1h-1zM106 346h1v1h-1zM111 346h1v1h-1zM116 346h1v1h-1zM120 346h1v1h-1zM125 346h1v1h-1zM130 346h1v1h-1zM135 346h1v1h-1zM140 346h1v1h-1zM144 346h1v1h-1zM149 346h1v1h-1zM154 346h1v1h-1zM159 346h1v1h-1zM163 346h1v1h-1zM168 346h1v1h-1zM173 346h1v1h-1zM178 346h1v1h-1zM183 346h1v1h-1zM187 346h1v1h-1zM192 346h1v1h-1zM197 346h1v1h-1zM202 346h1v1h-1zM207 346h1v1h-1zM211 346h1v1h-1zM216 346h1v1h-1zM221 346h1v1h-1zM226 346h1v1h-1zM230 346h1v1h-1zM235 346h1v1h-1zM240 346h1v1h-1zM245 346h1v1h-1zM250 346h1v1h-1zM20 360h1v1h-1zM25 360h1v1h-1zM30 360h1v1h-1zM34 360h1v1h-1zM39 360h1v1h-1zM44 360h1v1h-1zM49 360h1v1h-1zM54 360h1v1h-1zM58 360h1v1h-1zM63 360h1v1h-1zM68 360h1v1h-1zM73 360h1v1h-1zM77 360h1v1h-1zM82 360h1v1h-1zM87 360h1v1h-1zM92 360h1v1h-1zM97 360h1v1h-1zM101 360h1v1h-1zM106 360h1v1h-1zM111 360h1v1h-1zM116 360h1v1h-1zM120 360h1v1h-1zM125 360h1v1h-1zM130 360h1v1h-1zM135 360h1v1h-1zM140 360h1v1h-1zM144 360h1v1h-1zM149 360h1v1h-1zM154 360h1v1h-1zM159 360h1v1h-1zM163 360h1v1h-1zM168 360h1v1h-1zM173 360h1v1h-1zM178 360h1v1h-1zM183 360h1v1h-1zM187 360h1v1h-1zM192 360h1v1h-1zM197 360h1v1h-1zM202 360h1v1h-1zM207 360h1v1h-1zM211 360h1v1h-1zM216 360h1v1h-1zM221 360h1v1h-1zM226 360h1v1h-1zM230 360h1v1h-1zM235 360h1v1h-1zM240 360h1v1h-1zM245 360h1v1h-1zM250 360h1v1h-1zM20 373h1v1h-1zM25 373h1v1h-1zM30 373h1v1h-1zM34 373h1v1h-1zM39 373h1v1h-1zM44 373h1v1h-1zM49 373h1v1h-1zM54 373h1v1h-1zM58 373h1v1h-1zM63 373h1v1h-1zM68 373h1v1h-1zM73 373h1v1h-1zM77 373h1v1h-1zM82 373h1v1h-1zM87 373h1v1h-1zM92 373h1v1h-1zM97 373h1v1h-1zM101 373h1v1h-1zM106 373h1v1h-1zM111 373h1v1h-1zM116 373h1v1h-1zM120 373h1v1h-1zM125 373h1v1h-1zM130 373h1v1h-1zM135 373h1v1h-1zM140 373h1v1h-1zM144 373h1v1h-1zM149 373h1v1h-1zM154 373h1v1h-1zM159 373h1v1h-1zM163 373h1v1h-1zM168 373h1v1h-1zM173 373h1v1h-1zM178 373h1v1h-1zM183 373h1v1h-1zM187 373h1v1h-1zM192 373h1v1h-1zM197 373h1v1h-1zM202 373h1v1h-1zM207 373h1v1h-1zM211 373h1v1h-1zM216 373h1v1h-1zM221 373h1v1h-1zM226 373h1v1h-1zM230 373h1v1h-1zM235 373h1v1h-1zM240 373h1v1h-1zM245 373h1v1h-1zM250 373h1v1h-1zM20 387h1v1h-1zM25 387h1v1h-1zM30 387h1v1h-1zM34 387h1v1h-1zM39 387h1v1h-1zM44 387h1v1h-1zM49 387h1v1h-1zM54 387h1v1h-1zM58 387h1v1h-1zM63 387h1v1h-1zM68 387h1v1h-1zM73 387h1v1h-1zM77 387h1v1h-1zM82 387h1v1h-1zM87 387h1v1h-1zM92 387h1v1h-1zM97 387h1v1h-1zM101 387h1v1h-1zM106 387h1v1h-1zM111 387h1v1h-1zM116 387h1v1h-1zM120 387h1v1h-1zM125 387h1v1h-1zM130 387h1v1h-1zM135 387h1v1h-1zM140 387h1v1h-1zM144 387h1v1h-1zM149 387h1v1h-1zM154 387h1v1h-1zM159 387h1v1h-1zM163 387h1v1h-1zM168 387h1v1h-1zM173 387h1v1h-1zM178 387h1v1h-1zM183 387h1v1h-1zM187 387h1v1h-1zM192 387h1v1h-1zM197 387h1v1h-1zM202 387h1v1h-1zM207 387h1v1h-1zM211 387h1v1h-1zM216 387h1v1h-1zM221 387h1v1h-1zM226 387h1v1h-1zM230 387h1v1h-1zM235 387h1v1h-1zM240 387h1v1h-1zM245 387h1v1h-1zM250 387h1v1h-1zM20 400h1v1h-1zM25 400h1v1h-1zM30 400h1v1h-1zM34 400h1v1h-1zM39 400h1v1h-1zM44 400h1v1h-1zM49 400h1v1h-1zM54 400h1v1h-1zM58 400h1v1h-1zM63 400h1v1h-1zM68 400h1v1h-1zM73 400h1v1h-1zM77 400h1v1h-1zM82 400h1v1h-1zM87 400h1v1h-1zM92 400h1v1h-1zM97 400h1v1h-1zM101 400h1v1h-1zM106 400h1v1h-1zM111 400h1v1h-1zM116 400h1v1h-1zM120 400h1v1h-1zM125 400h1v1h-1zM130 400h1v1h-1zM135 400h1v1h-1zM140 400h1v1h-1zM144 400h1v1h-1zM149 400h1v1h-1zM154 400h1v1h-1zM159 400h1v1h-1zM163 400h1v1h-1zM168 400h1v1h-1zM173 400h1v1h-1zM178 400h1v1h-1zM183 400h1v1h-1zM187 400h1v1h-1zM192 400h1v1h-1zM197 400h1v1h-1zM202 400h1v1h-1zM207 400h1v1h-1zM211 400h1v1h-1zM216 400h1v1h-1zM221 400h1v1h-1zM226 400h1v1h-1zM230 400h1v1h-1zM235 400h1v1h-1zM240 400h1v1h-1zM245 400h1v1h-1zM250 400h1v1h-1z" fill="#ababab"/>
<path d="M20.58 359.05v2.4M25.36 359.05v2.4M30.14 359.05v2.4M34.92 359.05v2.4M39.7 359.05v2.4M44.48 359.05v2.4M49.26 359.05v2.4M54.04 359.05v2.4M58.82 359.05v2.4M63.6 359.05v2.4M68.38 359.05v2.4M73.16 359.05v2.4M77.94 359.05v2.4M82.72 359.05v2.4M87.5 359.05v2.4M92.28 359.05v2.4M97.06 359.05v2.4M101.84 359.05v2.4M106.62 359.05v2.4M111.4 359.05v2.4M116.18 359.05v2.4M120.96 359.05v2.4M125.74 359.05v2.4M130.52 359.05v2.4M135.3 359.05v2.4M140.08 359.05v2.4M144.86 359.05v2.4M149.64 359.05v2.4M154.42 359.05v2.4M159.2 359.05v2.4M163.98 359.05v2.4M168.76 359.05v2.4M173.54 359.05v2.4M178.32 359.05v2.4M183.1 359.05v2.4M187.88 359.05v2.4M192.66 359.05v2.4M197.44 359.05v2.4M202.22 359.05v2.4M207 359.05v2.4M211.78 359.05v2.4M216.56 359.05v2.4M221.34 359.05v2.4M226.12 359.05v2.4M230.9 359.05v2.4M235.68 359.05v2.4M240.46 359.05v2.4M245.24 359.05v2.4M250.02 359.05v2.4M134.1 309.19h2.4M134.1 311.88h2.4M134.1 314.56h2.4M134.1 317.25h2.4M134.1 319.94h2.4M134.1 322.62h2.4M134.1 325.31h2.4M134.1 328h2.4M134.1 330.69h2.4M134.1 333.38h2.4M134.1 336.06h2.4M134.1 338.75h2.4M134.1 341.44h2.4M134.1 344.12h2.4M134.1 346.81h2.4M134.1 349.5h2.4M134.1 352.19h2.4M134.1 354.88h2.4M134.1 357.56h2.4M134.1 360.25h2.4M134.1 362.94h2.4M134.1 365.62h2.4M134.1 368.31h2.4M134.1 371h2.4M134.1 373.69h2.4M134.1 376.38h2.4M134.1 379.06h2.4M134.1 381.75h2.4M134.1 384.44h2.4M134.1 387.12h2.4M134.1 389.81h2.4M134.1 392.5h2.4M134.1 395.19h2.4M134.1 397.88h2.4M134.1 400.56h2.4M134.1 403.25h2.4M134.1 405.94h2.4M134.1 408.62h2.4M134.1 411.31h2.4" stroke="#666" stroke-width="0.9" fill="none"/>
<path d="M15.8 359.59 L16.8 359.04 L17.8 359.56 L18.8 358.95 L19.8 359.49 L20.8 359.36 L21.8 359.3 L22.8 359.62 L23.8 359.35 L24.8 359.24 L25.8 359.5 L26.8 359.56 L27.8 359.38 L28.8 359.22 L29.8 359.27 L30.8 359.27 L31.8 359.46 L32.8 359.16 L33.8 359.22 L34.8 359.34 L35.8 359.22 L36.8 359.18 L37.8 359.5 L38.8 359.54 L39.8 359.3 L40 359.3 L40 361.86 L39 361.68 L38 361.76 L37 361.65 L36 361.95 L35 361.96 L34 361.61 L33 362.19 L32 361.78 L31 362.14 L30 362.14 L29 362.22 L28 361.69 L27 361.85 L26 362.19 L25 361.56 L24 361.58 L23 361.95 L22 361.9 L21 362.19 L20 362.09 L19 361.93 L18 362.25 L17 361.91 L16 361.91 L15.8 361.9Z" fill="#1414c2"/>
<path d="M40 354.23 L41 354.02 L42 354 L43 354.17 L44 354 L45 354.41 L46 354.22 L47 354.12 L48 353.82 L49 354.01 L50 354.03 L51 354.14 L52 354.15 L53 354.37 L54 354.43 L55 354.09 L56 354.06 L57 354.19 L58 354.45 L59 353.99 L60 354.12 L61 354.32 L62 353.87 L63 353.97 L63.9 354.1 L63.9 366.43 L62.9 366.33 L61.9 366.11 L60.9 365.83 L59.9 366.38 L58.9 366.23 L57.9 366.32 L56.9 366.44 L55.9 366.37 L54.9 366.04 L53.9 365.86 L52.9 365.95 L51.9 366.11 L50.9 366.1 L49.9 365.88 L48.9 365.88 L47.9 366.19 L46.9 366.17 L45.9 366 L44.9 366.45 L43.9 366.2 L42.9 365.78 L41.9 366.04 L40.9 366.3 L40 366.1Z" fill="#1414c2"/>
<path d="M63.9 357.56 L64.9 357.83 L65.9 357.35 L66.9 357.56 L67.9 357.94 L68.9 357.76 L69.9 357.82 L70.9 357.49 L71.9 357.7 L72.9 357.74 L73.9 357.54 L74.9 357.8 L75.9 357.72 L76.9 358.05 L77.9 357.75 L78.9 357.64 L79.9 357.44 L80.9 357.46 L81.9 357.88 L82.9 357.42 L83.9 357.42 L84.9 357.47 L85.9 357.72 L86.9 357.93 L87.9 357.78 L88.9 357.91 L89.9 357.39 L90.9 357.36 L91.9 357.89 L92.9 357.58 L93.9 357.85 L94.9 357.6 L95.9 357.47 L96.9 357.54 L97.9 357.42 L98.9 357.98 L99.9 357.76 L100.9 357.59 L101.9 357.66 L102.9 357.62 L103.9 357.39 L104.9 357.97 L105.9 357.76 L106.9 358.02 L107.9 357.66 L108.9 357.78 L109.9 357.52 L110.9 357.38 L111.3 357.7 L111.3 363 L110.3 362.95 L109.3 362.57 L108.3 362.98 L107.3 362.92 L106.3 362.56 L105.3 362.77 L104.3 363.02 L103.3 362.7 L102.3 363.01 L101.3 362.52 L100.3 362.62 L99.3 362.85 L98.3 362.5 L97.3 362.57 L96.3 362.96 L95.3 362.69 L94.3 362.9 L93.3 362.52 L92.3 362.47 L91.3 362.6 L90.3 362.48 L89.3 363.03 L88.3 362.55 L87.3 362.74 L86.3 362.43 L85.3 362.72 L84.3 362.62 L83.3 362.63 L82.3 362.4 L81.3 362.44 L80.3 362.93 L79.3 362.6 L78.3 362.52 L77.3 362.48 L76.3 362.55 L75.3 362.52 L74.3 362.37 L73.3 362.81 L72.3 362.59 L71.3 362.46 L70.3 362.84 L69.3 362.41 L68.3 362.54 L67.3 362.93 L66.3 362.44 L65.3 362.66 L64.3 362.94 L63.9 362.7Z" fill="#1414c2"/>
<path d="M111.3 359.11 L112.3 358.66 L113.3 358.8 L114.3 359.06 L115.3 358.81 L116.3 359.22 L117.3 358.7 L118.3 359.22 L119.3 358.9 L120.3 358.71 L121.3 358.87 L122.3 358.64 L123.3 359.04 L124.3 358.73 L125.3 359.18 L126.3 358.96 L127.3 358.81 L128.3 358.72 L129.3 358.98 L130.3 358.7 L131.3 359.16 L132.3 358.64 L133.3 358.91 L134.3 358.93 L135.3 358.74 L136.3 359.09 L137.3 358.82 L138.3 359.01 L139.3 358.95 L140.3 358.77 L141.3 358.82 L142.3 358.61 L143.3 358.67 L144.3 359.15 L145.3 358.77 L146.3 359.01 L147.3 358.63 L148.3 358.94 L149.3 358.8 L150.3 358.9 L151.3 358.76 L152.3 358.6 L153.3 358.77 L154.3 358.71 L155.3 358.64 L156.3 359.05 L157.3 358.75 L158.3 358.83 L158.8 358.9 L158.8 362.29 L157.8 362.19 L156.8 362.27 L155.8 362.25 L154.8 361.74 L153.8 361.84 L152.8 361.67 L151.8 362.13 L150.8 362.11 L149.8 361.9 L148.8 361.94 L147.8 362.11 L146.8 362.14 L145.8 361.82 L144.8 362.24 L143.8 361.9 L142.8 362.09 L141.8 361.78 L140.8 361.73 L139.8 362.29 L138.8 362.16 L137.8 362.15 L136.8 361.68 L135.8 361.68 L134.8 361.76 L133.8 361.79 L132.8 361.86 L131.8 361.92 L130.8 361.68 L129.8 361.87 L128.8 362.1 L127.8 361.78 L126.8 362.24 L125.8 362.05 L124.8 362.15 L123.8 361.83 L122.8 361.95 L121.8 362.13 L120.8 361.89 L119.8 361.65 L118.8 362.23 L117.8 362.19 L116.8 361.85 L115.8 361.68 L114.8 362.25 L113.8 362.08 L112.8 361.68 L111.8 361.82 L111.3 362Z" fill="#1414c2"/>
<path d="M158.8 352.03 L159.8 352.5 L160.8 352.1 L161.8 352.59 L162.8 352.47 L163.8 352.01 L164.8 352.44 L165.8 352.23 L166.8 352.47 L167.8 352.53 L168.8 352.15 L169.8 352.01 L170.8 352.61 L171.8 352.25 L172.8 352.6 L173.8 352.43 L174.8 352.47 L175.8 352.53 L176.8 352.39 L177.8 352.27 L178.8 351.99 L179.8 352.44 L180.8 352.25 L181.8 352.31 L182.8 352.6 L183.8 352.04 L184.8 352.48 L185.8 351.98 L186.8 352.44 L187.8 352.51 L188.8 352.13 L189.8 352.33 L190.8 352.63 L191.8 352.4 L192.8 352.33 L193.8 352.12 L194.8 351.99 L195.8 352.2 L196.8 352.24 L197.8 352.09 L198.8 352.17 L199.8 352.05 L200.8 352.44 L201.8 352.42 L202.8 352.12 L203.8 352.12 L204.8 352.31 L205.8 352.26 L206.8 352.61 L207.3 352.3 L207.3 367.6 L206.3 367.56 L205.3 367.97 L204.3 367.45 L203.3 367.74 L202.3 367.58 L201.3 367.92 L200.3 367.73 L199.3 367.88 L198.3 367.47 L197.3 367.82 L196.3 367.77 L195.3 367.67 L194.3 367.89 L193.3 367.93 L192.3 367.43 L191.3 367.55 L190.3 367.6 L189.3 367.49 L188.3 367.39 L187.3 367.55 L186.3 367.49 L185.3 367.84 L184.3 367.66 L183.3 367.43 L182.3 367.58 L181.3 367.68 L180.3 367.6 L179.3 367.47 L178.3 367.4 L177.3 367.36 L176.3 368.04 L175.3 367.88 L174.3 367.41 L173.3 367.85 L172.3 368.04 L171.3 367.74 L170.3 367.43 L169.3 367.69 L168.3 367.65 L167.3 367.48 L166.3 367.73 L165.3 367.36 L164.3 367.99 L163.3 367.8 L162.3 367.79 L161.3 368 L160.3 367.81 L159.3 367.53 L158.8 367.7Z" fill="#1414c2"/>
<path d="M207.3 358.42 L208.3 358.35 L209.3 358.27 L210.3 358.79 L211.3 358.84 L212.3 358.46 L213.3 358.38 L214.3 358.7 L215.3 358.84 L216.3 358.9 L217.3 358.37 L218.3 358.8 L219.3 358.83 L220.3 358.77 L221.3 358.48 L222.3 358.38 L223.3 358.83 L224.3 358.47 L225.3 358.51 L226.3 358.64 L227.3 358.51 L228.3 358.83 L229.3 358.42 L230.3 358.28 L231.3 358.65 L232.3 358.69 L233.3 358.82 L234.3 358.74 L235.3 358.88 L236.3 358.91 L237.3 358.6 L238.3 358.6 L239.3 358.36 L240.3 358.46 L241.3 358.66 L242.3 358.31 L243.3 358.73 L244.3 358.36 L245.3 358.56 L246.3 358.93 L247.3 358.31 L248.3 358.28 L249.3 358.56 L250.3 358.38 L251.3 358.76 L252.3 358.25 L253.3 358.84 L254.3 358.6 L254.3 361.95 L253.3 361.9 L252.3 361.65 L251.3 361.55 L250.3 361.81 L249.3 361.71 L248.3 361.64 L247.3 361.59 L246.3 361.66 L245.3 361.82 L244.3 361.93 L243.3 361.98 L242.3 361.47 L241.3 361.56 L240.3 361.66 L239.3 361.74 L238.3 361.59 L237.3 361.49 L236.3 361.41 L235.3 361.58 L234.3 361.67 L233.3 362.03 L232.3 361.99 L231.3 361.96 L230.3 362.03 L229.3 362.02 L228.3 361.78 L227.3 361.92 L226.3 361.39 L225.3 361.82 L224.3 361.78 L223.3 361.56 L222.3 361.75 L221.3 362.02 L220.3 361.69 L219.3 361.8 L218.3 361.56 L217.3 361.59 L216.3 361.97 L215.3 361.37 L214.3 361.48 L213.3 361.83 L212.3 361.66 L211.3 361.41 L210.3 361.81 L209.3 361.61 L208.3 361.76 L207.3 361.7Z" fill="#1414c2"/>
<path d="M4.8 357.8h7.5l2 2.4-2 2.4h-7.5z" fill="#2222ee"/>
<text x="8.8" y="361.7" font-family="'Liberation Sans', sans-serif" font-size="4.3" fill="#fff" text-anchor="middle" >1</text>
<rect x="15.8" y="306.5" width="239" height="107.5" fill="none" stroke="#3a3a3a" stroke-width="1"/>
<path d="M20.58 306.5v1.6M20.58 414v-1.6M25.36 306.5v1.6M25.36 414v-1.6M30.14 306.5v1.6M30.14 414v-1.6M34.92 306.5v1.6M34.92 414v-1.6M39.7 306.5v1.6M39.7 414v-1.6M44.48 306.5v1.6M44.48 414v-1.6M49.26 306.5v1.6M49.26 414v-1.6M54.04 306.5v1.6M54.04 414v-1.6M58.82 306.5v1.6M58.82 414v-1.6M63.6 306.5v1.6M63.6 414v-1.6M68.38 306.5v1.6M68.38 414v-1.6M73.16 306.5v1.6M73.16 414v-1.6M77.94 306.5v1.6M77.94 414v-1.6M82.72 306.5v1.6M82.72 414v-1.6M87.5 306.5v1.6M87.5 414v-1.6M92.28 306.5v1.6M92.28 414v-1.6M97.06 306.5v1.6M97.06 414v-1.6M101.84 306.5v1.6M101.84 414v-1.6M106.62 306.5v1.6M106.62 414v-1.6M111.4 306.5v1.6M111.4 414v-1.6M116.18 306.5v1.6M116.18 414v-1.6M120.96 306.5v1.6M120.96 414v-1.6M125.74 306.5v1.6M125.74 414v-1.6M130.52 306.5v1.6M130.52 414v-1.6M135.3 306.5v1.6M135.3 414v-1.6M140.08 306.5v1.6M140.08 414v-1.6M144.86 306.5v1.6M144.86 414v-1.6M149.64 306.5v1.6M149.64 414v-1.6M154.42 306.5v1.6M154.42 414v-1.6M159.2 306.5v1.6M159.2 414v-1.6M163.98 306.5v1.6M163.98 414v-1.6M168.76 306.5v1.6M168.76 414v-1.6M173.54 306.5v1.6M173.54 414v-1.6M178.32 306.5v1.6M178.32 414v-1.6M183.1 306.5v1.6M183.1 414v-1.6M187.88 306.5v1.6M187.88 414v-1.6M192.66 306.5v1.6M192.66 414v-1.6M197.44 306.5v1.6M197.44 414v-1.6M202.22 306.5v1.6M202.22 414v-1.6M207 306.5v1.6M207 414v-1.6M211.78 306.5v1.6M211.78 414v-1.6M216.56 306.5v1.6M216.56 414v-1.6M221.34 306.5v1.6M221.34 414v-1.6M226.12 306.5v1.6M226.12 414v-1.6M230.9 306.5v1.6M230.9 414v-1.6M235.68 306.5v1.6M235.68 414v-1.6M240.46 306.5v1.6M240.46 414v-1.6M245.24 306.5v1.6M245.24 414v-1.6M250.02 306.5v1.6M250.02 414v-1.6M15.8 309.19h1.6M254.8 309.19h-1.6M15.8 311.88h1.6M254.8 311.88h-1.6M15.8 314.56h1.6M254.8 314.56h-1.6M15.8 317.25h1.6M254.8 317.25h-1.6M15.8 319.94h1.6M254.8 319.94h-1.6M15.8 322.62h1.6M254.8 322.62h-1.6M15.8 325.31h1.6M254.8 325.31h-1.6M15.8 328h1.6M254.8 328h-1.6M15.8 330.69h1.6M254.8 330.69h-1.6M15.8 333.38h1.6M254.8 333.38h-1.6M15.8 336.06h1.6M254.8 336.06h-1.6M15.8 338.75h1.6M254.8 338.75h-1.6M15.8 341.44h1.6M254.8 341.44h-1.6M15.8 344.12h1.6M254.8 344.12h-1.6M15.8 346.81h1.6M254.8 346.81h-1.6M15.8 349.5h1.6M254.8 349.5h-1.6M15.8 352.19h1.6M254.8 352.19h-1.6M15.8 354.88h1.6M254.8 354.88h-1.6M15.8 357.56h1.6M254.8 357.56h-1.6M15.8 360.25h1.6M254.8 360.25h-1.6M15.8 362.94h1.6M254.8 362.94h-1.6M15.8 365.62h1.6M254.8 365.62h-1.6M15.8 368.31h1.6M254.8 368.31h-1.6M15.8 371h1.6M254.8 371h-1.6M15.8 373.69h1.6M254.8 373.69h-1.6M15.8 376.38h1.6M254.8 376.38h-1.6M15.8 379.06h1.6M254.8 379.06h-1.6M15.8 381.75h1.6M254.8 381.75h-1.6M15.8 384.44h1.6M254.8 384.44h-1.6M15.8 387.12h1.6M254.8 387.12h-1.6M15.8 389.81h1.6M254.8 389.81h-1.6M15.8 392.5h1.6M254.8 392.5h-1.6M15.8 395.19h1.6M254.8 395.19h-1.6M15.8 397.88h1.6M254.8 397.88h-1.6M15.8 400.56h1.6M254.8 400.56h-1.6M15.8 403.25h1.6M254.8 403.25h-1.6M15.8 405.94h1.6M254.8 405.94h-1.6M15.8 408.62h1.6M254.8 408.62h-1.6M15.8 411.31h1.6M254.8 411.31h-1.6" stroke="#333" stroke-width="0.75" fill="none"/>
<path d="M133.3 305.3h4l-2 2.4z" fill="#f39a1e"/>
<ellipse cx="135.3" cy="310.7" rx="1.3" ry="1.6" fill="none" stroke="#f5a040" stroke-width="0.8"/>
<rect x="30" y="395.7" width="20" height="13" fill="#fff" />
<rect x="52.7" y="395.7" width="20" height="13" fill="#fff" />
<rect x="100" y="395.7" width="20" height="13" fill="#fff" />
<rect x="148.7" y="395.7" width="20" height="13" fill="#fff" />
<rect x="197.7" y="395.7" width="20" height="13" fill="#fff" />
<rect x="222.2" y="395.7" width="20" height="13" fill="#fff" />
<text x="40" y="405.2" font-family="'Liberation Serif', serif" font-size="8.2" fill="#262626" font-weight="bold" text-anchor="middle" textLength="12.3" lengthAdjust="spacingAndGlyphs" >(t1)</text>
<text x="62.7" y="405.2" font-family="'Liberation Serif', serif" font-size="8.2" fill="#262626" font-weight="bold" text-anchor="middle" textLength="12.3" lengthAdjust="spacingAndGlyphs" >(t2)</text>
<text x="110" y="405.2" font-family="'Liberation Serif', serif" font-size="8.2" fill="#262626" font-weight="bold" text-anchor="middle" textLength="12.3" lengthAdjust="spacingAndGlyphs" >(t3)</text>
<text x="158.7" y="405.2" font-family="'Liberation Serif', serif" font-size="8.2" fill="#262626" font-weight="bold" text-anchor="middle" textLength="12.3" lengthAdjust="spacingAndGlyphs" >(t4)</text>
<text x="207.7" y="405.2" font-family="'Liberation Serif', serif" font-size="8.2" fill="#262626" font-weight="bold" text-anchor="middle" textLength="12.3" lengthAdjust="spacingAndGlyphs" >(t5)</text>
<text x="232.2" y="405.2" font-family="'Liberation Serif', serif" font-size="8.2" fill="#262626" font-weight="bold" text-anchor="middle" textLength="12.3" lengthAdjust="spacingAndGlyphs" >(t6)</text>
<rect x="19.9" y="310.9" width="108" height="12" fill="#fff" />
<text x="22.9" y="319.9" font-family="'Liberation Serif', serif" font-size="8.5" fill="#262626" font-weight="bold" textLength="102" lengthAdjust="spacingAndGlyphs" >Ch1/Ch2/Ch3(Ioa2/Iob2/Ioc2)</text>
<line x1="75" y1="324" x2="85.05" y2="352.88" stroke="#111" stroke-width="0.8" />
<polygon points="86.1,355.9 83.63,353.37 86.47,352.38" fill="#111"/>
<rect x="4.9" y="408.3" width="94.1" height="15.3" rx="1.5" fill="#ebebeb" stroke="#666" stroke-width="0.9"/>
<rect x="6" y="411.4" width="8.7" height="4.3" rx="2.15" fill="#1a1aff"/>
<text x="10.35" y="414.8" font-family="'Liberation Sans', sans-serif" font-size="3.65" fill="#fff" text-anchor="middle" >1</text>
<text x="19.6" y="415.3" font-family="'Liberation Sans', sans-serif" font-size="5.9" fill="#3434ff" stroke="#3434ff" stroke-width="0.15" textLength="13.2" lengthAdjust="spacingAndGlyphs" >20.0 A</text>
<rect x="6" y="418.1" width="8.7" height="4.7" rx="2.35" fill="#a010a8"/>
<text x="10.35" y="421.9" font-family="'Liberation Sans', sans-serif" font-size="4" fill="#fff" text-anchor="middle" >3</text>
<text x="19.6" y="422.4" font-family="'Liberation Sans', sans-serif" font-size="5.9" fill="#c020c0" stroke="#c020c0" stroke-width="0.15" textLength="13.2" lengthAdjust="spacingAndGlyphs" >20.0 A</text>
<rect x="57.3" y="411.4" width="8.5" height="4.3" rx="2.15" fill="#7ae6ec"/>
<text x="61.55" y="414.8" font-family="'Liberation Sans', sans-serif" font-size="3.65" fill="#fff" text-anchor="middle" >2</text>
<text x="70.5" y="415.3" font-family="'Liberation Sans', sans-serif" font-size="5.9" fill="#30d0e0" stroke="#30d0e0" stroke-width="0.15" textLength="13.2" lengthAdjust="spacingAndGlyphs" >20.0 A</text>
<rect x="100" y="415.3" width="51.3" height="6.9" rx="1" fill="#ebebeb" stroke="#666" stroke-width="0.9"/>
<rect x="151.3" y="415.3" width="74.3" height="6.9" rx="1" fill="#ebebeb" stroke="#666" stroke-width="0.9"/>
<rect x="225.6" y="415.3" width="31.9" height="6.9" rx="1" fill="#ebebeb" stroke="#666" stroke-width="0.9"/>
<text x="101.4" y="420.9" font-family="'Liberation Sans', sans-serif" font-size="6" fill="#1a1a1a" stroke="#1a1a1a" stroke-width="0.15" textLength="11.7" lengthAdjust="spacingAndGlyphs" >1.00 s</text>
<text x="150.5" y="420.9" font-family="'Liberation Sans', sans-serif" font-size="6" fill="#f5a623" stroke="#f5a623" stroke-width="0.15" text-anchor="end" textLength="20" lengthAdjust="spacingAndGlyphs" >0.00000 s</text>
<text x="165.7" y="420.9" font-family="'Liberation Sans', sans-serif" font-size="6" fill="#1a1a1a" stroke="#1a1a1a" stroke-width="0.15" textLength="18" lengthAdjust="spacingAndGlyphs" >/ 24.6 A</text>
<text x="225.2" y="420.9" font-family="'Liberation Sans', sans-serif" font-size="6" fill="#1a1a1a" stroke="#1a1a1a" stroke-width="0.15" text-anchor="end" textLength="16" lengthAdjust="spacingAndGlyphs" >&lt; 10 Hz</text>
<text x="227.4" y="420.9" font-family="'Liberation Sans', sans-serif" font-size="6" fill="#1a1a1a" stroke="#1a1a1a" stroke-width="0.15" textLength="17.6" lengthAdjust="spacingAndGlyphs" >17:26:01</text>
<rect x="153.2" y="417.2" width="9" height="3.9" rx="1.95" fill="#1a1aff"/>
<text x="157.7" y="420.2" font-family="'Liberation Sans', sans-serif" font-size="3.31" fill="#fff" text-anchor="middle" >1</text>
<text x="35.7" y="435.3" font-family="'Liberation Serif', serif" font-size="8.4" fill="#333" stroke="#333" stroke-width="0.12" textLength="43.5" lengthAdjust="spacingAndGlyphs" >Ch1:20A/div</text>
<text x="86.5" y="435.3" font-family="'Liberation Serif', serif" font-size="8.4" fill="#333" stroke="#333" stroke-width="0.12" textLength="43.5" lengthAdjust="spacingAndGlyphs" >Ch2:20A/div</text>
<text x="137.6" y="435.3" font-family="'Liberation Serif', serif" font-size="8.4" fill="#333" stroke="#333" stroke-width="0.12" textLength="43.5" lengthAdjust="spacingAndGlyphs" >Ch3:20A/div</text>
<text x="187.3" y="435.3" font-family="'Liberation Serif', serif" font-size="8.4" fill="#333" stroke="#333" stroke-width="0.12" textLength="41" lengthAdjust="spacingAndGlyphs" >Time:1s/div</text>
<text x="129.8" y="456" font-family="'Liberation Serif', serif" font-size="11.5" fill="#111" text-anchor="middle">(<tspan font-weight="bold">e</tspan>)</text>
<line x1="342.5" y1="374.4" x2="477" y2="374.4" stroke="#8c8c8c" stroke-width="0.9" />
<line x1="342.5" y1="353.4" x2="477" y2="353.4" stroke="#8c8c8c" stroke-width="0.9" />
<line x1="342.5" y1="332.4" x2="477" y2="332.4" stroke="#8c8c8c" stroke-width="0.9" />
<line x1="342.5" y1="311.4" x2="477" y2="311.4" stroke="#8c8c8c" stroke-width="0.9" />
<line x1="345.3" y1="311" x2="345.3" y2="395.8" stroke="#8c8c8c" stroke-width="0.9" />
<line x1="342.5" y1="395.4" x2="477" y2="395.4" stroke="#8c8c8c" stroke-width="0.9" />
<line x1="345.3" y1="395.4" x2="345.3" y2="398" stroke="#8c8c8c" stroke-width="0.9" />
<line x1="371.64" y1="395.4" x2="371.64" y2="398" stroke="#8c8c8c" stroke-width="0.9" />
<line x1="397.98" y1="395.4" x2="397.98" y2="398" stroke="#8c8c8c" stroke-width="0.9" />
<line x1="424.32" y1="395.4" x2="424.32" y2="398" stroke="#8c8c8c" stroke-width="0.9" />
<line x1="450.66" y1="395.4" x2="450.66" y2="398" stroke="#8c8c8c" stroke-width="0.9" />
<line x1="477" y1="395.4" x2="477" y2="398" stroke="#8c8c8c" stroke-width="0.9" />
<rect x="350.97" y="315.6" width="7.5" height="79.8" fill="#4a7ebb" />
<rect x="358.47" y="315.6" width="7.5" height="79.8" fill="#be4b48" />
<rect x="377.31" y="321.48" width="7.5" height="73.92" fill="#4a7ebb" />
<rect x="384.81" y="329.04" width="7.5" height="66.36" fill="#be4b48" />
<rect x="403.65" y="329.04" width="7.5" height="66.36" fill="#4a7ebb" />
<rect x="411.15" y="366" width="7.5" height="29.4" fill="#be4b48" />
<rect x="429.99" y="315.6" width="7.5" height="79.8" fill="#4a7ebb" />
<rect x="437.49" y="315.6" width="7.5" height="79.8" fill="#be4b48" />
<rect x="456.33" y="329.04" width="7.5" height="66.36" fill="#4a7ebb" />
<rect x="463.83" y="366" width="7.5" height="29.4" fill="#be4b48" />
<text x="336.3" y="398.4" font-family="'Liberation Sans', sans-serif" font-size="8.4" fill="#222" text-anchor="end" >75</text>
<text x="336.3" y="377.4" font-family="'Liberation Sans', sans-serif" font-size="8.4" fill="#222" text-anchor="end" >80</text>
<text x="336.3" y="356.4" font-family="'Liberation Sans', sans-serif" font-size="8.4" fill="#222" text-anchor="end" >85</text>
<text x="336.3" y="335.4" font-family="'Liberation Sans', sans-serif" font-size="8.4" fill="#222" text-anchor="end" >90</text>
<text x="336.3" y="314.4" font-family="'Liberation Sans', sans-serif" font-size="8.4" fill="#222" text-anchor="end" >95</text>
<text x="358.47" y="410.3" font-family="'Liberation Sans', sans-serif" font-size="9" fill="#222" text-anchor="middle" >t1-t2</text>
<text x="384.81" y="410.3" font-family="'Liberation Sans', sans-serif" font-size="9" fill="#222" text-anchor="middle" >t2-t3</text>
<text x="411.15" y="410.3" font-family="'Liberation Sans', sans-serif" font-size="9" fill="#222" text-anchor="middle" >t3-t4</text>
<text x="437.49" y="410.3" font-family="'Liberation Sans', sans-serif" font-size="9" fill="#222" text-anchor="middle" >t4-t5</text>
<text x="463.83" y="410.3" font-family="'Liberation Sans', sans-serif" font-size="9" fill="#222" text-anchor="middle" >t5-t6</text>
<text x="0" y="0" font-family="'Liberation Sans', sans-serif" font-size="9.2" font-weight="bold" fill="#111" text-anchor="middle" transform="translate(320.6 353) rotate(-90)">Efficiency (%)</text>
<rect x="494.7" y="354.8" width="5.2" height="4.8" fill="#4a7ebb" />
<rect x="494.7" y="376.5" width="5.2" height="4.8" fill="#be4b48" />
<text x="502.6" y="360.3" font-family="'Liberation Sans', sans-serif" font-size="9.4" fill="#222" textLength="22.6" lengthAdjust="spacingAndGlyphs" >REOS</text>
<text x="502.6" y="382" font-family="'Liberation Sans', sans-serif" font-size="9.4" fill="#222" textLength="21.6" lengthAdjust="spacingAndGlyphs" >ACSS</text>
<text x="483" y="411.7" font-family="'Liberation Sans', sans-serif" font-size="9.4" fill="#111" font-weight="bold" textLength="16.5" lengthAdjust="spacingAndGlyphs" >t (s)</text>
<text x="417.3" y="455.6" font-family="'Liberation Serif', serif" font-size="11" fill="#111" text-anchor="middle">(<tspan font-weight="bold">f</tspan>)</text>
</g>
</svg></body></html>
